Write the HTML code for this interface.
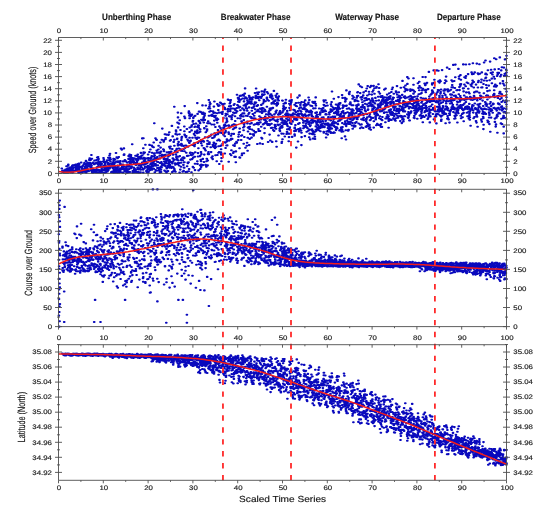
<!DOCTYPE html><html><head><meta charset="utf-8"><title>Ship phases</title><style>html,body{margin:0;padding:0;background:#fff;}body{width:550px;height:515px;overflow:hidden}svg{display:block;filter:blur(0.35px)}</style></head><body><svg width="550" height="515" viewBox="0 0 550 515"><rect width="550" height="515" fill="#fff"/><path d="M64.3 171.6h.6M71.2 168.7h.6M78.4 168.3h.6M84.0 164.1h.6M91.1 167.8h.6M97.9 163.0h.6M104.7 164.7h.6M110.4 159.2h.6M117.3 158.3h.6M126.1 170.2h.6M130.2 160.2h.6M139.1 163.7h.6M145.1 161.2h.6M151.3 156.9h.6M159.9 153.1h.6M165.4 161.1h.6M170.9 151.5h.6M178.3 141.9h.6M185.7 137.3h.6M192.3 154.8h.6M199.1 141.4h.6M205.5 132.2h.6M212.7 111.4h.6M219.9 102.6h.6M225.1 132.4h.6M232.8 129.2h.6M238.7 107.6h.6M245.7 115.8h.6M251.2 118.3h.6M259.1 116.2h.6M266.0 118.2h.6M273.3 101.4h.6M280.1 127.8h.6M285.6 99.8h.6M292.3 121.0h.6M299.8 117.5h.6M305.0 121.2h.6M312.6 131.6h.6M319.6 128.3h.6M327.2 105.5h.6M333.5 98.7h.6M339.2 118.5h.6M346.1 98.9h.6M352.9 105.2h.6M360.7 112.1h.6M366.4 88.5h.6M373.3 85.9h.6M380.2 103.1h.6M387.3 100.1h.6M393.4 97.7h.6M399.7 98.3h.6M406.8 89.5h.6M413.2 84.7h.6M421.7 90.4h.6M427.8 89.1h.6M433.9 87.8h.6M440.8 89.5h.6M447.5 89.4h.6M454.6 88.0h.6M460.7 84.1h.6M467.9 83.3h.6M473.5 82.0h.6M481.2 79.6h.6M486.5 80.8h.6M493.5 76.7h.6M500.9 74.8h.6M67.9 172.6h.6M75.6 169.7h.6M96.6 167.2h.6M101.4 172.4h.6M123.6 166.6h.6M131.5 159.4h.6M137.3 167.5h.6M142.9 168.9h.6M149.1 168.5h.6M157.0 168.0h.6M163.6 159.1h.6M169.4 166.7h.6M177.3 164.1h.6M183.3 170.8h.6M191.2 172.2h.6M197.7 153.1h.6M204.8 137.3h.6M210.4 147.3h.6M217.7 133.6h.6M223.8 127.9h.6M230.5 139.7h.6M237.4 118.2h.6M243.4 143.7h.6M249.3 128.9h.6M258.4 130.9h.6M264.7 123.1h.6M271.4 115.2h.6M278.8 113.5h.6M283.4 123.9h.6M291.3 120.7h.6M298.1 129.1h.6M305.4 125.5h.6M311.6 111.7h.6M318.8 127.5h.6M325.3 114.5h.6M330.5 120.5h.6M337.8 121.3h.6M345.2 101.1h.6M352.2 120.2h.6M357.1 119.3h.6M366.1 114.0h.6M372.1 110.4h.6M379.6 111.1h.6M385.3 105.8h.6M391.7 112.0h.6M398.0 110.3h.6M407.3 114.6h.6M412.0 107.9h.6M420.4 115.0h.6M425.8 115.4h.6M432.6 114.0h.6M438.0 114.2h.6M445.7 113.9h.6M453.1 112.1h.6M458.1 113.3h.6M466.6 112.8h.6M473.0 112.6h.6M478.7 112.7h.6M485.6 113.9h.6M492.4 112.8h.6M499.6 113.5h.6M505.9 113.1h.6M70.3 168.6h.6M77.3 169.4h.6M86.3 170.9h.6M91.9 172.6h.6M113.2 162.3h.6M118.1 170.5h.6M124.6 160.0h.6M132.0 162.4h.6M138.6 165.4h.6M145.4 158.2h.6M151.4 156.7h.6M159.7 158.4h.6M166.1 134.6h.6M172.4 136.4h.6M179.0 144.8h.6M184.2 151.3h.6M192.2 137.7h.6M198.7 111.6h.6M206.0 126.2h.6M212.9 146.4h.6M218.4 139.6h.6M224.4 124.5h.6M232.5 108.5h.6M238.8 132.3h.6M245.6 108.0h.6M251.9 99.4h.6M259.0 100.2h.6M264.2 133.1h.6M273.5 117.2h.6M279.4 130.4h.6M286.9 110.9h.6M294.4 127.6h.6M300.1 110.7h.6M305.2 115.7h.6M312.8 138.6h.6M318.4 126.2h.6M326.2 114.4h.6M333.3 116.7h.6M338.6 118.4h.6M346.8 123.7h.6M351.7 105.2h.6M359.9 93.1h.6M366.6 104.5h.6M373.3 106.3h.6M379.9 107.4h.6M386.5 116.6h.6M393.1 107.8h.6M399.1 109.9h.6M407.0 97.5h.6M415.1 106.1h.6M421.7 108.5h.6M428.0 101.3h.6M434.2 101.1h.6M440.1 100.7h.6M448.1 101.3h.6M454.1 99.9h.6M461.3 99.8h.6M467.8 98.4h.6M474.1 97.8h.6M480.8 96.0h.6M487.6 95.7h.6M493.2 94.9h.6M500.3 93.7h.6M64.1 171.2h.6M71.2 170.0h.6M79.0 171.8h.6M90.9 170.6h.6M97.8 170.3h.6M103.9 172.6h.6M111.6 165.8h.6M125.1 168.8h.6M132.8 170.9h.6M138.0 172.6h.6M145.7 166.6h.6M152.1 163.9h.6M159.4 155.6h.6M166.2 159.7h.6M174.0 168.9h.6M178.8 165.5h.6M185.9 145.8h.6M192.1 153.0h.6M199.7 156.3h.6M206.5 158.7h.6M213.1 137.8h.6M219.6 140.6h.6M227.6 109.7h.6M231.4 119.2h.6M239.7 157.8h.6M247.1 100.4h.6M253.6 124.8h.6M259.7 131.0h.6M266.4 121.7h.6M272.6 116.7h.6M280.2 127.6h.6M288.3 129.1h.6M294.4 128.4h.6M299.6 107.5h.6M306.7 127.2h.6M313.0 120.3h.6M320.7 124.8h.6M326.3 131.5h.6M333.5 132.3h.6M341.4 131.7h.6M347.8 118.5h.6M353.8 126.8h.6M359.9 128.2h.6M365.9 127.0h.6M373.4 127.6h.6M379.6 116.3h.6M388.3 116.3h.6M394.1 119.2h.6M401.5 108.4h.6M408.3 117.1h.6M415.3 114.1h.6M420.5 115.4h.6M428.1 117.1h.6M435.8 116.5h.6M440.8 116.6h.6M447.6 118.0h.6M454.9 116.5h.6M460.5 115.8h.6M469.5 117.2h.6M473.3 118.2h.6M481.1 120.1h.6M488.3 121.8h.6M494.6 121.9h.6M501.7 124.1h.6M88.9 165.2h.6M96.0 162.7h.6M103.2 166.9h.6M111.7 164.4h.6M115.4 169.8h.6M123.0 172.6h.6M130.8 168.3h.6M136.7 162.1h.6M143.6 161.1h.6M151.5 156.1h.6M156.6 152.8h.6M163.0 149.3h.6M169.4 154.6h.6M177.6 144.0h.6M183.9 157.5h.6M189.3 132.0h.6M196.9 132.0h.6M204.5 113.5h.6M211.3 157.6h.6M217.6 134.2h.6M224.5 153.5h.6M231.4 133.8h.6M236.5 142.7h.6M243.7 109.7h.6M251.3 123.1h.6M257.0 144.0h.6M263.1 95.0h.6M270.8 128.0h.6M278.2 135.5h.6M286.1 118.6h.6M289.8 122.9h.6M299.8 129.1h.6M304.1 108.2h.6M311.6 119.8h.6M318.9 108.5h.6M325.5 111.2h.6M331.9 110.9h.6M337.7 114.2h.6M345.4 113.0h.6M351.8 115.0h.6M356.8 96.1h.6M367.0 125.5h.6M372.6 117.9h.6M379.8 111.4h.6M385.2 101.4h.6M393.2 102.9h.6M399.8 106.1h.6M407.2 104.2h.6M412.2 89.9h.6M418.2 103.7h.6M425.7 103.1h.6M431.1 99.9h.6M438.2 101.2h.6M445.7 101.3h.6M452.0 98.7h.6M458.8 98.5h.6M466.0 97.3h.6M474.1 97.3h.6M480.5 98.2h.6M486.0 95.8h.6M493.9 93.7h.6M499.1 93.5h.6M506.2 91.6h.6M67.7 168.2h.6M87.4 171.0h.6M92.9 162.6h.6M99.4 163.6h.6M105.8 172.1h.6M113.8 165.5h.6M120.1 164.3h.6M127.1 172.6h.6M134.5 164.2h.6M139.6 156.8h.6M147.9 165.7h.6M153.3 147.2h.6M160.6 167.3h.6M167.4 166.0h.6M173.4 141.9h.6M180.2 130.0h.6M187.2 139.5h.6M195.1 132.2h.6M201.8 113.8h.6M209.0 136.7h.6M214.1 101.5h.6M221.0 112.6h.6M227.6 111.6h.6M235.0 109.9h.6M240.0 118.4h.6M249.1 97.0h.6M255.0 118.6h.6M261.0 104.9h.6M268.4 100.8h.6M275.9 97.1h.6M282.0 100.5h.6M289.2 117.8h.6M295.9 103.0h.6M302.9 115.2h.6M309.8 126.1h.6M315.5 126.4h.6M323.4 131.7h.6M329.1 114.4h.6M335.7 104.5h.6M342.0 123.1h.6M348.9 113.0h.6M356.7 119.2h.6M361.5 106.8h.6M370.1 116.9h.6M376.0 112.2h.6M382.8 109.4h.6M388.0 106.7h.6M395.8 104.3h.6M403.2 101.0h.6M409.3 99.3h.6M416.3 100.3h.6M421.3 93.0h.6M430.4 94.8h.6M436.1 93.6h.6M443.9 93.3h.6M449.1 90.8h.6M457.1 90.1h.6M463.3 91.4h.6M471.3 86.2h.6M475.7 84.6h.6M483.2 84.0h.6M491.6 83.2h.6M496.5 85.7h.6M503.0 83.6h.6M66.6 169.1h.6M72.3 172.6h.6M79.6 167.2h.6M87.8 170.3h.6M92.6 171.6h.6M100.1 170.9h.6M107.8 162.9h.6M113.6 163.7h.6M120.2 164.7h.6M127.0 165.9h.6M135.1 171.8h.6M141.4 158.3h.6M147.4 168.1h.6M152.7 168.6h.6M159.6 167.8h.6M168.2 167.1h.6M175.2 171.8h.6M180.9 162.7h.6M188.3 162.3h.6M194.5 156.8h.6M200.8 167.1h.6M208.1 108.5h.6M215.2 155.3h.6M220.3 128.1h.6M228.8 125.9h.6M235.4 110.5h.6M240.6 99.5h.6M247.3 116.0h.6M254.9 109.3h.6M260.9 126.7h.6M267.2 99.7h.6M275.9 141.2h.6M281.9 125.9h.6M287.9 120.0h.6M296.7 114.9h.6M301.8 114.3h.6M308.1 111.4h.6M315.4 117.7h.6M321.4 125.4h.6M328.1 123.5h.6M336.0 108.4h.6M342.2 118.3h.6M348.6 108.4h.6M356.9 118.0h.6M362.9 128.0h.6M369.7 120.2h.6M376.5 110.8h.6M382.8 98.4h.6M390.1 101.9h.6M395.9 100.9h.6M403.9 116.3h.6M408.9 108.3h.6M416.0 112.6h.6M421.1 111.5h.6M428.9 114.0h.6M437.0 113.9h.6M443.9 112.7h.6M449.3 111.1h.6M456.4 111.1h.6M463.3 112.7h.6M469.7 111.8h.6M475.9 113.1h.6M483.5 112.5h.6M489.0 113.5h.6M496.7 115.3h.6M503.5 118.1h.6M70.6 167.4h.6M76.8 164.9h.6M82.5 165.9h.6M91.1 155.0h.6M96.9 157.5h.6M103.2 158.0h.6M109.6 159.4h.6M115.7 153.0h.6M130.5 155.8h.6M137.4 154.5h.6M143.3 153.6h.6M149.3 158.2h.6M156.0 139.5h.6M163.8 156.6h.6M169.8 148.5h.6M177.8 127.4h.6M184.7 118.2h.6M192.5 121.7h.6M198.2 126.9h.6M203.5 122.5h.6M210.4 111.0h.6M215.3 115.8h.6M224.2 103.8h.6M231.0 116.7h.6M238.2 99.1h.6M244.8 88.4h.6M251.5 110.7h.6M257.7 94.2h.6M264.8 89.5h.6M271.9 96.0h.6M276.8 93.7h.6M284.5 123.7h.6M290.1 105.3h.6M299.2 95.7h.6M305.5 109.4h.6M312.3 101.9h.6M317.5 125.1h.6M325.2 100.3h.6M331.7 91.5h.6M338.5 103.5h.6M344.7 97.9h.6M352.2 95.7h.6M358.4 84.4h.6M365.8 98.0h.6M372.2 109.0h.6M378.2 84.2h.6M385.4 100.0h.6M392.4 87.6h.6M399.2 102.4h.6M405.2 85.5h.6M413.2 78.3h.6M419.0 81.7h.6M425.2 77.1h.6M433.4 70.4h.6M438.1 70.7h.6M446.8 67.6h.6M453.0 64.9h.6M458.1 68.9h.6M465.6 64.5h.6M472.6 63.3h.6M479.1 64.3h.6M485.2 60.5h.6M494.0 58.3h.6M499.5 57.4h.6M506.2 55.7h.6M63.5 172.6h.6M69.3 168.4h.6M76.4 169.5h.6M84.3 171.6h.6M98.0 164.8h.6M106.2 170.7h.6M111.0 172.2h.6M117.8 161.3h.6M123.6 148.4h.6M130.2 158.3h.6M136.4 159.7h.6M144.3 164.2h.6M150.0 168.5h.6M156.8 161.8h.6M163.6 155.3h.6M170.8 162.3h.6M176.8 139.1h.6M183.4 149.0h.6M191.3 130.4h.6M198.3 170.4h.6M205.3 150.5h.6M211.8 116.0h.6M218.0 110.1h.6M225.3 115.8h.6M230.5 100.0h.6M239.7 106.9h.6M245.7 104.8h.6M251.6 129.5h.6M257.6 105.3h.6M265.2 101.3h.6M270.9 97.6h.6M278.4 100.5h.6M285.8 115.2h.6M292.1 114.2h.6M298.7 129.9h.6M306.0 111.7h.6M311.6 130.3h.6M319.4 122.5h.6M325.3 120.9h.6M331.3 102.1h.6M339.1 104.8h.6M345.0 123.1h.6M353.8 125.3h.6M358.5 114.4h.6M367.0 117.4h.6M372.1 104.8h.6M380.3 105.4h.6M385.5 102.2h.6M391.9 115.0h.6M400.0 110.4h.6M407.0 105.9h.6M412.4 104.7h.6M420.2 108.8h.6M426.4 107.6h.6M432.9 107.7h.6M440.1 108.9h.6M446.5 106.9h.6M452.2 106.2h.6M461.1 106.5h.6M467.3 106.3h.6M473.1 105.7h.6M479.2 106.6h.6M485.8 103.3h.6M492.4 104.4h.6M501.3 102.0h.6M83.5 164.3h.6M89.7 164.3h.6M97.5 166.7h.6M102.8 161.5h.6M109.2 155.5h.6M116.4 157.3h.6M123.7 161.2h.6M130.7 161.7h.6M137.7 158.4h.6M143.5 164.7h.6M150.8 163.6h.6M157.1 157.0h.6M163.8 151.2h.6M169.1 146.9h.6M176.2 149.7h.6M184.7 148.1h.6M189.4 127.5h.6M197.1 130.3h.6M204.3 115.8h.6M210.1 103.8h.6M217.0 104.0h.6M224.7 125.9h.6M229.4 116.4h.6M238.4 134.5h.6M245.6 106.0h.6M251.4 118.0h.6M257.7 122.8h.6M264.9 116.5h.6M272.6 98.5h.6M277.4 104.3h.6M284.5 108.9h.6M291.4 100.0h.6M298.5 114.8h.6M305.3 121.1h.6M311.8 106.0h.6M318.4 130.3h.6M324.6 110.2h.6M331.4 110.2h.6M338.4 107.1h.6M345.2 99.5h.6M352.1 109.7h.6M358.1 104.2h.6M366.0 118.7h.6M371.8 106.4h.6M378.1 104.3h.6M386.3 97.6h.6M391.7 89.2h.6M399.6 96.4h.6M405.8 90.1h.6M412.0 98.3h.6M418.9 90.2h.6M425.5 92.2h.6M432.5 91.5h.6M440.4 92.1h.6M444.4 89.2h.6M452.6 87.4h.6M460.1 85.7h.6M465.4 86.2h.6M471.9 83.2h.6M480.9 82.3h.6M485.9 85.0h.6M494.4 78.7h.6M500.1 76.4h.6M506.2 75.5h.6M66.0 172.6h.6M72.1 170.7h.6M78.7 169.3h.6M86.8 170.5h.6M92.5 168.6h.6M99.3 170.9h.6M106.6 168.7h.6M113.9 171.9h.6M118.7 170.9h.6M127.9 165.2h.6M133.5 161.4h.6M140.0 168.4h.6M147.7 166.2h.6M153.5 161.2h.6M160.1 142.5h.6M168.3 134.6h.6M173.5 159.9h.6M180.9 160.1h.6M188.1 155.8h.6M193.0 117.9h.6M201.1 154.1h.6M207.9 121.3h.6M215.8 134.8h.6M220.4 132.5h.6M227.7 108.9h.6M234.8 109.7h.6M241.1 95.6h.6M247.3 102.6h.6M254.7 93.0h.6M261.2 118.0h.6M268.3 112.1h.6M275.4 126.3h.6M282.1 120.1h.6M289.2 107.9h.6M294.9 119.6h.6M300.9 111.6h.6M308.4 124.3h.6M314.8 121.1h.6M321.4 108.8h.6M328.1 119.4h.6M334.4 117.5h.6M342.6 111.4h.6M350.1 119.4h.6M354.9 125.7h.6M362.5 105.1h.6M368.5 103.3h.6M376.2 87.8h.6M382.3 104.3h.6M388.8 102.8h.6M395.7 91.2h.6M402.1 106.9h.6M408.7 106.8h.6M416.2 99.1h.6M421.7 101.6h.6M429.6 101.9h.6M435.9 102.3h.6M443.2 100.0h.6M449.7 100.6h.6M456.9 101.5h.6M461.6 99.6h.6M469.9 98.7h.6M476.1 98.2h.6M483.0 97.2h.6M490.1 96.8h.6M496.9 96.4h.6M501.6 94.2h.6M67.3 169.5h.6M75.5 168.9h.6M82.7 171.1h.6M87.0 168.7h.6M96.1 162.6h.6M101.4 163.9h.6M109.7 157.8h.6M115.1 171.2h.6M120.7 164.7h.6M128.8 169.1h.6M136.3 159.1h.6M143.1 138.2h.6M150.3 167.8h.6M156.2 157.4h.6M161.8 156.3h.6M168.5 152.7h.6M175.6 154.3h.6M181.4 144.9h.6M188.6 111.3h.6M194.2 146.3h.6M202.6 113.9h.6M209.2 111.8h.6M218.3 146.2h.6M223.2 127.6h.6M228.9 106.3h.6M236.7 94.8h.6M242.1 108.4h.6M249.0 112.7h.6M254.7 102.4h.6M264.0 92.0h.6M269.9 95.4h.6M275.4 95.6h.6M282.9 108.6h.6M290.8 116.4h.6M296.8 119.8h.6M303.6 102.3h.6M309.0 112.2h.6M315.9 116.1h.6M323.0 108.1h.6M330.8 110.8h.6M336.1 129.0h.6M342.3 108.1h.6M351.6 112.8h.6M356.4 97.7h.6M364.2 100.8h.6M370.8 85.9h.6M377.9 96.7h.6M385.1 107.5h.6M391.4 113.0h.6M397.8 104.4h.6M403.6 97.1h.6M410.1 89.4h.6M417.6 83.3h.6M425.0 85.3h.6M431.9 84.6h.6M439.2 82.6h.6M444.4 83.1h.6M451.3 80.3h.6M458.7 78.7h.6M464.2 77.2h.6M471.3 72.4h.6M477.5 73.2h.6M485.4 73.6h.6M490.8 69.7h.6M498.4 69.0h.6M503.6 67.6h.6M71.9 171.6h.6M78.4 172.5h.6M86.5 168.4h.6M93.3 163.0h.6M100.1 172.6h.6M106.2 166.4h.6M113.5 172.2h.6M119.3 169.1h.6M126.7 169.0h.6M132.6 172.2h.6M140.3 167.5h.6M147.4 171.5h.6M153.7 153.5h.6M159.2 169.2h.6M167.8 160.2h.6M173.2 159.0h.6M179.5 156.1h.6M186.9 155.9h.6M192.6 166.9h.6M200.3 111.9h.6M207.2 140.8h.6M214.0 120.6h.6M220.7 152.2h.6M226.9 121.6h.6M233.5 133.9h.6M239.9 115.7h.6M247.7 131.5h.6M253.4 135.6h.6M260.2 108.5h.6M267.2 118.4h.6M274.7 100.9h.6M279.6 124.5h.6M286.7 131.9h.6M294.5 114.3h.6M301.2 132.8h.6M308.2 102.5h.6M315.3 103.7h.6M322.1 110.3h.6M328.7 119.4h.6M334.6 122.4h.6M340.9 119.4h.6M347.6 117.8h.6M355.0 122.9h.6M361.5 109.5h.6M368.6 99.1h.6M375.1 97.9h.6M381.6 126.9h.6M389.0 93.3h.6M395.5 110.6h.6M402.1 119.2h.6M408.6 114.7h.6M414.9 108.5h.6M421.2 113.0h.6M428.8 114.3h.6M435.7 114.3h.6M442.2 112.9h.6M449.0 113.6h.6M457.4 112.3h.6M461.9 114.0h.6M469.1 115.3h.6M476.2 114.7h.6M482.1 113.6h.6M489.1 114.9h.6M497.2 116.3h.6M503.3 115.9h.6M65.0 171.8h.6M79.4 172.6h.6M93.3 169.6h.6M100.2 171.4h.6M105.9 167.0h.6M113.2 161.1h.6M118.8 172.6h.6M126.8 166.7h.6M133.4 167.6h.6M139.6 168.3h.6M145.3 163.9h.6M153.3 163.1h.6M159.4 169.9h.6M166.2 172.6h.6M174.3 170.3h.6M180.0 169.6h.6M186.0 136.0h.6M192.9 157.6h.6M198.5 132.6h.6M206.3 161.2h.6M213.8 143.3h.6M220.7 145.6h.6M226.5 141.4h.6M234.2 128.1h.6M240.1 110.3h.6M246.8 142.7h.6M253.0 107.7h.6M259.8 108.6h.6M268.2 124.4h.6M272.9 118.6h.6M281.3 133.6h.6M288.4 141.2h.6M294.2 131.1h.6M300.8 130.5h.6M307.2 128.2h.6M314.1 134.5h.6M321.3 110.3h.6M327.7 130.7h.6M334.6 117.3h.6M341.5 112.0h.6M348.0 122.0h.6M354.6 116.6h.6M361.2 124.4h.6M367.8 126.3h.6M374.2 93.8h.6M382.1 117.0h.6M388.3 127.7h.6M394.5 119.9h.6M403.1 121.4h.6M407.9 117.9h.6M414.5 113.0h.6M421.6 117.3h.6M427.7 118.8h.6M434.4 120.0h.6M441.1 119.6h.6M448.3 119.4h.6M455.0 118.5h.6M462.3 117.2h.6M469.5 119.8h.6M476.2 122.6h.6M483.3 124.8h.6M489.1 124.1h.6M495.4 126.6h.6M503.4 126.8h.6M72.6 171.5h.6M78.2 172.6h.6M85.9 172.6h.6M92.9 172.6h.6M98.5 172.4h.6M104.7 172.6h.6M111.4 171.7h.6M126.5 172.6h.6M134.9 172.2h.6M139.9 172.6h.6M145.5 158.5h.6M151.7 169.7h.6M159.9 172.0h.6M165.0 158.9h.6M172.3 166.8h.6M179.3 172.6h.6M185.4 172.1h.6M194.5 144.6h.6M200.0 169.0h.6M206.0 166.7h.6M212.4 159.1h.6M218.9 152.1h.6M225.3 148.0h.6M233.5 124.2h.6M239.4 128.6h.6M246.5 145.8h.6M253.4 134.2h.6M259.7 143.4h.6M266.9 123.9h.6M272.2 98.9h.6M280.5 126.7h.6M287.3 133.8h.6M294.3 134.4h.6M300.2 130.3h.6M306.7 121.1h.6M314.7 139.0h.6M321.7 124.0h.6M326.0 133.8h.6M333.6 125.9h.6M340.4 114.2h.6M348.0 130.1h.6M353.4 97.3h.6M361.2 112.3h.6M367.0 123.2h.6M375.6 115.9h.6M380.7 124.0h.6M387.8 117.6h.6M393.9 116.1h.6M401.5 123.1h.6M407.7 117.5h.6M413.6 117.7h.6M421.6 116.8h.6M427.4 119.0h.6M433.6 119.3h.6M440.9 120.9h.6M447.0 118.8h.6M454.1 118.7h.6M460.8 118.3h.6M468.5 118.4h.6M475.7 121.1h.6M481.5 121.7h.6M487.6 122.3h.6M495.7 124.4h.6M500.6 123.4h.6M69.7 167.6h.6M82.7 169.9h.6M89.0 162.7h.6M95.6 171.6h.6M109.4 168.4h.6M116.1 161.6h.6M121.9 166.2h.6M129.2 166.8h.6M136.3 162.9h.6M142.2 164.3h.6M149.2 144.9h.6M155.9 170.6h.6M163.4 149.7h.6M169.0 132.3h.6M176.9 138.6h.6M184.1 131.2h.6M189.8 153.0h.6M195.7 123.6h.6M203.2 141.1h.6M210.8 115.5h.6M216.4 161.2h.6M224.5 136.3h.6M230.9 155.2h.6M237.1 105.1h.6M243.3 130.2h.6M249.8 101.6h.6M256.9 123.1h.6M263.8 123.8h.6M269.9 97.1h.6M276.9 102.6h.6M283.4 103.8h.6M290.9 102.2h.6M297.6 111.1h.6M302.4 109.0h.6M310.2 105.6h.6M316.7 122.8h.6M323.9 127.2h.6M330.4 109.2h.6M337.3 113.0h.6M343.4 115.8h.6M351.3 111.8h.6M357.7 104.8h.6M363.6 120.1h.6M371.1 118.2h.6M377.2 115.1h.6M385.6 106.7h.6M391.2 119.9h.6M397.8 117.8h.6M404.7 103.1h.6M411.6 104.0h.6M418.1 109.5h.6M426.6 102.5h.6M431.9 104.5h.6M439.0 104.6h.6M445.9 103.4h.6M451.5 103.0h.6M459.7 101.1h.6M465.6 102.0h.6M472.3 100.0h.6M478.5 104.3h.6M486.3 105.0h.6M492.8 103.5h.6M498.5 103.9h.6M506.2 104.5h.6M70.0 172.0h.6M77.6 166.5h.6M84.6 168.3h.6M91.3 165.8h.6M98.3 166.4h.6M110.8 163.5h.6M117.2 169.6h.6M123.8 169.5h.6M130.7 157.1h.6M137.7 159.3h.6M144.9 163.3h.6M150.2 161.1h.6M157.5 165.2h.6M165.2 139.2h.6M170.8 167.3h.6M177.7 163.0h.6M185.6 145.6h.6M192.7 120.7h.6M197.5 142.9h.6M204.0 128.0h.6M212.5 144.7h.6M217.7 130.1h.6M225.2 142.6h.6M231.3 117.4h.6M239.2 148.2h.6M243.4 95.7h.6M250.3 103.4h.6M258.0 124.5h.6M266.6 97.5h.6M272.0 127.8h.6M277.6 103.4h.6M286.3 121.6h.6M293.2 109.8h.6M299.0 117.0h.6M305.7 123.5h.6M312.6 120.7h.6M319.8 119.7h.6M325.8 137.5h.6M333.0 121.2h.6M339.6 108.8h.6M345.9 124.6h.6M352.3 123.0h.6M360.0 124.7h.6M365.6 126.5h.6M373.1 101.0h.6M380.5 119.1h.6M386.6 118.5h.6M393.8 110.1h.6M398.5 111.6h.6M407.2 90.1h.6M413.0 105.5h.6M419.5 115.6h.6M426.0 108.9h.6M434.5 109.4h.6M440.9 110.3h.6M446.7 108.8h.6M452.6 109.0h.6M460.4 105.1h.6M466.7 107.2h.6M475.2 108.1h.6M479.8 103.7h.6M486.2 106.0h.6M494.1 107.9h.6M500.8 107.0h.6M65.3 169.6h.6M72.4 165.4h.6M78.6 163.5h.6M85.7 160.9h.6M92.4 171.7h.6M98.2 158.9h.6M103.7 167.1h.6M112.4 171.6h.6M117.9 162.2h.6M126.1 171.1h.6M132.5 171.1h.6M139.6 168.3h.6M146.6 172.4h.6M152.8 166.0h.6M159.0 152.6h.6M165.8 162.2h.6M172.0 149.0h.6M179.4 120.2h.6M184.7 118.1h.6M193.4 167.7h.6M199.6 122.4h.6M206.8 129.2h.6M213.0 115.5h.6M219.1 126.4h.6M226.3 118.3h.6M233.0 112.6h.6M239.0 101.9h.6M246.4 98.3h.6M254.7 103.1h.6M260.4 117.5h.6M267.8 142.0h.6M272.9 130.0h.6M281.6 141.7h.6M286.7 124.8h.6M294.3 117.6h.6M300.1 104.9h.6M306.8 120.3h.6M314.6 101.7h.6M321.0 118.9h.6M327.5 134.6h.6M334.0 123.5h.6M340.8 128.0h.6M347.3 112.3h.6M354.7 99.8h.6M360.9 107.1h.6M367.7 106.5h.6M373.5 121.2h.6M379.8 125.5h.6M387.4 103.3h.6M394.2 108.0h.6M401.6 109.0h.6M408.8 108.5h.6M413.8 103.1h.6M421.6 110.6h.6M426.6 111.2h.6M434.6 111.2h.6M441.2 109.9h.6M446.8 109.2h.6M453.8 107.5h.6M462.1 108.9h.6M468.5 107.1h.6M475.2 109.0h.6M481.2 109.1h.6M490.2 108.8h.6M494.7 108.6h.6M501.3 107.5h.6M73.3 165.4h.6M86.7 170.8h.6M93.9 164.2h.6M107.7 168.4h.6M114.2 165.3h.6M118.4 165.7h.6M126.7 162.5h.6M133.8 169.7h.6M140.2 158.7h.6M146.0 171.1h.6M154.8 158.4h.6M160.8 151.5h.6M167.1 163.5h.6M174.1 159.8h.6M180.9 113.3h.6M187.7 146.7h.6M194.9 115.7h.6M201.0 119.7h.6M206.8 146.5h.6M213.8 112.7h.6M221.4 130.1h.6M227.1 114.3h.6M235.6 151.4h.6M240.8 114.8h.6M249.3 97.8h.6M255.3 97.1h.6M260.9 97.9h.6M268.5 113.3h.6M275.7 112.8h.6M281.5 127.7h.6M288.0 117.4h.6M295.3 118.0h.6M303.0 120.6h.6M307.5 115.5h.6M315.5 121.6h.6M322.3 126.3h.6M328.4 126.0h.6M335.4 112.0h.6M342.3 97.9h.6M350.2 103.8h.6M355.9 113.1h.6M361.6 87.3h.6M369.9 102.6h.6M375.1 111.0h.6M383.4 100.1h.6M390.1 96.1h.6M397.0 115.8h.6M403.0 111.4h.6M410.1 101.1h.6M416.0 107.8h.6M423.2 104.2h.6M429.5 99.8h.6M438.3 101.1h.6M442.6 99.1h.6M451.0 99.6h.6M457.0 97.9h.6M463.6 99.6h.6M469.9 96.9h.6M477.1 98.3h.6M482.3 100.6h.6M489.1 97.4h.6M497.6 97.9h.6M502.9 100.5h.6M75.0 167.5h.6M82.0 169.6h.6M90.1 166.1h.6M95.9 163.3h.6M109.7 167.4h.6M116.2 171.3h.6M123.4 169.0h.6M129.0 165.7h.6M136.8 161.6h.6M144.4 152.6h.6M150.1 164.2h.6M155.6 158.6h.6M164.0 161.6h.6M170.1 152.8h.6M175.7 130.3h.6M184.1 116.6h.6M189.1 143.0h.6M198.1 148.2h.6M203.4 117.2h.6M211.4 124.5h.6M217.1 140.5h.6M222.8 104.2h.6M230.5 106.0h.6M237.7 97.9h.6M244.0 126.5h.6M251.8 107.9h.6M257.0 97.0h.6M264.1 91.1h.6M271.5 103.0h.6M277.4 119.5h.6M283.6 103.8h.6M290.4 103.9h.6M298.3 116.3h.6M304.9 100.4h.6M310.6 111.6h.6M317.3 117.2h.6M325.1 105.9h.6M330.6 104.3h.6M338.0 111.9h.6M344.4 105.8h.6M350.1 102.4h.6M358.2 105.0h.6M364.8 103.8h.6M372.2 91.7h.6M379.6 93.6h.6M385.4 102.7h.6M392.8 106.5h.6M399.5 106.5h.6M405.1 88.9h.6M411.3 99.2h.6M420.3 93.7h.6M425.8 90.1h.6M431.9 90.4h.6M438.7 90.3h.6M445.5 89.6h.6M451.9 85.0h.6M459.8 84.3h.6M466.6 82.5h.6M472.3 80.6h.6M478.3 80.9h.6M485.7 77.5h.6M492.1 74.5h.6M498.6 72.9h.6M506.2 72.5h.6M72.4 170.3h.6M80.0 171.5h.6M85.9 170.6h.6M92.8 172.6h.6M98.1 159.8h.6M105.0 172.6h.6M112.7 166.9h.6M120.0 161.0h.6M125.1 168.6h.6M132.4 172.6h.6M139.9 169.4h.6M144.7 159.5h.6M151.5 163.8h.6M159.8 171.8h.6M166.7 152.4h.6M172.7 161.5h.6M178.0 156.7h.6M186.7 171.9h.6M192.2 145.0h.6M201.0 164.5h.6M206.7 130.8h.6M213.9 124.6h.6M220.6 152.3h.6M226.9 145.5h.6M234.2 104.0h.6M240.9 140.0h.6M247.4 137.7h.6M254.6 112.8h.6M260.1 122.4h.6M267.8 124.9h.6M274.1 114.4h.6M279.8 114.3h.6M287.2 113.4h.6M293.8 119.0h.6M300.4 107.3h.6M307.8 122.3h.6M315.1 108.3h.6M320.6 124.9h.6M327.5 123.2h.6M333.8 113.1h.6M341.1 127.2h.6M348.3 129.9h.6M354.9 126.5h.6M361.5 99.6h.6M368.0 124.5h.6M374.3 113.9h.6M381.4 111.2h.6M386.9 105.4h.6M394.0 110.3h.6M402.1 117.3h.6M408.1 112.1h.6M416.2 106.2h.6M421.4 106.4h.6M428.9 109.1h.6M434.2 110.1h.6M442.1 110.7h.6M447.7 108.2h.6M455.5 108.5h.6M461.4 108.1h.6M468.8 108.6h.6M475.9 108.9h.6M483.4 109.0h.6M488.3 107.5h.6M496.8 108.2h.6M502.1 109.5h.6M68.0 164.5h.6M72.7 167.6h.6M79.1 167.1h.6M86.5 169.6h.6M94.1 164.3h.6M100.5 170.4h.6M108.0 170.3h.6M119.9 170.2h.6M127.3 164.9h.6M135.1 158.9h.6M140.8 165.6h.6M146.9 166.9h.6M153.3 160.5h.6M161.9 155.4h.6M168.1 135.0h.6M176.1 157.7h.6M180.7 150.8h.6M189.1 115.8h.6M193.7 133.9h.6M200.9 143.2h.6M207.4 123.3h.6M214.3 136.7h.6M221.2 133.0h.6M227.7 99.6h.6M235.0 110.0h.6M241.2 121.3h.6M248.5 127.0h.6M255.1 132.5h.6M261.5 91.4h.6M269.5 108.5h.6M275.7 120.9h.6M282.0 127.3h.6M288.5 133.7h.6M295.7 103.0h.6M302.4 109.0h.6M308.1 104.1h.6M316.3 123.9h.6M323.5 104.7h.6M329.9 127.0h.6M335.5 122.8h.6M341.5 116.4h.6M348.8 93.4h.6M355.6 100.8h.6M363.1 113.7h.6M368.7 91.7h.6M375.9 100.8h.6M383.5 102.4h.6M388.7 110.4h.6M397.2 104.4h.6M403.5 103.5h.6M408.8 96.8h.6M416.4 99.3h.6M422.7 98.5h.6M429.0 98.9h.6M435.1 97.6h.6M442.2 97.5h.6M450.2 94.8h.6M455.7 97.0h.6M463.9 95.5h.6M469.2 93.5h.6M476.8 91.6h.6M483.6 93.3h.6M489.3 90.5h.6M495.7 86.8h.6M504.1 85.4h.6M72.0 166.6h.6M79.4 170.7h.6M84.6 169.0h.6M92.2 171.3h.6M105.9 172.1h.6M113.6 169.8h.6M118.7 172.2h.6M127.5 172.6h.6M133.8 168.0h.6M139.6 169.2h.6M146.8 170.9h.6M153.6 165.8h.6M161.1 162.0h.6M167.1 158.5h.6M172.1 163.4h.6M180.3 149.3h.6M187.6 163.3h.6M193.8 143.4h.6M199.8 165.3h.6M207.5 160.5h.6M213.9 116.5h.6M220.6 152.8h.6M226.1 125.7h.6M233.4 151.8h.6M241.0 135.7h.6M247.1 123.4h.6M254.7 132.0h.6M261.8 111.0h.6M267.4 124.9h.6M274.5 124.7h.6M280.5 118.5h.6M287.3 126.1h.6M294.4 110.8h.6M300.0 128.3h.6M306.6 110.1h.6M315.6 129.7h.6M321.4 127.5h.6M328.9 130.0h.6M334.6 116.6h.6M341.4 138.2h.6M349.1 115.4h.6M355.0 117.1h.6M360.7 107.3h.6M369.2 124.9h.6M374.5 107.6h.6M381.9 120.2h.6M390.2 104.7h.6M395.0 113.8h.6M403.0 108.8h.6M408.6 115.5h.6M415.7 108.7h.6M422.3 108.3h.6M429.1 109.5h.6M434.6 109.7h.6M441.5 109.6h.6M449.2 110.7h.6M454.9 108.5h.6M461.9 109.3h.6M469.5 109.2h.6M475.9 109.1h.6M481.9 109.5h.6M488.7 109.7h.6M496.0 109.2h.6M502.4 109.5h.6M61.5 168.5h.6M75.4 164.5h.6M84.4 164.5h.6M90.4 164.2h.6M103.6 159.5h.6M109.7 153.8h.6M123.6 154.9h.6M129.6 163.6h.6M137.1 156.2h.6M143.4 152.3h.6M151.7 160.5h.6M157.6 159.0h.6M163.4 140.4h.6M169.7 140.7h.6M178.6 148.5h.6M184.6 135.5h.6M190.3 116.1h.6M198.2 126.8h.6M204.5 119.9h.6M210.2 135.8h.6M217.8 105.5h.6M223.8 125.2h.6M232.2 115.1h.6M238.0 97.7h.6M243.5 120.1h.6M252.5 114.0h.6M258.6 92.2h.6M264.3 128.3h.6M271.0 94.3h.6M277.3 98.1h.6M285.2 102.6h.6M291.3 114.8h.6M298.8 113.9h.6M304.1 107.5h.6M311.2 123.1h.6M319.3 114.5h.6M325.4 123.5h.6M332.9 132.9h.6M338.0 109.6h.6M346.1 90.4h.6M352.3 98.7h.6M357.5 92.0h.6M366.5 99.9h.6M372.0 98.4h.6M378.9 88.0h.6M385.3 88.6h.6M393.5 93.7h.6M398.5 92.2h.6M407.0 77.1h.6M413.2 93.8h.6M419.2 86.1h.6M426.7 82.8h.6M433.7 82.9h.6M439.6 80.4h.6M446.0 81.2h.6M453.9 81.0h.6M460.6 79.8h.6M465.7 76.0h.6M473.2 74.0h.6M479.5 73.7h.6M486.5 74.5h.6M492.4 72.3h.6M500.9 70.4h.6M66.8 169.8h.6M75.2 170.9h.6M81.7 168.8h.6M101.2 170.7h.6M107.7 164.3h.6M115.1 167.1h.6M123.1 168.0h.6M127.4 164.7h.6M135.7 164.9h.6M141.8 162.5h.6M149.0 160.6h.6M155.1 165.4h.6M161.9 154.9h.6M168.8 166.2h.6M176.2 156.4h.6M181.1 140.1h.6M189.3 137.7h.6M195.2 137.8h.6M201.2 141.1h.6M209.2 142.4h.6M214.3 133.3h.6M223.0 118.5h.6M229.9 154.0h.6M234.9 143.6h.6M243.0 127.5h.6M249.4 138.9h.6M256.1 124.0h.6M261.7 112.9h.6M269.8 119.7h.6M276.3 146.8h.6M283.1 133.7h.6M289.3 133.8h.6M297.0 117.7h.6M303.1 128.3h.6M309.9 139.4h.6M317.4 127.7h.6M323.5 132.8h.6M330.6 132.9h.6M336.4 127.4h.6M342.9 131.5h.6M349.8 118.2h.6M357.1 119.3h.6M364.1 107.1h.6M370.5 129.8h.6M377.5 114.9h.6M383.8 112.9h.6M389.5 119.9h.6M396.8 108.8h.6M404.7 111.4h.6M410.0 107.0h.6M416.0 112.2h.6M424.3 112.3h.6M429.9 112.5h.6M438.7 111.7h.6M443.4 111.8h.6M450.3 110.2h.6M457.1 110.0h.6M464.5 109.1h.6M470.3 110.1h.6M477.3 111.0h.6M484.3 112.5h.6M490.8 111.0h.6M498.4 112.8h.6M503.5 112.2h.6M67.1 172.6h.6M81.2 171.7h.6M86.5 171.6h.6M93.6 171.0h.6M101.7 170.9h.6M108.7 164.1h.6M113.0 172.6h.6M119.8 169.5h.6M127.7 171.3h.6M134.0 158.4h.6M140.3 172.2h.6M147.6 172.6h.6M153.6 156.4h.6M159.6 172.6h.6M167.7 171.1h.6M174.9 163.2h.6M181.4 145.8h.6M188.4 171.3h.6M194.7 163.7h.6M200.8 166.2h.6M207.7 154.1h.6M213.5 142.5h.6M221.1 161.2h.6M228.6 134.0h.6M235.3 156.9h.6M243.0 116.4h.6M247.7 127.6h.6M253.9 115.7h.6M262.4 144.0h.6M268.9 111.0h.6M274.4 120.2h.6M281.4 143.0h.6M288.7 137.1h.6M296.0 147.6h.6M301.1 145.1h.6M308.9 137.3h.6M314.6 136.7h.6M321.6 117.5h.6M328.1 126.0h.6M335.8 128.0h.6M342.2 127.1h.6M348.9 115.1h.6M353.9 118.5h.6M363.4 117.6h.6M368.8 128.6h.6M376.0 125.3h.6M381.5 119.8h.6M390.1 119.5h.6M395.2 120.7h.6M402.9 119.0h.6M409.1 120.4h.6M417.0 118.7h.6M422.5 122.2h.6M429.5 122.4h.6M436.1 123.4h.6M445.3 123.3h.6M449.2 122.6h.6M457.1 122.5h.6M463.4 121.3h.6M470.3 125.7h.6M477.3 126.7h.6M483.1 129.1h.6M490.0 131.7h.6M497.1 132.7h.6M503.4 133.4h.6M65.6 169.7h.6M72.5 168.7h.6M78.8 164.4h.6M87.1 162.6h.6M91.6 158.7h.6M100.3 161.9h.6M106.1 161.6h.6M113.1 165.2h.6M126.9 172.6h.6M132.3 158.1h.6M140.5 165.1h.6M145.4 163.9h.6M154.0 123.2h.6M160.3 147.6h.6M165.8 163.3h.6M174.0 106.7h.6M180.7 145.0h.6M188.5 112.7h.6M194.1 116.3h.6M202.2 120.4h.6M208.5 100.0h.6M213.3 112.9h.6M220.6 103.0h.6M228.4 100.0h.6M234.3 113.1h.6M241.5 155.3h.6M248.0 103.3h.6M254.0 104.5h.6M261.4 96.3h.6M267.7 93.4h.6M273.3 102.2h.6M281.4 118.2h.6M289.0 103.7h.6M295.7 112.3h.6M301.3 102.1h.6M308.2 130.6h.6M315.4 97.4h.6M322.4 112.0h.6M328.8 112.5h.6M335.2 108.0h.6M341.8 95.1h.6M349.0 94.3h.6M357.0 96.2h.6M361.8 97.1h.6M367.4 86.1h.6M376.2 86.8h.6M382.0 96.0h.6M389.0 98.7h.6M396.7 86.1h.6M402.2 80.9h.6M408.2 78.5h.6M414.5 91.8h.6M422.4 77.0h.6M428.6 71.9h.6M436.5 70.4h.6M441.8 70.1h.6M449.1 69.0h.6M455.1 64.6h.6M463.0 64.4h.6M469.1 64.2h.6M476.5 63.6h.6M483.8 62.5h.6M489.8 61.6h.6M495.9 59.2h.6M504.7 59.4h.6M63.6 170.7h.6M70.1 169.9h.6M76.1 168.1h.6M90.0 162.9h.6M104.0 169.9h.6M110.2 161.3h.6M117.4 165.5h.6M123.8 154.9h.6M130.2 163.7h.6M138.5 157.3h.6M143.0 172.6h.6M151.8 152.7h.6M158.1 149.5h.6M164.6 165.7h.6M170.5 166.5h.6M177.6 112.6h.6M183.3 145.9h.6M190.1 152.6h.6M197.3 113.9h.6M203.5 141.8h.6M211.5 114.8h.6M219.1 105.4h.6M222.3 111.9h.6M230.4 108.2h.6M238.5 98.1h.6M245.2 147.8h.6M251.7 103.5h.6M258.6 97.4h.6M265.4 120.9h.6M272.6 107.9h.6M279.4 128.6h.6M285.5 107.7h.6M292.5 116.8h.6M297.5 115.0h.6M305.5 116.1h.6M311.2 113.1h.6M319.8 114.8h.6M327.4 131.2h.6M332.7 107.5h.6M337.8 107.3h.6M345.8 105.9h.6M352.6 113.1h.6M359.6 109.7h.6M366.7 114.1h.6M373.0 90.2h.6M377.6 104.7h.6M387.1 99.3h.6M392.2 99.6h.6M399.4 100.3h.6M407.1 83.9h.6M412.9 97.4h.6M418.4 94.2h.6M425.7 89.9h.6M433.0 92.8h.6M440.2 93.6h.6M447.7 91.4h.6M453.3 92.2h.6M459.3 90.1h.6M468.0 88.7h.6M473.5 87.5h.6M481.1 87.5h.6M486.4 87.9h.6M493.9 86.4h.6M499.9 83.4h.6M62.3 171.9h.6M77.5 164.1h.6M84.8 169.3h.6M89.0 159.9h.6M96.8 172.5h.6M103.4 166.2h.6M109.5 163.8h.6M122.6 168.2h.6M130.0 158.0h.6M137.9 171.7h.6M144.3 161.2h.6M151.5 145.6h.6M157.9 170.5h.6M164.2 170.6h.6M171.2 167.9h.6M177.0 159.0h.6M184.0 126.5h.6M191.3 155.1h.6M197.2 163.9h.6M203.5 148.0h.6M212.2 156.4h.6M218.9 112.6h.6M224.3 142.2h.6M230.8 138.9h.6M238.4 99.5h.6M245.3 97.4h.6M250.8 103.8h.6M258.5 111.3h.6M265.2 118.7h.6M271.8 108.5h.6M280.3 113.3h.6M286.1 113.4h.6M292.7 116.1h.6M299.2 123.1h.6M307.4 121.9h.6M312.7 116.7h.6M317.7 120.0h.6M325.5 114.1h.6M332.7 123.6h.6M338.4 107.8h.6M345.9 126.1h.6M352.1 109.3h.6M359.1 111.1h.6M365.8 98.5h.6M373.0 101.5h.6M378.0 106.1h.6M386.2 104.2h.6M392.4 99.4h.6M399.1 95.9h.6M404.5 102.0h.6M413.6 100.3h.6M418.0 101.4h.6M425.2 99.6h.6M433.1 98.0h.6M439.1 95.9h.6M446.3 97.4h.6M451.5 94.6h.6M460.0 96.1h.6M466.6 97.3h.6M473.7 95.9h.6M480.0 95.6h.6M486.8 95.7h.6M494.0 95.0h.6M499.6 91.9h.6M68.4 170.3h.6M83.2 169.4h.6M89.4 158.3h.6M103.7 162.2h.6M109.4 159.1h.6M114.7 159.4h.6M122.4 172.6h.6M129.3 154.5h.6M137.8 160.0h.6M142.8 169.6h.6M148.8 166.4h.6M156.3 139.9h.6M163.3 157.7h.6M168.8 152.0h.6M176.5 148.8h.6M183.2 157.3h.6M191.3 126.7h.6M198.4 127.7h.6M202.5 158.9h.6M209.6 104.5h.6M216.1 118.9h.6M222.9 132.8h.6M229.5 103.5h.6M236.6 108.0h.6M244.2 98.6h.6M250.0 116.7h.6M255.7 102.6h.6M262.8 124.4h.6M271.3 127.9h.6M278.2 114.8h.6M283.1 110.6h.6M289.0 120.4h.6M297.5 117.4h.6M305.4 105.7h.6M311.8 129.3h.6M317.8 121.2h.6M324.3 127.0h.6M331.1 106.0h.6M337.6 124.2h.6M345.5 130.2h.6M351.3 117.6h.6M357.0 96.0h.6M364.3 108.3h.6M370.3 105.6h.6M377.5 108.1h.6M385.4 103.5h.6M390.5 109.2h.6M398.8 101.4h.6M406.2 105.2h.6M412.3 99.7h.6M417.5 103.8h.6M424.6 103.8h.6M431.5 101.3h.6M438.2 102.7h.6M443.8 100.5h.6M452.4 100.2h.6M459.4 99.3h.6M466.0 99.4h.6M471.2 97.7h.6M479.8 99.3h.6M486.5 95.4h.6M492.9 96.3h.6M498.3 96.0h.6M506.2 97.3h.6M63.4 170.5h.6M75.7 168.2h.6M89.5 166.8h.6M97.8 157.1h.6M104.9 163.4h.6M110.5 166.5h.6M123.6 161.1h.6M131.4 158.3h.6M137.8 169.2h.6M143.6 157.8h.6M150.7 160.4h.6M157.7 162.0h.6M165.2 163.1h.6M169.6 155.3h.6M177.2 122.6h.6M183.9 158.2h.6M191.4 125.4h.6M198.5 120.9h.6M203.7 162.0h.6M209.2 143.9h.6M218.2 105.9h.6M224.9 109.2h.6M230.0 111.3h.6M238.0 101.8h.6M244.5 93.6h.6M249.8 123.8h.6M258.8 120.1h.6M265.2 111.2h.6M271.4 103.7h.6M277.9 114.6h.6M284.3 120.6h.6M291.0 101.6h.6M298.9 108.6h.6M304.1 107.4h.6M312.7 122.5h.6M319.1 119.2h.6M323.9 105.5h.6M333.2 109.5h.6M339.2 130.4h.6M344.9 101.6h.6M352.0 110.2h.6M357.9 101.3h.6M366.1 119.4h.6M370.6 104.9h.6M378.5 100.4h.6M386.9 94.6h.6M393.3 102.0h.6M398.5 108.9h.6M405.4 106.7h.6M413.2 93.5h.6M419.4 106.8h.6M426.2 100.1h.6M433.5 98.7h.6M438.9 99.3h.6M446.8 98.7h.6M451.0 97.6h.6M460.6 97.7h.6M465.7 97.4h.6M473.1 98.3h.6M479.6 97.7h.6M487.1 99.5h.6M493.8 96.7h.6M499.8 99.3h.6M64.8 172.6h.6M71.5 168.3h.6M77.8 167.1h.6M84.5 171.5h.6M90.3 159.9h.6M104.4 168.5h.6M117.0 172.6h.6M125.8 161.2h.6M130.9 162.6h.6M139.3 172.6h.6M144.8 166.8h.6M152.5 166.3h.6M158.5 168.7h.6M165.4 171.4h.6M171.9 172.1h.6M179.2 163.0h.6M186.0 152.7h.6M193.0 153.6h.6M199.9 155.7h.6M205.3 164.9h.6M213.6 146.9h.6M219.0 164.0h.6M225.7 122.5h.6M233.1 145.2h.6M239.3 157.4h.6M247.3 150.8h.6M252.5 134.3h.6M259.5 111.7h.6M265.9 114.3h.6M271.2 123.7h.6M279.7 131.1h.6M285.4 124.0h.6M294.2 110.0h.6M301.0 118.2h.6M306.4 131.8h.6M312.2 134.2h.6M319.9 113.4h.6M326.6 124.6h.6M333.7 109.1h.6M339.8 118.4h.6M345.7 139.5h.6M353.3 118.9h.6M359.8 113.9h.6M367.6 110.0h.6M373.0 102.1h.6M380.5 96.9h.6M387.2 114.8h.6M393.0 113.7h.6M400.0 121.1h.6M407.0 106.1h.6M414.0 115.9h.6M420.8 118.2h.6M428.5 113.8h.6M434.6 117.1h.6M439.8 115.5h.6M447.3 116.0h.6M454.4 115.7h.6M460.4 115.8h.6M467.2 116.2h.6M474.2 117.0h.6M481.1 119.2h.6M487.3 120.5h.6M494.6 118.6h.6M501.1 118.8h.6M66.2 171.5h.6M72.0 172.1h.6M78.8 169.3h.6M84.8 172.0h.6M94.4 172.2h.6M99.4 170.4h.6M106.6 168.9h.6M113.3 168.2h.6M121.5 169.2h.6M126.2 172.2h.6M133.6 172.4h.6M139.8 165.6h.6M146.9 162.5h.6M152.1 162.8h.6M160.8 172.0h.6M166.5 168.5h.6M173.1 167.2h.6M180.7 166.7h.6M187.5 162.6h.6M194.9 152.2h.6M199.9 131.7h.6M207.5 137.5h.6M214.7 148.1h.6M220.8 149.3h.6M228.3 132.4h.6M234.2 128.0h.6M241.8 153.5h.6M247.1 121.5h.6M253.4 130.7h.6M260.8 119.4h.6M268.7 111.4h.6M274.0 103.7h.6M280.5 119.4h.6M287.9 115.3h.6M294.4 135.7h.6M300.9 113.8h.6M308.5 121.6h.6M313.2 132.5h.6M322.6 126.5h.6M328.4 131.6h.6M334.3 132.7h.6M342.6 105.3h.6M348.5 116.0h.6M356.1 108.4h.6M361.3 127.2h.6M369.6 114.0h.6M375.4 119.4h.6M380.8 127.0h.6M389.2 112.1h.6M395.1 114.1h.6M401.7 116.2h.6M408.6 112.5h.6M414.2 118.1h.6M422.6 115.9h.6M428.9 115.2h.6M435.9 114.4h.6M443.8 114.2h.6M449.3 113.4h.6M455.3 113.4h.6M462.3 113.5h.6M469.1 115.4h.6M476.8 116.8h.6M482.8 116.7h.6M488.8 117.5h.6M496.5 116.4h.6M503.0 117.4h.6M66.5 170.8h.6M74.5 165.1h.6M81.7 172.2h.6M86.6 168.8h.6M101.8 167.0h.6M108.0 164.1h.6M113.2 158.9h.6M120.7 148.6h.6M128.5 155.9h.6M135.7 159.7h.6M140.4 157.5h.6M147.8 154.5h.6M154.5 164.0h.6M161.5 139.7h.6M168.1 161.0h.6M175.3 134.1h.6M181.3 138.0h.6M189.7 114.8h.6M194.9 126.5h.6M201.7 112.7h.6M209.5 102.2h.6M214.8 116.4h.6M222.0 113.9h.6M229.4 127.6h.6M234.7 116.3h.6M242.4 98.5h.6M249.5 99.2h.6M255.8 88.5h.6M262.0 94.4h.6M268.6 124.0h.6M274.5 127.8h.6M281.8 119.7h.6M289.3 114.6h.6M296.1 117.9h.6M302.6 117.0h.6M309.0 100.1h.6M315.6 105.6h.6M322.5 126.0h.6M329.2 125.3h.6M336.8 114.8h.6M343.0 106.9h.6M349.4 104.1h.6M356.5 100.5h.6M362.9 95.4h.6M369.8 87.2h.6M374.7 103.4h.6M382.6 97.4h.6M389.2 99.0h.6M396.8 111.3h.6M403.0 102.4h.6M410.1 90.9h.6M417.2 96.2h.6M422.7 88.8h.6M431.2 93.9h.6M437.3 92.0h.6M443.4 90.8h.6M450.6 89.8h.6M456.3 90.2h.6M463.4 88.2h.6M470.4 84.8h.6M477.6 87.5h.6M483.7 80.5h.6M489.3 80.2h.6M497.4 74.4h.6M503.9 75.9h.6M75.1 165.8h.6M81.8 167.1h.6M96.2 160.0h.6M101.4 169.1h.6M108.0 157.8h.6M116.8 168.1h.6M128.3 156.1h.6M135.2 155.8h.6M141.4 155.6h.6M149.1 152.0h.6M155.8 158.6h.6M162.0 128.6h.6M169.0 164.4h.6M176.5 157.0h.6M182.5 160.3h.6M190.8 115.3h.6M197.0 103.1h.6M202.8 112.5h.6M208.7 115.8h.6M216.6 120.1h.6M223.0 106.5h.6M230.0 109.6h.6M236.9 111.3h.6M242.9 94.9h.6M249.9 133.9h.6M256.9 92.6h.6M262.7 103.5h.6M269.0 116.9h.6M277.7 98.1h.6M283.4 106.7h.6M289.3 128.6h.6M296.5 106.2h.6M303.0 122.7h.6M309.0 114.8h.6M316.7 114.9h.6M322.5 121.4h.6M330.2 111.4h.6M336.7 110.2h.6M344.3 117.7h.6M350.4 109.5h.6M356.9 109.4h.6M363.3 92.4h.6M370.2 102.4h.6M375.9 113.0h.6M384.8 108.5h.6M391.0 101.6h.6M396.9 94.6h.6M404.4 91.5h.6M410.3 95.8h.6M416.7 98.5h.6M424.4 90.2h.6M432.1 91.9h.6M437.7 90.0h.6M444.1 90.7h.6M451.4 87.2h.6M459.1 87.1h.6M464.1 84.5h.6M471.8 83.7h.6M477.9 82.3h.6M485.2 78.3h.6M491.5 78.6h.6M496.8 76.0h.6M504.5 73.7h.6M70.8 170.0h.6M76.6 170.8h.6M88.5 171.1h.6M104.4 165.7h.6M110.6 166.8h.6M122.7 164.5h.6M129.9 162.5h.6M135.4 169.4h.6M144.5 163.0h.6M151.0 166.7h.6M155.2 138.3h.6M162.3 165.5h.6M170.7 162.1h.6M176.9 134.6h.6M183.6 167.6h.6M190.2 141.3h.6M198.7 137.7h.6M204.2 114.6h.6M209.7 108.5h.6M217.7 119.3h.6M222.7 105.6h.6M230.7 135.7h.6M238.0 140.1h.6M244.0 110.4h.6M250.5 97.8h.6M257.7 109.9h.6M263.6 101.7h.6M271.4 119.6h.6M277.3 121.6h.6M285.0 114.6h.6M291.0 120.9h.6M298.8 131.4h.6M304.6 136.1h.6M311.4 115.1h.6M317.5 129.2h.6M325.4 120.5h.6M330.3 112.0h.6M340.4 129.7h.6M344.9 121.4h.6M351.9 115.1h.6M358.2 116.7h.6M364.8 110.4h.6M372.2 99.4h.6M378.4 125.0h.6M385.3 118.5h.6M391.5 113.0h.6M398.4 116.2h.6M404.7 116.2h.6M413.2 107.9h.6M417.9 110.8h.6M424.9 107.5h.6M432.7 108.5h.6M440.3 108.3h.6M444.5 109.7h.6M451.4 107.4h.6M458.9 106.6h.6M465.7 106.9h.6M471.9 106.2h.6M478.9 106.3h.6M485.3 104.3h.6M493.2 103.9h.6M499.3 104.4h.6M506.2 101.6h.6M76.8 169.9h.6M81.7 166.5h.6M89.0 160.0h.6M96.3 169.4h.6M103.3 165.7h.6M108.7 164.9h.6M115.0 162.8h.6M121.5 149.6h.6M129.6 172.0h.6M136.8 160.9h.6M141.3 167.3h.6M148.0 171.9h.6M155.4 170.1h.6M162.0 163.7h.6M169.7 161.2h.6M176.6 159.7h.6M184.1 162.3h.6M190.6 155.0h.6M196.7 133.3h.6M204.1 148.3h.6M209.1 142.7h.6M215.7 147.0h.6M223.0 134.6h.6M231.1 150.3h.6M235.6 127.4h.6M244.0 137.0h.6M250.9 117.1h.6M256.8 105.9h.6M263.5 99.9h.6M269.9 113.9h.6M277.3 124.6h.6M284.5 136.5h.6M290.4 119.4h.6M298.1 114.6h.6M304.8 114.4h.6M311.3 133.7h.6M316.1 122.7h.6M323.1 117.2h.6M331.5 128.6h.6M337.5 105.4h.6M343.5 117.3h.6M350.4 113.1h.6M357.0 111.1h.6M364.3 98.2h.6M370.3 119.8h.6M377.0 123.9h.6M384.3 97.4h.6M390.3 110.2h.6M398.6 113.3h.6M403.2 119.4h.6M413.4 106.7h.6M417.5 103.8h.6M425.1 108.2h.6M432.2 109.7h.6M438.4 107.5h.6M445.6 109.1h.6M452.0 108.9h.6M457.6 107.3h.6M465.9 107.1h.6M472.9 110.3h.6M479.0 111.4h.6M484.2 108.6h.6M491.7 110.3h.6M499.3 109.4h.6M506.0 109.0h.6M68.6 168.9h.6M77.2 168.3h.6M91.1 163.8h.6M95.7 172.4h.6M104.3 167.1h.6M110.0 166.1h.6M117.2 167.3h.6M122.5 164.5h.6M137.5 159.2h.6M143.0 148.2h.6M149.7 170.1h.6M156.4 150.6h.6M164.6 134.3h.6M170.2 146.5h.6M177.7 117.4h.6M184.0 167.8h.6M190.3 140.5h.6M197.7 156.5h.6M204.0 154.6h.6M211.2 134.6h.6M217.7 132.7h.6M224.4 107.9h.6M230.1 116.2h.6M237.7 105.6h.6M243.8 113.4h.6M251.0 101.5h.6M258.2 129.1h.6M263.9 119.8h.6M270.7 108.2h.6M278.5 96.4h.6M285.4 122.3h.6M291.1 124.0h.6M298.0 113.8h.6M304.9 103.7h.6M310.8 120.8h.6M317.1 128.1h.6M323.7 101.6h.6M332.0 123.1h.6M338.2 97.1h.6M344.5 113.6h.6M351.7 125.5h.6M358.6 108.9h.6M365.4 111.5h.6M372.1 100.6h.6M380.5 103.1h.6M385.1 122.2h.6M392.4 112.5h.6M397.8 99.7h.6M405.0 98.2h.6M411.1 98.9h.6M418.6 107.9h.6M425.4 98.5h.6M432.3 98.3h.6M439.2 97.2h.6M445.1 95.1h.6M453.7 95.8h.6M458.5 94.3h.6M466.0 92.4h.6M474.0 92.4h.6M479.1 92.8h.6M487.1 91.1h.6M493.9 90.3h.6M500.0 92.0h.6M505.2 88.7h.6M66.5 172.2h.6M93.8 170.0h.6M101.3 167.8h.6M107.7 169.8h.6M115.0 167.7h.6M120.0 163.2h.6M128.9 172.3h.6M135.4 171.5h.6M141.9 155.5h.6M148.2 160.3h.6M155.3 164.0h.6M161.3 167.5h.6M169.2 160.1h.6M175.8 131.7h.6M183.8 162.3h.6M188.9 142.8h.6M197.0 161.2h.6M201.7 145.5h.6M208.6 154.1h.6M214.9 145.4h.6M222.3 143.8h.6M228.9 116.3h.6M236.2 141.8h.6M243.7 124.4h.6M249.1 101.6h.6M256.4 111.2h.6M263.6 111.4h.6M269.3 125.1h.6M275.7 128.8h.6M283.2 106.1h.6M289.5 129.6h.6M296.6 120.0h.6M303.1 109.0h.6M309.2 129.6h.6M316.8 114.7h.6M324.0 111.4h.6M329.5 129.1h.6M337.0 128.3h.6M342.9 111.1h.6M349.8 124.0h.6M358.3 123.5h.6M363.1 107.4h.6M369.7 127.4h.6M377.2 109.6h.6M384.1 112.4h.6M391.1 92.0h.6M396.1 113.7h.6M402.9 104.7h.6M410.9 111.4h.6M415.9 101.3h.6M425.0 111.1h.6M429.1 111.0h.6M437.0 111.2h.6M442.8 107.8h.6M450.4 110.4h.6M457.7 110.5h.6M464.9 107.4h.6M471.5 107.9h.6M477.9 109.6h.6M482.7 111.5h.6M491.3 109.7h.6M496.4 110.6h.6M504.4 111.7h.6M63.8 171.5h.6M70.3 172.5h.6M76.8 168.6h.6M83.6 171.6h.6M98.4 169.8h.6M104.8 169.4h.6M112.1 166.9h.6M119.5 168.4h.6M124.4 171.1h.6M131.3 166.4h.6M138.7 157.4h.6M144.2 168.4h.6M151.2 164.7h.6M158.4 167.7h.6M164.3 164.0h.6M172.4 171.7h.6M179.2 134.2h.6M184.3 134.6h.6M190.1 159.6h.6M198.5 125.5h.6M204.6 149.3h.6M212.0 138.0h.6M218.5 105.6h.6M226.2 145.5h.6M232.9 153.0h.6M239.4 132.0h.6M245.3 104.4h.6M251.3 137.6h.6M257.5 105.0h.6M264.5 117.9h.6M271.8 127.7h.6M279.4 112.3h.6M285.4 103.2h.6M292.3 121.8h.6M298.0 123.9h.6M304.8 115.1h.6M311.6 116.3h.6M320.1 131.2h.6M324.9 124.7h.6M333.4 119.1h.6M339.1 115.2h.6M346.8 120.5h.6M352.7 117.6h.6M360.2 114.3h.6M367.3 99.3h.6M373.1 108.9h.6M379.3 106.1h.6M386.4 112.3h.6M393.1 118.2h.6M400.2 115.9h.6M407.0 114.3h.6M414.1 110.6h.6M420.3 109.2h.6M426.7 110.6h.6M434.2 109.9h.6M439.4 110.7h.6M447.5 110.3h.6M454.2 109.5h.6M460.1 107.9h.6M467.0 109.0h.6M474.5 108.3h.6M480.9 108.3h.6M486.1 109.3h.6M493.3 108.0h.6M502.1 109.2h.6M62.1 170.7h.6M76.6 167.4h.6M84.9 166.9h.6M90.7 169.0h.6M98.2 161.7h.6M104.2 161.5h.6M111.8 164.8h.6M122.1 164.8h.6M130.7 155.0h.6M136.6 163.7h.6M144.7 163.1h.6M150.9 158.1h.6M158.2 152.6h.6M165.1 154.9h.6M171.6 125.9h.6M177.7 145.5h.6M185.2 145.5h.6M191.8 159.1h.6M197.9 125.4h.6M204.1 128.5h.6M210.8 152.1h.6M218.2 152.8h.6M225.5 113.8h.6M231.9 138.9h.6M238.2 136.7h.6M244.2 123.0h.6M252.0 99.2h.6M257.8 98.3h.6M265.1 118.2h.6M271.9 141.9h.6M279.8 111.0h.6M286.3 134.0h.6M291.8 136.9h.6M298.3 102.8h.6M305.4 109.7h.6M312.7 131.1h.6M320.2 126.6h.6M325.0 123.9h.6M332.6 116.5h.6M339.5 120.6h.6M346.3 105.6h.6M352.4 128.7h.6M360.4 97.4h.6M365.5 91.0h.6M373.9 107.8h.6M379.0 118.2h.6M386.2 101.0h.6M393.7 104.4h.6M400.8 97.8h.6M406.8 103.0h.6M414.5 96.7h.6M420.6 97.8h.6M426.6 100.4h.6M433.6 100.9h.6M440.8 103.0h.6M446.4 101.0h.6M452.5 100.5h.6M459.5 101.7h.6M467.8 98.7h.6M474.3 99.3h.6M480.1 97.5h.6M487.5 95.6h.6M494.4 97.1h.6M501.3 98.0h.6M67.0 168.7h.6M79.3 166.6h.6M94.2 160.5h.6M100.2 166.4h.6M106.9 160.3h.6M114.0 162.5h.6M119.9 171.5h.6M126.6 170.0h.6M132.3 159.5h.6M140.4 157.8h.6M147.8 158.1h.6M153.4 142.5h.6M159.8 152.4h.6M168.1 156.4h.6M174.1 139.8h.6M181.0 159.3h.6M187.8 140.8h.6M194.3 127.0h.6M200.8 161.2h.6M207.1 143.9h.6M215.1 127.0h.6M220.9 154.6h.6M226.9 145.3h.6M234.5 108.9h.6M241.5 122.0h.6M246.6 108.6h.6M255.6 95.5h.6M261.2 137.8h.6M269.3 134.6h.6M275.0 100.3h.6M281.4 122.7h.6M289.2 101.0h.6M295.9 129.8h.6M301.7 118.7h.6M308.1 115.7h.6M315.0 131.6h.6M322.3 121.1h.6M327.6 118.6h.6M334.7 126.9h.6M340.8 113.7h.6M349.0 122.1h.6M354.3 113.6h.6M361.1 119.3h.6M369.2 116.0h.6M375.2 117.0h.6M381.9 100.3h.6M388.4 120.9h.6M395.2 106.7h.6M401.2 117.3h.6M409.6 103.5h.6M416.3 105.1h.6M423.1 105.1h.6M429.0 106.7h.6M436.8 106.8h.6M442.7 106.1h.6M449.8 103.5h.6M456.8 104.6h.6M462.8 104.9h.6M469.0 103.9h.6M474.5 103.5h.6M482.9 106.0h.6M489.5 103.7h.6M498.1 107.7h.6M501.6 106.4h.6M67.9 165.6h.6M75.7 169.6h.6M88.3 163.8h.6M96.0 163.5h.6M103.0 166.6h.6M107.7 167.6h.6M122.7 161.4h.6M128.8 161.7h.6M134.4 170.3h.6M142.0 138.4h.6M150.1 149.5h.6M155.2 160.4h.6M162.8 156.1h.6M169.5 164.7h.6M175.2 163.6h.6M183.1 164.9h.6M189.3 118.3h.6M197.2 137.5h.6M203.3 118.6h.6M209.1 136.3h.6M216.6 118.3h.6M223.2 128.5h.6M230.1 102.0h.6M235.8 112.8h.6M243.7 101.4h.6M250.2 102.2h.6M255.6 98.2h.6M264.2 94.3h.6M269.4 120.8h.6M276.3 110.5h.6M283.7 122.2h.6M289.7 100.6h.6M297.3 97.6h.6M303.4 105.1h.6M310.5 110.5h.6M317.6 120.2h.6M323.5 123.5h.6M331.0 124.2h.6M337.6 124.2h.6M343.7 113.4h.6M351.4 105.2h.6M357.7 95.8h.6M364.1 107.9h.6M371.5 94.6h.6M378.4 91.8h.6M384.8 102.4h.6M389.9 98.4h.6M398.1 100.7h.6M403.6 87.2h.6M411.0 96.7h.6M418.2 88.0h.6M424.3 83.6h.6M431.9 83.3h.6M438.1 81.4h.6M445.1 80.2h.6M452.2 81.5h.6M458.7 76.5h.6M465.3 78.0h.6M471.9 74.3h.6M478.1 74.3h.6M485.2 74.2h.6M490.6 72.9h.6M497.3 72.7h.6M505.9 69.5h.6M68.9 171.4h.6M79.9 166.7h.6M85.9 165.1h.6M93.8 170.5h.6M100.0 172.4h.6M114.5 166.7h.6M120.2 172.0h.6M127.2 166.7h.6M135.3 170.6h.6M140.4 169.8h.6M147.7 158.5h.6M153.5 168.7h.6M160.7 166.6h.6M167.7 155.2h.6M174.7 151.1h.6M181.6 136.9h.6M188.8 169.0h.6M194.7 170.1h.6M200.4 159.7h.6M207.3 165.4h.6M214.4 117.2h.6M221.2 158.1h.6M228.4 161.8h.6M234.3 156.9h.6M242.4 113.4h.6M248.9 145.1h.6M254.8 124.2h.6M261.8 138.6h.6M268.0 114.7h.6M274.8 126.1h.6M282.1 120.6h.6M287.4 133.3h.6M295.1 125.1h.6M301.3 137.1h.6M309.3 133.6h.6M315.8 130.9h.6M321.7 127.2h.6M329.0 124.8h.6M335.0 127.1h.6M341.8 129.6h.6M350.5 122.0h.6M356.1 122.0h.6M362.9 118.8h.6M369.1 116.3h.6M376.0 109.9h.6M382.4 99.6h.6M389.0 119.1h.6M395.9 118.2h.6M403.1 109.6h.6M409.4 120.5h.6M415.8 110.6h.6M424.0 117.0h.6M430.1 116.4h.6M435.6 115.8h.6M441.9 115.5h.6M449.5 115.0h.6M456.2 115.3h.6M463.0 113.2h.6M469.2 113.7h.6M476.4 115.9h.6M483.1 118.1h.6M490.8 117.6h.6M496.2 117.8h.6M504.4 117.7h.6M64.4 172.4h.6M72.0 165.8h.6M77.2 165.4h.6M84.2 162.9h.6M90.2 164.4h.6M104.8 164.7h.6M118.5 157.0h.6M123.9 154.4h.6M131.9 144.3h.6M138.8 158.1h.6M145.1 144.8h.6M152.1 146.6h.6M158.3 145.8h.6M165.3 138.1h.6M172.8 154.7h.6M178.1 160.5h.6M184.4 106.1h.6M191.6 114.5h.6M199.8 123.3h.6M205.5 105.5h.6M213.6 106.6h.6M216.9 113.3h.6M225.4 131.1h.6M231.8 125.4h.6M239.2 101.1h.6M246.8 104.1h.6M252.7 97.2h.6M259.0 96.8h.6M266.8 92.0h.6M273.6 90.9h.6M277.6 99.8h.6M286.8 116.0h.6M293.0 113.4h.6M299.2 95.4h.6M306.2 104.9h.6M313.2 102.9h.6M320.0 112.3h.6M326.4 102.7h.6M332.9 116.9h.6M340.0 103.0h.6M346.7 108.8h.6M353.2 110.6h.6M360.0 86.3h.6M367.0 95.5h.6M373.9 112.5h.6M380.5 96.2h.6M387.5 103.1h.6M392.8 97.6h.6M400.5 87.8h.6M407.2 89.5h.6M413.3 90.6h.6M420.7 87.8h.6M426.0 83.5h.6M434.1 79.8h.6M440.3 81.3h.6M445.8 76.6h.6M455.0 77.2h.6M460.2 75.1h.6M467.8 74.1h.6M474.4 72.4h.6M481.5 72.4h.6M487.6 70.2h.6M494.4 69.4h.6M501.6 67.2h.6M67.7 169.1h.6M80.9 162.5h.6M88.0 164.5h.6M95.9 170.8h.6M101.8 169.3h.6M109.3 167.4h.6M114.6 172.6h.6M121.6 167.8h.6M128.2 158.9h.6M135.2 163.1h.6M141.4 163.9h.6M148.3 171.9h.6M154.4 155.3h.6M161.8 164.6h.6M169.2 167.6h.6M174.1 145.8h.6M181.9 151.0h.6M189.3 113.0h.6M196.5 138.9h.6M202.2 105.4h.6M209.5 123.2h.6M217.1 155.0h.6M223.6 133.8h.6M228.4 125.2h.6M235.3 124.9h.6M243.6 153.3h.6M249.4 126.8h.6M255.7 132.0h.6M263.0 108.4h.6M270.1 110.0h.6M276.2 103.9h.6M282.7 116.2h.6M289.8 110.2h.6M295.4 131.0h.6M304.4 127.1h.6M310.8 120.6h.6M317.4 116.8h.6M323.4 100.2h.6M330.6 117.2h.6M337.4 123.9h.6M344.1 124.2h.6M348.9 93.0h.6M357.1 92.5h.6M363.2 114.9h.6M370.4 100.5h.6M377.1 108.2h.6M385.1 106.7h.6M390.6 114.8h.6M397.3 97.2h.6M405.0 105.1h.6M410.5 112.8h.6M416.9 108.7h.6M424.2 107.8h.6M430.7 110.0h.6M437.9 109.5h.6M444.8 109.3h.6M451.0 109.2h.6M458.0 109.1h.6M465.3 108.6h.6M471.4 108.7h.6M478.3 107.4h.6M484.8 109.0h.6M490.3 109.8h.6M497.9 108.1h.6M503.6 108.3h.6M76.3 170.7h.6M81.9 172.6h.6M87.9 170.0h.6M95.0 170.1h.6M102.2 169.5h.6M109.1 160.3h.6M114.7 170.2h.6M123.1 161.4h.6M128.6 165.3h.6M136.0 172.5h.6M142.5 158.7h.6M148.5 166.5h.6M155.8 165.8h.6M162.5 164.1h.6M169.0 162.2h.6M177.1 152.2h.6M182.4 171.8h.6M191.2 115.8h.6M197.1 127.0h.6M202.6 165.1h.6M208.2 152.0h.6M217.0 122.8h.6M223.1 117.9h.6M229.7 127.1h.6M235.5 162.3h.6M241.7 135.3h.6M248.8 107.4h.6M258.4 124.3h.6M264.6 109.9h.6M270.0 140.5h.6M278.0 125.1h.6M282.2 139.3h.6M290.8 123.8h.6M297.7 141.5h.6M303.1 125.8h.6M310.2 125.3h.6M316.4 112.4h.6M323.2 118.7h.6M331.4 125.3h.6M338.1 114.3h.6M344.7 136.4h.6M351.3 114.8h.6M356.1 105.4h.6M365.9 121.4h.6M371.1 104.3h.6M376.8 113.8h.6M383.8 109.5h.6M390.7 103.2h.6M398.2 116.6h.6M404.7 107.3h.6M409.2 113.8h.6M418.7 105.5h.6M425.6 105.7h.6M430.4 106.2h.6M439.2 106.4h.6M445.6 106.4h.6M452.5 104.9h.6M459.3 105.7h.6M464.1 103.6h.6M472.2 105.1h.6M477.3 104.6h.6M486.7 104.4h.6M490.8 106.1h.6M497.9 103.3h.6M506.0 100.3h.6M68.4 170.0h.6M74.1 170.8h.6M80.7 170.8h.6M86.6 168.6h.6M100.7 164.8h.6M107.2 171.5h.6M115.3 172.4h.6M126.1 167.1h.6M134.0 163.5h.6M140.6 152.9h.6M147.0 163.1h.6M154.5 172.2h.6M163.4 141.7h.6M170.4 140.1h.6M175.0 164.7h.6M182.3 157.8h.6M188.8 113.5h.6M194.6 135.5h.6M200.9 140.0h.6M209.1 106.6h.6M215.6 143.8h.6M222.1 104.3h.6M228.8 140.6h.6M234.9 121.0h.6M243.5 105.5h.6M248.8 95.7h.6M256.4 106.0h.6M262.0 108.0h.6M269.3 110.2h.6M276.4 105.6h.6M282.1 112.4h.6M289.5 127.2h.6M295.7 105.9h.6M301.7 115.0h.6M309.2 122.7h.6M316.3 117.7h.6M323.7 127.0h.6M330.2 131.9h.6M335.5 113.0h.6M342.8 116.6h.6M349.4 91.8h.6M356.6 106.8h.6M362.8 114.6h.6M368.9 94.3h.6M375.4 118.1h.6M384.0 89.6h.6M390.2 113.9h.6M396.6 101.0h.6M404.6 96.4h.6M409.6 99.3h.6M417.4 99.8h.6M424.1 98.8h.6M429.8 99.7h.6M436.5 101.0h.6M442.4 102.2h.6M450.8 101.1h.6M457.4 102.3h.6M464.1 99.9h.6M470.6 99.7h.6M477.0 100.4h.6M484.9 102.1h.6M490.3 102.0h.6M497.9 103.8h.6M504.7 102.3h.6M66.1 172.5h.6M72.6 172.1h.6M78.6 172.5h.6M87.4 166.5h.6M98.4 172.3h.6M106.0 169.7h.6M112.5 168.1h.6M127.5 172.6h.6M139.3 172.6h.6M147.2 169.7h.6M153.4 159.4h.6M160.7 169.8h.6M165.2 166.1h.6M173.0 171.3h.6M181.1 143.9h.6M186.8 166.2h.6M194.9 131.5h.6M200.7 152.1h.6M208.0 153.3h.6M214.3 135.7h.6M220.2 146.0h.6M226.6 120.0h.6M234.3 145.9h.6M241.3 116.2h.6M247.0 110.8h.6M253.7 118.4h.6M263.4 118.0h.6M266.6 106.8h.6M273.8 130.9h.6M281.8 119.4h.6M287.0 129.2h.6M294.3 104.8h.6M300.9 107.5h.6M307.0 119.3h.6M315.2 112.9h.6M320.5 121.9h.6M327.6 128.1h.6M335.7 130.1h.6M341.3 131.3h.6M348.6 123.9h.6M356.0 108.7h.6M362.2 119.7h.6M368.9 105.8h.6M375.4 116.0h.6M381.2 101.6h.6M388.7 119.7h.6M395.7 113.8h.6M401.7 110.0h.6M407.9 103.3h.6M416.3 112.4h.6M421.9 109.8h.6M429.2 112.3h.6M435.2 111.4h.6M441.4 111.2h.6M449.9 111.4h.6M456.4 111.7h.6M462.9 110.2h.6M468.4 111.6h.6M476.5 112.8h.6M483.4 114.0h.6M488.8 112.2h.6M497.1 114.6h.6M501.7 110.5h.6M66.2 166.3h.6M80.2 167.1h.6M85.9 164.0h.6M94.2 171.7h.6M105.6 167.3h.6M112.2 163.1h.6M119.6 161.5h.6M126.2 166.9h.6M132.7 160.3h.6M140.0 169.6h.6M147.0 167.8h.6M154.2 153.3h.6M159.7 162.9h.6M166.4 168.0h.6M172.5 158.4h.6M178.7 123.6h.6M186.6 129.0h.6M193.3 124.0h.6M199.9 129.4h.6M207.1 123.1h.6M214.8 112.8h.6M219.2 132.4h.6M226.6 139.4h.6M233.5 105.0h.6M239.6 95.9h.6M248.2 114.0h.6M253.6 106.5h.6M261.3 109.6h.6M266.6 98.6h.6M275.5 111.6h.6M282.3 100.8h.6M286.7 123.7h.6M294.0 131.0h.6M300.7 102.7h.6M308.3 97.5h.6M313.1 108.4h.6M321.6 109.8h.6M328.1 117.1h.6M334.1 113.3h.6M339.6 115.9h.6M347.9 130.8h.6M354.4 101.1h.6M362.1 102.2h.6M367.8 109.4h.6M374.1 88.3h.6M382.1 110.4h.6M388.6 97.0h.6M395.9 92.4h.6M401.9 94.9h.6M409.2 102.1h.6M415.8 102.6h.6M421.1 102.7h.6M429.0 96.5h.6M435.9 94.8h.6M442.2 95.7h.6M450.1 94.4h.6M455.3 95.6h.6M462.8 88.4h.6M468.5 92.2h.6M475.6 91.5h.6M481.9 87.4h.6M488.5 85.6h.6M495.0 84.5h.6M502.6 81.1h.6" stroke="#0909bd" stroke-width="2.1" stroke-linecap="round" fill="none"/><path d="M64.3 262.3h.6M70.2 269.7h.6M77.0 264.4h.6M83.8 269.5h.6M91.1 257.2h.6M97.3 265.9h.6M104.1 275.3h.6M110.9 274.6h.6M118.4 251.6h.6M125.0 261.2h.6M132.2 248.3h.6M138.6 253.1h.6M144.0 256.1h.6M152.5 278.6h.6M157.7 264.5h.6M166.2 282.2h.6M172.1 282.9h.6M178.2 225.1h.6M183.4 249.2h.6M191.8 235.7h.6M198.1 220.5h.6M205.9 228.1h.6M211.4 236.1h.6M219.0 261.1h.6M226.2 247.8h.6M232.3 246.0h.6M239.6 249.5h.6M245.7 243.6h.6M253.2 256.2h.6M258.3 254.2h.6M266.1 243.6h.6M271.6 254.3h.6M279.9 266.3h.6M284.7 263.0h.6M292.2 262.7h.6M300.1 265.0h.6M307.1 262.3h.6M311.0 264.6h.6M319.0 266.1h.6M325.6 263.5h.6M334.2 263.9h.6M338.8 264.6h.6M346.8 265.2h.6M353.2 264.4h.6M359.2 265.7h.6M366.5 266.1h.6M372.6 266.4h.6M380.2 266.8h.6M387.7 266.3h.6M394.3 265.9h.6M399.9 265.2h.6M408.2 265.6h.6M414.1 266.2h.6M419.2 266.3h.6M428.8 267.3h.6M435.1 270.9h.6M440.3 268.5h.6M447.8 267.1h.6M453.2 269.0h.6M460.8 270.7h.6M467.4 269.0h.6M474.5 271.5h.6M480.5 272.5h.6M487.7 271.3h.6M493.5 272.4h.6M501.3 271.2h.6M68.9 250.7h.6M74.3 252.6h.6M80.8 235.6h.6M88.7 254.5h.6M94.8 264.4h.6M102.0 251.5h.6M108.0 260.2h.6M115.3 232.9h.6M121.8 260.4h.6M128.1 236.8h.6M135.2 232.5h.6M141.7 268.2h.6M149.3 237.6h.6M157.3 247.0h.6M162.1 237.8h.6M169.9 245.9h.6M175.5 233.6h.6M181.8 216.5h.6M189.2 234.7h.6M196.5 238.9h.6M203.3 238.0h.6M209.1 228.8h.6M217.7 255.1h.6M222.5 225.3h.6M229.0 239.1h.6M236.1 242.4h.6M244.2 230.8h.6M250.1 230.4h.6M256.6 253.4h.6M261.2 255.1h.6M269.5 252.3h.6M276.6 239.7h.6M283.4 252.5h.6M289.4 257.8h.6M297.5 261.3h.6M302.8 263.3h.6M309.0 262.1h.6M316.0 263.5h.6M324.5 265.2h.6M331.0 259.7h.6M336.8 264.6h.6M344.8 263.7h.6M350.4 263.9h.6M357.1 263.7h.6M362.6 263.3h.6M370.2 263.3h.6M377.3 265.0h.6M384.5 264.4h.6M390.6 265.2h.6M398.5 264.2h.6M405.4 265.7h.6M410.7 264.6h.6M418.1 265.9h.6M423.4 264.5h.6M431.3 265.6h.6M437.2 266.9h.6M444.2 264.6h.6M451.5 265.9h.6M457.8 267.8h.6M464.9 268.7h.6M470.3 269.8h.6M477.7 268.5h.6M485.0 270.4h.6M491.5 266.1h.6M498.8 268.3h.6M504.8 273.7h.6M68.0 270.4h.6M74.8 256.9h.6M79.7 261.1h.6M87.0 258.3h.6M93.4 266.6h.6M101.5 268.9h.6M108.0 266.7h.6M114.5 259.5h.6M121.5 260.8h.6M127.6 232.4h.6M133.9 271.0h.6M140.2 238.3h.6M147.7 232.1h.6M154.3 240.5h.6M161.3 231.4h.6M168.4 251.1h.6M175.3 255.5h.6M181.6 259.7h.6M187.8 235.9h.6M193.7 229.6h.6M200.7 234.6h.6M207.4 223.4h.6M215.0 229.2h.6M220.7 260.2h.6M228.2 233.4h.6M234.9 240.2h.6M241.8 252.5h.6M248.5 252.0h.6M255.4 258.2h.6M261.2 245.5h.6M268.2 246.0h.6M275.3 263.0h.6M282.2 253.5h.6M287.9 259.0h.6M294.0 262.2h.6M301.3 256.4h.6M309.1 263.1h.6M314.6 263.0h.6M323.1 264.7h.6M328.4 264.0h.6M335.7 261.8h.6M341.9 265.5h.6M349.2 262.1h.6M355.9 264.4h.6M362.9 264.4h.6M368.1 264.6h.6M376.7 265.6h.6M382.0 265.9h.6M389.6 264.9h.6M396.7 265.1h.6M403.0 266.2h.6M409.9 266.7h.6M416.3 266.0h.6M423.4 266.3h.6M429.5 266.4h.6M437.8 267.1h.6M444.0 267.8h.6M449.5 269.0h.6M456.3 270.4h.6M463.5 271.0h.6M469.5 266.6h.6M477.3 267.8h.6M484.6 268.4h.6M490.9 269.1h.6M497.9 267.9h.6M504.2 275.3h.6M64.9 259.3h.6M71.6 265.0h.6M78.9 256.5h.6M84.0 269.9h.6M91.3 257.7h.6M97.5 259.4h.6M104.0 250.1h.6M112.9 247.8h.6M117.1 238.2h.6M124.0 245.1h.6M131.3 227.8h.6M137.7 250.7h.6M145.1 282.9h.6M151.8 221.8h.6M158.4 282.1h.6M165.1 246.8h.6M171.7 268.6h.6M179.0 227.2h.6M185.2 279.7h.6M192.2 224.8h.6M198.9 239.9h.6M205.6 263.8h.6M212.2 224.8h.6M218.8 217.7h.6M226.0 243.8h.6M231.3 237.7h.6M238.7 237.8h.6M244.9 240.0h.6M253.8 235.8h.6M258.3 262.4h.6M267.1 262.7h.6M273.0 246.7h.6M279.9 257.9h.6M286.0 257.3h.6M293.2 264.2h.6M299.6 260.4h.6M306.6 266.0h.6M313.9 264.1h.6M320.7 263.2h.6M325.8 264.2h.6M333.1 263.4h.6M340.8 266.1h.6M347.8 264.6h.6M352.8 265.3h.6M360.3 264.6h.6M366.9 266.3h.6M373.7 264.2h.6M378.9 264.2h.6M387.4 265.9h.6M392.0 265.2h.6M402.3 264.9h.6M407.8 265.6h.6M413.7 266.7h.6M421.3 264.3h.6M427.0 268.4h.6M434.0 266.8h.6M440.7 268.6h.6M447.9 267.7h.6M453.5 271.8h.6M461.4 266.9h.6M468.5 269.9h.6M475.3 264.9h.6M481.9 268.7h.6M488.7 270.8h.6M494.8 267.0h.6M502.5 266.8h.6M65.9 254.5h.6M71.9 258.2h.6M79.9 272.7h.6M85.5 270.7h.6M93.2 254.0h.6M100.1 263.7h.6M107.2 262.7h.6M112.2 262.9h.6M119.8 242.0h.6M126.6 280.5h.6M134.1 245.3h.6M139.5 268.5h.6M145.8 225.2h.6M154.5 259.7h.6M160.7 253.0h.6M166.3 278.8h.6M174.9 214.8h.6M181.5 253.0h.6M188.1 257.7h.6M192.2 237.1h.6M201.5 263.4h.6M206.9 276.9h.6M214.0 254.3h.6M220.0 254.4h.6M229.0 258.9h.6M234.1 253.2h.6M241.2 259.8h.6M248.0 257.8h.6M255.0 247.0h.6M261.4 246.3h.6M267.6 263.3h.6M274.9 261.4h.6M281.4 255.2h.6M287.0 261.2h.6M295.6 265.4h.6M300.8 258.1h.6M308.2 262.4h.6M315.0 265.6h.6M320.5 265.6h.6M327.9 263.9h.6M334.1 264.4h.6M342.1 265.5h.6M349.5 267.1h.6M355.5 265.4h.6M361.5 263.5h.6M370.0 265.6h.6M375.3 266.1h.6M381.2 265.6h.6M388.3 265.1h.6M395.6 266.1h.6M403.3 266.7h.6M408.8 267.0h.6M415.6 266.1h.6M422.7 266.2h.6M428.4 268.7h.6M436.0 269.8h.6M442.6 266.9h.6M449.6 269.1h.6M456.7 268.5h.6M462.5 272.2h.6M470.0 269.6h.6M476.8 267.9h.6M482.6 270.7h.6M489.6 269.8h.6M496.3 270.5h.6M504.4 271.7h.6M68.1 257.3h.6M73.9 259.8h.6M81.5 265.8h.6M88.4 259.2h.6M95.8 266.9h.6M102.4 270.8h.6M107.8 266.1h.6M116.0 266.7h.6M122.8 272.9h.6M128.4 278.8h.6M134.6 251.0h.6M144.0 251.7h.6M149.4 285.5h.6M156.4 257.0h.6M163.7 245.1h.6M168.4 270.4h.6M176.3 250.1h.6M181.7 257.2h.6M189.3 251.9h.6M196.1 264.8h.6M201.7 269.5h.6M208.6 240.7h.6M215.7 235.7h.6M222.6 263.3h.6M230.3 247.9h.6M236.3 238.7h.6M242.8 237.1h.6M249.5 258.5h.6M255.5 253.9h.6M262.7 245.6h.6M268.6 256.0h.6M276.6 257.0h.6M282.3 264.8h.6M289.2 265.2h.6M297.0 265.1h.6M301.9 263.5h.6M309.0 265.6h.6M317.6 266.2h.6M322.0 266.7h.6M330.0 266.3h.6M337.1 266.5h.6M342.9 266.8h.6M349.7 266.6h.6M358.8 267.3h.6M363.7 266.6h.6M371.1 266.7h.6M377.0 266.4h.6M384.7 266.4h.6M389.6 265.5h.6M396.4 266.3h.6M403.5 266.1h.6M410.6 267.2h.6M416.8 266.7h.6M424.3 271.2h.6M431.0 269.8h.6M437.6 269.2h.6M445.4 271.2h.6M450.2 270.2h.6M458.5 271.1h.6M465.6 272.4h.6M472.4 273.1h.6M477.0 274.0h.6M486.5 279.3h.6M490.5 277.0h.6M499.0 279.5h.6M504.6 278.2h.6M68.0 267.6h.6M73.9 266.3h.6M80.6 259.9h.6M87.5 253.7h.6M93.6 249.4h.6M100.3 256.5h.6M106.9 254.7h.6M113.3 266.8h.6M120.3 241.0h.6M126.4 249.0h.6M135.6 270.9h.6M140.9 246.1h.6M147.3 249.2h.6M155.0 270.1h.6M160.3 239.5h.6M168.4 241.9h.6M174.2 246.2h.6M182.8 228.5h.6M187.5 217.0h.6M194.6 214.8h.6M200.4 228.3h.6M207.3 248.1h.6M214.6 246.4h.6M220.5 255.4h.6M228.5 248.9h.6M234.8 231.8h.6M242.7 225.8h.6M247.0 236.9h.6M255.3 244.0h.6M262.0 241.8h.6M268.4 257.5h.6M274.7 244.4h.6M283.2 256.7h.6M288.4 259.0h.6M295.9 248.5h.6M301.5 256.9h.6M308.9 263.3h.6M315.5 261.7h.6M323.1 261.3h.6M328.5 259.1h.6M335.1 260.5h.6M341.5 261.7h.6M349.6 263.9h.6M355.1 263.6h.6M361.9 262.5h.6M369.7 263.4h.6M376.2 263.4h.6M383.3 261.7h.6M389.3 262.8h.6M396.7 263.6h.6M403.3 264.4h.6M409.1 264.2h.6M416.3 263.1h.6M422.6 263.9h.6M429.7 263.0h.6M436.9 263.6h.6M443.0 264.7h.6M449.2 264.6h.6M457.2 264.6h.6M465.0 263.6h.6M469.9 263.3h.6M478.1 265.3h.6M483.5 265.8h.6M489.8 266.3h.6M496.3 264.6h.6M504.0 264.9h.6M62.2 246.6h.6M70.2 249.8h.6M76.7 226.4h.6M83.2 252.3h.6M89.3 252.3h.6M96.8 234.9h.6M103.4 251.1h.6M110.2 224.2h.6M117.9 227.0h.6M123.2 226.7h.6M130.1 227.6h.6M137.4 238.6h.6M143.4 222.1h.6M149.5 218.1h.6M157.6 224.1h.6M162.8 223.0h.6M171.4 224.4h.6M177.8 216.4h.6M183.8 218.9h.6M190.9 213.9h.6M198.0 224.2h.6M205.0 214.5h.6M210.0 215.4h.6M217.2 235.6h.6M224.6 218.4h.6M232.3 227.0h.6M238.2 235.8h.6M244.6 227.4h.6M251.9 243.6h.6M257.9 226.4h.6M264.8 249.0h.6M271.6 220.0h.6M276.9 224.7h.6M285.6 246.5h.6M292.2 255.4h.6M298.5 257.8h.6M304.6 252.3h.6M310.9 254.5h.6M318.6 254.5h.6M325.5 252.8h.6M332.0 257.4h.6M340.1 256.2h.6M344.0 260.7h.6M351.9 259.7h.6M358.2 258.4h.6M366.0 258.8h.6M371.9 261.4h.6M378.5 262.1h.6M385.7 261.3h.6M392.9 263.0h.6M399.7 261.8h.6M405.9 262.2h.6M412.3 261.9h.6M418.5 263.0h.6M425.3 262.3h.6M432.7 262.1h.6M440.0 262.5h.6M446.0 263.1h.6M453.0 263.3h.6M460.3 262.7h.6M466.0 262.5h.6M473.3 263.6h.6M479.1 264.0h.6M486.1 263.7h.6M491.9 262.5h.6M499.3 263.3h.6M62.6 259.4h.6M69.7 270.2h.6M77.4 260.6h.6M83.1 271.2h.6M88.3 258.4h.6M97.4 259.5h.6M102.4 261.1h.6M109.8 246.0h.6M118.0 243.5h.6M123.4 254.5h.6M130.8 224.6h.6M137.4 287.2h.6M144.4 266.8h.6M150.0 265.9h.6M157.2 239.9h.6M163.6 259.1h.6M169.0 254.7h.6M176.7 253.1h.6M184.2 224.4h.6M190.9 245.4h.6M197.6 220.2h.6M205.3 245.7h.6M211.2 235.5h.6M218.3 241.4h.6M224.7 245.9h.6M231.9 258.3h.6M237.6 260.7h.6M245.4 254.9h.6M252.1 245.6h.6M258.1 264.2h.6M265.7 247.9h.6M270.6 256.4h.6M278.9 260.0h.6M285.1 259.4h.6M290.8 265.5h.6M297.0 264.9h.6M304.9 266.2h.6M312.0 264.4h.6M318.6 266.2h.6M325.4 265.4h.6M332.5 265.8h.6M340.0 266.0h.6M345.7 266.3h.6M351.0 266.8h.6M359.3 266.4h.6M366.1 265.4h.6M372.3 266.5h.6M380.3 264.1h.6M385.9 266.5h.6M392.1 266.4h.6M399.5 266.3h.6M405.3 264.9h.6M413.1 266.7h.6M419.6 266.5h.6M427.2 266.5h.6M433.2 269.7h.6M439.7 270.1h.6M446.5 270.1h.6M452.2 272.7h.6M459.6 270.2h.6M466.7 271.9h.6M473.5 272.4h.6M479.9 270.5h.6M486.7 273.6h.6M493.6 278.4h.6M499.5 274.4h.6M64.5 266.3h.6M71.5 256.6h.6M78.8 267.9h.6M85.9 262.0h.6M92.5 265.4h.6M99.1 267.1h.6M106.2 254.8h.6M111.7 272.8h.6M119.0 267.7h.6M124.8 245.0h.6M131.5 280.8h.6M139.1 279.6h.6M144.5 225.1h.6M152.3 218.8h.6M159.1 236.2h.6M165.9 255.1h.6M172.7 264.5h.6M178.6 254.1h.6M185.0 239.2h.6M192.9 255.5h.6M198.7 251.9h.6M206.3 234.6h.6M212.4 243.8h.6M219.0 255.2h.6M225.3 236.3h.6M232.3 238.5h.6M239.4 238.2h.6M246.4 260.7h.6M253.0 257.6h.6M262.4 260.2h.6M266.1 252.1h.6M272.4 254.7h.6M280.4 262.5h.6M286.0 256.1h.6M293.3 264.3h.6M299.8 261.8h.6M307.2 263.1h.6M313.6 263.9h.6M320.5 264.5h.6M326.8 265.3h.6M334.6 263.5h.6M340.6 266.1h.6M346.8 263.4h.6M354.1 263.7h.6M360.0 262.4h.6M367.4 265.3h.6M373.7 266.1h.6M382.0 264.2h.6M387.6 264.3h.6M395.2 264.5h.6M400.4 264.3h.6M406.6 264.6h.6M414.0 265.4h.6M421.2 264.6h.6M428.6 265.1h.6M434.1 267.0h.6M442.2 266.9h.6M447.5 265.2h.6M454.6 266.2h.6M461.8 267.7h.6M469.5 263.9h.6M475.2 267.3h.6M481.2 269.8h.6M487.7 265.3h.6M495.7 270.2h.6M502.3 267.3h.6M68.6 266.8h.6M72.7 257.1h.6M80.1 271.3h.6M87.4 271.1h.6M93.8 269.0h.6M98.8 270.9h.6M107.3 251.2h.6M113.9 277.2h.6M120.1 249.8h.6M127.3 230.1h.6M134.7 261.8h.6M139.7 267.4h.6M147.6 245.6h.6M155.3 227.4h.6M162.0 233.6h.6M166.7 252.4h.6M173.2 216.4h.6M181.4 269.8h.6M188.2 266.0h.6M193.3 243.5h.6M200.8 264.6h.6M208.8 245.4h.6M215.0 231.4h.6M221.9 256.0h.6M228.6 257.0h.6M235.5 242.3h.6M241.6 237.5h.6M247.8 245.5h.6M254.6 263.2h.6M260.4 255.9h.6M268.5 265.6h.6M274.1 257.1h.6M281.2 264.5h.6M288.4 264.4h.6M295.2 263.9h.6M302.4 266.3h.6M308.5 264.4h.6M315.4 266.3h.6M323.2 264.6h.6M329.2 264.3h.6M335.3 266.1h.6M340.9 266.1h.6M348.9 265.1h.6M356.3 266.5h.6M361.7 266.4h.6M368.6 266.2h.6M376.6 266.7h.6M381.7 266.3h.6M390.0 267.1h.6M396.4 265.7h.6M402.6 267.2h.6M407.9 266.7h.6M416.7 265.8h.6M421.4 269.0h.6M428.9 269.4h.6M436.7 269.3h.6M442.1 270.4h.6M450.3 273.2h.6M456.4 270.6h.6M463.0 270.9h.6M469.3 272.0h.6M476.6 272.0h.6M483.7 270.5h.6M489.6 275.1h.6M497.3 277.7h.6M504.1 279.4h.6M63.4 254.8h.6M72.0 249.1h.6M78.3 258.5h.6M82.8 257.6h.6M90.0 256.8h.6M97.7 259.7h.6M104.2 265.6h.6M111.8 259.7h.6M117.3 230.8h.6M123.0 261.5h.6M131.2 230.3h.6M138.3 249.9h.6M143.0 245.0h.6M149.5 277.1h.6M157.3 241.0h.6M163.2 238.4h.6M171.3 233.3h.6M177.1 252.6h.6M185.1 238.0h.6M191.1 229.5h.6M198.1 247.7h.6M205.3 268.1h.6M211.4 257.5h.6M216.9 256.2h.6M225.6 232.3h.6M230.7 239.9h.6M239.2 245.8h.6M244.7 226.2h.6M251.3 261.3h.6M258.9 232.2h.6M265.3 255.7h.6M272.5 243.1h.6M277.8 255.5h.6M284.5 261.7h.6M292.2 261.6h.6M299.3 257.7h.6M305.6 260.6h.6M313.2 263.8h.6M318.6 262.9h.6M326.2 262.8h.6M333.2 265.3h.6M339.5 259.7h.6M345.8 264.4h.6M352.9 265.3h.6M359.6 265.5h.6M366.4 265.5h.6M371.9 264.0h.6M379.6 265.0h.6M387.1 265.1h.6M392.4 264.0h.6M399.9 264.6h.6M406.4 265.0h.6M413.9 263.8h.6M418.3 263.6h.6M427.4 263.6h.6M433.7 264.8h.6M439.7 266.1h.6M446.8 266.6h.6M454.1 265.8h.6M460.0 267.5h.6M467.6 268.4h.6M474.1 271.2h.6M480.0 267.7h.6M487.7 265.9h.6M494.5 270.2h.6M501.1 268.8h.6M65.3 253.5h.6M71.7 258.0h.6M78.8 253.9h.6M85.9 253.8h.6M92.5 252.2h.6M98.8 257.5h.6M104.9 231.1h.6M112.0 232.6h.6M119.2 241.7h.6M126.0 235.3h.6M132.8 224.6h.6M139.3 230.4h.6M147.5 223.4h.6M153.7 232.1h.6M161.0 216.5h.6M165.3 215.1h.6M173.6 215.1h.6M181.0 223.4h.6M185.3 266.8h.6M193.7 239.4h.6M200.4 245.0h.6M207.4 227.8h.6M213.8 250.5h.6M221.0 235.4h.6M227.0 234.1h.6M233.5 249.5h.6M240.9 226.6h.6M247.5 219.2h.6M253.1 228.6h.6M261.2 258.4h.6M268.3 256.4h.6M275.0 251.1h.6M280.5 249.3h.6M288.0 252.6h.6M294.6 257.5h.6M301.6 253.9h.6M307.8 262.0h.6M313.7 258.0h.6M320.4 263.4h.6M327.4 260.6h.6M335.4 259.2h.6M340.6 261.7h.6M347.8 261.6h.6M354.9 262.8h.6M361.7 261.6h.6M366.8 263.2h.6M374.0 263.7h.6M381.2 263.8h.6M389.4 262.9h.6M395.7 264.3h.6M401.2 262.9h.6M407.6 263.9h.6M414.5 263.9h.6M422.0 264.1h.6M428.0 263.7h.6M435.9 266.1h.6M441.3 264.2h.6M448.6 264.1h.6M455.7 267.3h.6M460.3 264.9h.6M468.9 264.7h.6M475.5 265.6h.6M482.5 264.2h.6M489.4 264.7h.6M495.9 265.9h.6M502.3 263.8h.6M63.6 251.4h.6M70.8 259.0h.6M77.6 263.3h.6M85.4 257.6h.6M91.0 256.4h.6M97.3 241.2h.6M103.5 241.4h.6M111.5 248.4h.6M119.0 246.8h.6M124.9 235.5h.6M131.6 244.2h.6M138.1 232.3h.6M144.1 222.4h.6M151.5 239.6h.6M157.2 226.5h.6M165.3 215.8h.6M171.8 244.9h.6M178.2 234.2h.6M184.2 238.2h.6M191.5 222.4h.6M198.1 250.9h.6M204.7 236.5h.6M211.2 244.2h.6M218.3 224.7h.6M225.6 230.3h.6M232.5 252.6h.6M238.0 239.2h.6M245.0 242.1h.6M251.6 258.1h.6M259.4 257.2h.6M264.7 250.6h.6M272.9 262.9h.6M278.5 241.1h.6M286.3 252.5h.6M291.9 252.7h.6M298.7 263.1h.6M305.5 263.3h.6M312.6 259.4h.6M319.0 260.5h.6M326.2 262.6h.6M333.4 262.0h.6M340.0 262.3h.6M346.3 262.7h.6M352.0 264.5h.6M359.4 262.6h.6M364.3 262.4h.6M373.0 263.1h.6M379.6 262.8h.6M385.2 262.7h.6M393.7 263.6h.6M399.4 264.1h.6M407.1 263.5h.6M412.6 264.5h.6M419.4 263.9h.6M426.2 263.3h.6M434.0 264.1h.6M439.0 263.7h.6M448.3 264.8h.6M453.4 265.0h.6M461.6 264.3h.6M466.4 265.5h.6M473.6 264.9h.6M479.7 266.6h.6M486.6 265.6h.6M493.9 264.1h.6M501.6 266.5h.6M63.0 263.0h.6M69.4 266.8h.6M77.7 259.4h.6M84.8 271.5h.6M89.8 256.1h.6M97.3 256.2h.6M102.6 258.8h.6M109.1 258.2h.6M117.0 274.4h.6M122.9 285.5h.6M131.5 243.1h.6M138.4 244.8h.6M144.2 260.3h.6M151.4 245.7h.6M158.4 261.4h.6M164.9 226.7h.6M171.9 261.7h.6M178.4 215.0h.6M183.7 246.2h.6M192.5 248.7h.6M198.8 280.9h.6M205.1 227.6h.6M211.8 250.2h.6M218.2 249.8h.6M225.4 231.4h.6M231.7 248.1h.6M238.4 237.7h.6M244.8 234.5h.6M252.3 231.8h.6M258.9 250.7h.6M265.5 246.0h.6M271.6 236.3h.6M279.7 258.9h.6M284.3 246.9h.6M291.2 262.9h.6M299.1 262.7h.6M305.1 261.7h.6M312.3 260.8h.6M320.1 262.7h.6M325.8 262.6h.6M331.6 264.1h.6M339.0 263.5h.6M345.2 266.1h.6M352.4 263.3h.6M359.9 264.1h.6M365.8 265.9h.6M373.2 266.0h.6M379.3 266.5h.6M387.2 264.7h.6M393.2 265.8h.6M400.0 263.3h.6M406.9 264.6h.6M413.5 266.1h.6M420.3 266.3h.6M426.2 265.3h.6M433.1 266.1h.6M440.4 264.6h.6M446.6 266.6h.6M453.7 266.1h.6M459.9 268.3h.6M466.4 267.2h.6M473.6 269.0h.6M479.9 268.2h.6M486.2 267.5h.6M493.1 273.0h.6M500.0 272.6h.6M67.9 246.1h.6M73.0 259.9h.6M80.0 248.6h.6M87.8 254.9h.6M93.7 264.1h.6M100.3 265.0h.6M106.8 268.7h.6M115.1 258.5h.6M120.3 248.8h.6M127.8 245.7h.6M134.2 240.6h.6M141.8 234.4h.6M147.9 279.0h.6M153.8 232.2h.6M160.0 262.4h.6M167.3 228.7h.6M174.0 248.1h.6M182.0 209.3h.6M187.6 227.5h.6M193.3 217.7h.6M201.7 250.4h.6M208.4 248.5h.6M213.6 221.4h.6M221.8 229.0h.6M227.2 244.7h.6M235.2 239.9h.6M241.5 238.6h.6M249.2 250.6h.6M255.2 224.9h.6M261.4 259.9h.6M268.7 250.5h.6M274.6 217.6h.6M281.9 243.7h.6M289.6 252.4h.6M294.9 264.4h.6M301.3 256.8h.6M310.1 254.2h.6M316.7 262.5h.6M322.1 260.7h.6M328.7 260.5h.6M335.9 261.6h.6M342.0 260.2h.6M349.4 261.7h.6M354.6 263.1h.6M363.1 263.1h.6M368.3 263.5h.6M376.0 262.4h.6M383.6 263.5h.6M388.8 262.2h.6M394.8 262.4h.6M402.0 262.6h.6M408.1 262.6h.6M417.8 263.1h.6M421.3 263.1h.6M428.5 263.6h.6M436.7 262.8h.6M443.4 264.3h.6M450.2 265.2h.6M457.8 264.3h.6M463.1 265.9h.6M470.2 266.6h.6M476.1 263.2h.6M483.2 265.5h.6M491.3 263.7h.6M497.3 264.3h.6M503.9 263.6h.6M63.9 263.6h.6M70.1 265.4h.6M77.0 261.3h.6M82.9 268.5h.6M90.2 259.9h.6M96.6 266.5h.6M104.3 275.2h.6M110.3 275.5h.6M117.7 234.2h.6M125.1 281.1h.6M132.0 247.5h.6M136.3 261.9h.6M143.7 259.9h.6M150.4 263.3h.6M158.4 244.5h.6M164.7 266.4h.6M171.2 276.2h.6M177.6 237.4h.6M184.2 245.4h.6M190.0 260.8h.6M198.7 264.3h.6M204.4 251.9h.6M211.4 249.7h.6M218.2 253.1h.6M225.2 245.2h.6M232.4 254.0h.6M238.2 248.9h.6M245.7 250.3h.6M249.9 227.2h.6M258.5 237.5h.6M264.7 260.1h.6M271.3 263.4h.6M279.5 262.6h.6M285.4 262.5h.6M292.1 262.0h.6M299.2 265.6h.6M305.4 264.4h.6M312.2 265.3h.6M318.5 266.3h.6M325.3 263.3h.6M331.9 265.3h.6M339.0 266.0h.6M344.4 264.0h.6M352.9 265.2h.6M359.2 266.7h.6M366.5 266.1h.6M372.3 266.1h.6M379.1 267.1h.6M386.5 265.4h.6M392.8 267.5h.6M399.5 266.7h.6M406.2 265.7h.6M411.6 266.4h.6M418.6 267.1h.6M426.1 268.8h.6M432.7 268.7h.6M438.6 267.8h.6M447.2 267.7h.6M453.4 270.6h.6M459.1 271.1h.6M468.0 269.8h.6M474.4 272.2h.6M480.1 268.5h.6M486.3 269.8h.6M493.6 273.5h.6M500.8 277.0h.6M70.3 262.8h.6M76.8 266.9h.6M83.8 264.8h.6M88.3 261.0h.6M96.9 271.9h.6M102.5 281.9h.6M108.8 270.0h.6M117.6 263.8h.6M122.7 252.5h.6M130.3 238.3h.6M136.3 275.0h.6M143.0 277.1h.6M151.3 251.1h.6M157.2 264.8h.6M164.0 244.9h.6M169.3 287.6h.6M177.0 260.1h.6M183.3 261.9h.6M190.4 283.6h.6M196.1 219.1h.6M204.7 257.9h.6M210.9 255.4h.6M216.3 247.7h.6M224.2 252.8h.6M230.0 261.6h.6M238.7 249.8h.6M244.0 251.0h.6M251.1 264.3h.6M259.5 263.4h.6M265.2 262.7h.6M271.1 264.3h.6M278.4 263.6h.6M284.4 263.2h.6M292.4 264.9h.6M297.6 265.6h.6M306.2 265.4h.6M311.0 264.1h.6M318.0 266.3h.6M324.2 266.0h.6M331.4 266.3h.6M339.7 266.8h.6M345.1 266.6h.6M350.8 266.7h.6M358.3 266.1h.6M365.1 266.6h.6M372.2 266.8h.6M378.7 266.9h.6M385.4 266.3h.6M393.9 266.2h.6M398.6 266.6h.6M405.7 266.0h.6M411.4 266.8h.6M419.4 266.8h.6M425.4 269.4h.6M433.6 270.8h.6M439.7 272.1h.6M446.1 268.8h.6M452.5 269.7h.6M459.0 266.9h.6M466.0 272.8h.6M472.9 274.5h.6M479.2 273.2h.6M485.7 273.8h.6M493.3 278.1h.6M499.4 275.4h.6M506.0 279.0h.6M67.7 270.4h.6M75.0 270.1h.6M80.9 261.0h.6M88.6 260.3h.6M95.5 271.4h.6M102.0 275.7h.6M108.3 254.5h.6M116.0 275.8h.6M122.9 267.3h.6M128.4 260.5h.6M134.8 234.8h.6M142.6 230.1h.6M148.6 264.2h.6M156.0 217.2h.6M162.3 239.7h.6M167.6 258.9h.6M176.1 220.6h.6M181.5 275.9h.6M188.3 275.2h.6M195.7 225.8h.6M204.2 241.7h.6M208.5 241.4h.6M216.0 235.4h.6M222.1 238.3h.6M229.5 252.5h.6M236.2 260.3h.6M243.9 251.1h.6M249.7 253.5h.6M256.3 255.4h.6M262.0 249.1h.6M269.5 260.8h.6M277.0 254.9h.6M283.3 253.3h.6M290.1 263.9h.6M296.7 253.8h.6M303.8 262.0h.6M309.4 263.4h.6M316.9 264.6h.6M323.6 262.5h.6M330.5 263.8h.6M335.8 263.9h.6M342.4 265.7h.6M350.8 264.9h.6M357.3 264.5h.6M364.8 264.6h.6M370.8 265.1h.6M376.7 263.0h.6M384.6 265.5h.6M390.7 266.0h.6M396.9 265.8h.6M403.1 264.2h.6M409.7 265.6h.6M417.3 264.5h.6M424.1 266.3h.6M430.9 265.2h.6M437.7 265.2h.6M444.4 266.1h.6M452.2 265.1h.6M457.7 266.7h.6M465.4 267.5h.6M471.0 267.5h.6M477.3 266.4h.6M484.4 268.0h.6M490.0 268.8h.6M499.5 269.1h.6M505.2 270.7h.6M67.7 265.3h.6M74.8 251.7h.6M81.4 262.0h.6M88.2 268.2h.6M94.2 263.7h.6M101.7 246.6h.6M108.7 241.3h.6M115.3 233.3h.6M123.8 235.8h.6M129.0 224.9h.6M135.8 220.6h.6M142.0 232.8h.6M148.7 228.1h.6M155.7 252.9h.6M162.4 257.6h.6M168.9 216.6h.6M176.9 215.4h.6M182.3 231.9h.6M188.6 238.3h.6M195.8 223.9h.6M202.9 224.3h.6M209.7 212.7h.6M216.0 254.5h.6M222.8 220.9h.6M230.1 237.6h.6M236.4 237.7h.6M242.8 225.9h.6M250.4 246.7h.6M257.1 255.3h.6M262.6 242.6h.6M270.4 245.7h.6M276.0 250.7h.6M285.9 254.3h.6M290.5 255.1h.6M296.4 248.6h.6M303.4 252.5h.6M309.3 255.0h.6M316.4 250.7h.6M325.3 254.8h.6M330.5 257.3h.6M336.6 256.6h.6M344.1 258.5h.6M350.6 261.8h.6M356.7 261.9h.6M363.7 262.4h.6M370.7 262.4h.6M376.3 261.9h.6M384.0 262.0h.6M389.1 262.7h.6M396.9 262.1h.6M405.3 262.8h.6M411.9 262.4h.6M419.0 263.1h.6M424.1 263.4h.6M431.2 262.8h.6M438.0 263.3h.6M445.2 263.7h.6M451.6 264.1h.6M458.1 263.5h.6M465.1 265.3h.6M471.3 265.0h.6M478.7 263.2h.6M484.7 263.5h.6M492.5 264.1h.6M499.1 264.1h.6M504.8 265.8h.6M66.6 258.6h.6M74.0 259.1h.6M80.6 270.2h.6M87.3 252.3h.6M93.2 254.8h.6M100.3 240.7h.6M107.1 260.6h.6M113.5 252.9h.6M120.6 270.5h.6M126.4 282.5h.6M133.0 257.8h.6M139.6 234.6h.6M148.0 253.5h.6M153.7 252.7h.6M159.9 244.0h.6M167.9 225.2h.6M173.9 245.9h.6M181.0 221.2h.6M187.4 235.2h.6M194.7 233.6h.6M201.0 213.0h.6M206.5 247.9h.6M215.2 261.7h.6M221.9 236.3h.6M226.7 235.3h.6M235.5 255.1h.6M241.4 233.4h.6M248.5 250.2h.6M255.4 254.9h.6M261.9 249.2h.6M268.6 255.8h.6M276.2 251.2h.6M282.7 255.6h.6M288.2 262.1h.6M294.5 257.9h.6M302.1 261.7h.6M307.7 261.8h.6M315.3 263.9h.6M321.7 263.8h.6M327.7 262.7h.6M336.1 264.6h.6M342.4 262.7h.6M349.1 262.6h.6M356.2 265.2h.6M362.1 266.0h.6M370.2 264.6h.6M377.5 265.7h.6M382.5 263.8h.6M389.3 265.6h.6M397.0 264.9h.6M401.2 265.8h.6M408.7 264.5h.6M415.3 266.5h.6M421.6 264.7h.6M429.7 268.2h.6M436.7 266.0h.6M443.4 268.4h.6M449.9 269.3h.6M457.3 271.5h.6M463.8 267.9h.6M470.3 265.7h.6M476.3 270.5h.6M483.4 268.2h.6M490.8 267.3h.6M497.5 269.6h.6M504.6 268.7h.6M69.1 260.8h.6M76.9 266.7h.6M82.5 253.7h.6M89.5 269.3h.6M95.6 254.1h.6M102.2 267.4h.6M109.7 243.3h.6M117.0 252.1h.6M122.6 241.7h.6M129.8 276.4h.6M135.3 229.9h.6M142.7 234.7h.6M149.7 274.4h.6M155.4 258.2h.6M163.0 240.0h.6M168.4 235.7h.6M176.7 219.8h.6M183.4 230.6h.6M190.0 241.3h.6M196.1 255.3h.6M202.4 250.5h.6M208.5 256.7h.6M215.9 242.8h.6M224.8 231.3h.6M230.1 238.2h.6M236.6 258.5h.6M242.7 247.4h.6M249.6 259.5h.6M258.0 231.4h.6M264.2 248.0h.6M269.0 247.1h.6M276.1 256.8h.6M284.7 251.9h.6M289.9 251.7h.6M297.5 260.2h.6M303.0 253.5h.6M310.7 260.9h.6M316.2 262.6h.6M324.0 261.8h.6M330.3 262.6h.6M338.6 263.0h.6M345.5 263.1h.6M351.3 264.0h.6M357.8 264.2h.6M364.5 264.1h.6M370.7 264.4h.6M377.4 265.1h.6M384.1 264.8h.6M391.5 264.1h.6M397.5 265.8h.6M404.4 265.0h.6M411.9 265.6h.6M417.1 265.5h.6M425.9 265.3h.6M431.1 265.8h.6M438.5 265.7h.6M445.7 265.8h.6M451.6 267.4h.6M458.7 269.4h.6M464.6 267.8h.6M471.9 267.5h.6M479.3 268.4h.6M484.4 267.9h.6M492.2 266.5h.6M499.1 266.4h.6M505.6 273.0h.6M65.8 262.6h.6M74.0 260.9h.6M80.7 256.2h.6M87.0 251.6h.6M93.1 259.5h.6M100.2 274.3h.6M106.0 243.8h.6M112.5 228.1h.6M120.8 235.4h.6M127.6 234.2h.6M133.6 248.2h.6M140.3 221.4h.6M147.8 223.8h.6M154.2 225.6h.6M160.8 244.1h.6M166.9 245.0h.6M172.4 228.3h.6M180.8 240.2h.6M187.9 225.7h.6M193.6 226.3h.6M200.8 209.8h.6M207.7 216.8h.6M212.3 217.7h.6M222.3 237.0h.6M228.6 233.4h.6M233.8 224.1h.6M240.4 238.8h.6M246.7 237.7h.6M256.7 247.9h.6M260.7 237.7h.6M268.3 238.0h.6M274.1 256.4h.6M281.0 246.9h.6M288.5 256.9h.6M294.2 249.8h.6M301.4 254.9h.6M308.2 256.3h.6M315.5 255.7h.6M322.1 260.8h.6M328.5 256.9h.6M336.1 260.2h.6M341.4 255.6h.6M348.4 261.5h.6M355.6 262.2h.6M361.7 263.0h.6M368.8 263.6h.6M373.7 262.2h.6M381.2 262.5h.6M387.1 262.6h.6M396.5 262.9h.6M403.0 262.5h.6M408.0 263.0h.6M416.2 263.8h.6M421.4 263.3h.6M429.2 264.2h.6M437.3 263.1h.6M442.8 264.3h.6M451.1 262.8h.6M456.3 263.8h.6M463.0 262.8h.6M469.5 264.0h.6M476.6 264.5h.6M483.0 264.0h.6M489.7 264.4h.6M497.4 263.7h.6M503.2 264.6h.6M68.9 265.0h.6M75.6 269.2h.6M81.9 252.4h.6M87.6 260.7h.6M95.3 257.3h.6M100.2 249.3h.6M107.8 241.4h.6M115.2 255.6h.6M122.8 229.9h.6M128.9 230.0h.6M135.6 249.6h.6M140.8 251.8h.6M147.5 266.0h.6M154.9 224.8h.6M161.4 218.1h.6M168.4 251.9h.6M177.4 214.2h.6M182.9 221.7h.6M188.3 224.4h.6M194.9 255.8h.6M202.4 228.5h.6M209.0 217.0h.6M215.5 229.0h.6M221.4 249.1h.6M229.8 217.4h.6M236.4 224.8h.6M243.4 252.0h.6M249.9 245.1h.6M256.6 231.1h.6M262.5 244.7h.6M268.3 250.1h.6M276.8 242.6h.6M283.1 248.2h.6M289.1 262.0h.6M295.2 258.7h.6M304.0 262.8h.6M309.4 260.8h.6M316.2 260.0h.6M322.9 261.5h.6M331.4 260.2h.6M336.1 262.5h.6M344.7 262.7h.6M348.6 262.4h.6M357.9 262.2h.6M363.5 262.5h.6M368.8 263.9h.6M377.1 262.6h.6M383.9 263.8h.6M389.6 262.6h.6M397.5 264.1h.6M404.8 263.3h.6M411.2 264.0h.6M416.8 264.3h.6M423.7 264.2h.6M431.1 264.1h.6M437.3 264.2h.6M444.0 264.0h.6M450.6 264.0h.6M459.1 264.7h.6M464.3 264.0h.6M471.8 264.3h.6M479.0 264.7h.6M484.5 267.4h.6M490.2 264.3h.6M498.3 269.1h.6M505.3 265.7h.6M66.9 257.4h.6M73.0 256.8h.6M80.8 223.8h.6M87.1 258.0h.6M92.7 240.4h.6M101.3 250.1h.6M108.1 253.3h.6M113.0 242.6h.6M120.2 250.8h.6M126.8 265.9h.6M133.7 220.5h.6M141.7 221.3h.6M147.4 268.6h.6M153.8 242.8h.6M161.0 222.8h.6M167.5 227.3h.6M174.1 229.8h.6M181.7 244.5h.6M187.7 223.2h.6M195.1 227.4h.6M202.1 214.8h.6M207.8 251.1h.6M215.2 238.1h.6M222.5 228.1h.6M228.4 220.8h.6M235.4 239.3h.6M241.1 250.8h.6M248.1 261.7h.6M255.4 260.3h.6M262.4 244.3h.6M267.5 245.3h.6M274.0 242.8h.6M281.7 255.6h.6M288.8 250.7h.6M293.8 259.7h.6M302.2 261.0h.6M308.5 262.1h.6M314.3 259.0h.6M322.0 262.6h.6M329.4 261.2h.6M334.6 260.3h.6M342.5 261.7h.6M348.9 262.4h.6M356.2 262.7h.6M362.6 264.0h.6M368.5 263.8h.6M376.0 265.6h.6M383.0 263.5h.6M389.0 264.9h.6M394.8 262.1h.6M402.2 265.2h.6M409.8 263.2h.6M416.7 264.3h.6M422.2 263.8h.6M429.3 264.7h.6M435.4 265.2h.6M442.9 264.2h.6M450.1 264.1h.6M456.0 262.2h.6M463.3 266.0h.6M469.7 264.6h.6M476.0 265.1h.6M483.5 266.5h.6M489.4 265.9h.6M496.9 266.0h.6M504.1 263.5h.6M67.1 253.5h.6M75.0 234.3h.6M80.9 251.3h.6M87.6 266.0h.6M94.4 267.8h.6M100.1 244.6h.6M108.1 251.8h.6M114.1 257.0h.6M121.3 263.8h.6M127.8 238.9h.6M134.3 249.6h.6M140.5 236.2h.6M147.5 220.3h.6M155.2 260.6h.6M161.5 240.8h.6M167.7 246.6h.6M175.0 233.5h.6M181.1 222.9h.6M188.3 228.1h.6M196.2 240.9h.6M201.5 219.8h.6M209.3 257.8h.6M214.6 262.0h.6M222.1 217.4h.6M228.6 252.8h.6M235.2 239.0h.6M242.1 253.5h.6M249.0 250.1h.6M255.1 248.2h.6M261.2 259.8h.6M269.4 255.5h.6M275.3 263.0h.6M282.2 259.1h.6M288.9 251.1h.6M295.2 259.6h.6M301.1 262.1h.6M309.2 261.4h.6M315.3 260.7h.6M321.3 266.4h.6M328.2 263.7h.6M336.1 264.0h.6M343.6 263.1h.6M349.0 264.4h.6M356.7 265.1h.6M362.4 265.7h.6M369.7 266.0h.6M376.3 264.0h.6M383.2 264.5h.6M389.5 265.6h.6M396.2 265.4h.6M402.3 264.6h.6M410.3 265.9h.6M415.7 264.4h.6M422.9 265.4h.6M431.3 266.5h.6M436.4 264.8h.6M443.5 268.5h.6M450.2 267.9h.6M457.1 265.6h.6M463.2 266.4h.6M470.5 267.3h.6M476.4 268.2h.6M483.5 267.1h.6M491.1 267.2h.6M497.7 269.2h.6M504.2 269.0h.6M65.5 254.4h.6M72.0 251.9h.6M79.0 261.8h.6M85.6 248.2h.6M92.7 260.0h.6M100.4 237.4h.6M105.7 242.4h.6M112.6 247.8h.6M120.8 231.8h.6M127.5 257.2h.6M132.5 237.3h.6M140.9 241.2h.6M146.9 218.1h.6M153.0 248.8h.6M160.0 239.0h.6M166.7 215.9h.6M172.6 238.4h.6M179.6 237.8h.6M186.9 222.4h.6M194.2 218.4h.6M201.5 216.2h.6M208.2 234.2h.6M213.5 235.0h.6M220.7 233.6h.6M226.4 259.7h.6M233.8 239.7h.6M241.2 244.0h.6M247.7 226.7h.6M255.4 251.4h.6M261.0 258.2h.6M267.7 243.9h.6M274.1 264.5h.6M279.9 250.2h.6M288.7 257.9h.6M295.3 257.7h.6M303.6 260.7h.6M309.8 253.3h.6M315.3 264.1h.6M320.8 257.8h.6M327.0 265.3h.6M334.8 261.2h.6M341.9 263.3h.6M347.5 265.8h.6M355.5 263.4h.6M362.4 263.8h.6M368.0 263.7h.6M375.1 264.4h.6M380.9 264.4h.6M389.7 265.8h.6M394.9 262.7h.6M401.6 264.0h.6M407.3 265.3h.6M415.1 265.1h.6M421.2 264.1h.6M429.7 265.7h.6M436.0 267.3h.6M441.5 266.5h.6M448.5 269.1h.6M455.9 264.1h.6M462.7 266.0h.6M469.1 266.8h.6M477.1 265.0h.6M483.3 268.4h.6M490.8 265.5h.6M494.2 267.9h.6M501.7 265.1h.6M67.5 262.8h.6M74.2 233.5h.6M78.5 257.3h.6M87.4 268.6h.6M93.7 224.7h.6M100.7 271.9h.6M107.1 226.3h.6M114.5 224.1h.6M119.7 222.9h.6M126.4 224.0h.6M134.0 226.2h.6M140.5 218.0h.6M146.4 227.7h.6M154.4 244.2h.6M161.3 219.8h.6M167.2 230.0h.6M174.6 235.1h.6M181.8 253.8h.6M185.7 223.4h.6M193.8 235.0h.6M200.2 232.5h.6M207.8 226.4h.6M212.7 222.7h.6M219.9 233.3h.6M227.3 242.2h.6M235.9 221.3h.6M240.3 233.0h.6M249.1 243.9h.6M255.3 246.4h.6M262.0 248.4h.6M269.0 260.0h.6M274.3 255.9h.6M281.6 242.5h.6M287.2 260.5h.6M294.3 250.7h.6M301.6 252.5h.6M308.7 261.5h.6M314.4 258.1h.6M320.3 254.8h.6M328.5 260.0h.6M335.5 260.7h.6M342.7 261.3h.6M348.2 259.7h.6M354.2 262.6h.6M362.5 262.7h.6M369.4 263.5h.6M375.7 262.2h.6M384.0 263.1h.6M389.1 261.4h.6M396.6 263.3h.6M402.1 264.5h.6M407.4 263.5h.6M414.9 262.5h.6M420.5 264.1h.6M429.0 263.9h.6M436.8 264.2h.6M441.6 264.6h.6M449.7 264.4h.6M456.4 264.1h.6M463.9 264.5h.6M469.5 266.5h.6M475.6 265.4h.6M483.1 265.8h.6M489.6 263.9h.6M496.7 262.8h.6M504.4 265.8h.6M66.0 252.5h.6M71.5 251.9h.6M78.8 249.8h.6M87.5 249.7h.6M93.5 232.2h.6M99.8 259.3h.6M107.5 239.0h.6M113.3 265.5h.6M120.8 272.6h.6M126.8 240.0h.6M133.8 258.9h.6M139.4 260.6h.6M146.8 243.2h.6M153.5 235.3h.6M160.6 261.8h.6M166.2 248.9h.6M173.6 231.7h.6M181.2 223.9h.6M187.2 232.2h.6M194.9 247.0h.6M201.6 243.6h.6M208.0 225.1h.6M214.3 231.9h.6M220.8 238.4h.6M227.3 233.1h.6M235.1 239.9h.6M241.5 230.4h.6M248.5 234.4h.6M255.5 249.7h.6M262.0 251.9h.6M268.3 247.5h.6M275.1 264.1h.6M281.7 251.6h.6M289.3 259.0h.6M294.7 258.6h.6M300.5 256.8h.6M307.3 262.2h.6M315.8 262.5h.6M322.4 261.6h.6M329.1 262.3h.6M334.4 265.0h.6M341.8 261.6h.6M347.5 262.8h.6M354.5 263.3h.6M361.8 262.9h.6M368.3 263.1h.6M376.3 263.6h.6M380.9 263.7h.6M388.8 263.6h.6M395.3 264.5h.6M403.0 265.2h.6M409.6 264.0h.6M415.6 263.4h.6M421.5 265.2h.6M429.2 265.3h.6M436.4 264.3h.6M442.3 264.9h.6M450.3 264.0h.6M455.4 265.8h.6M462.5 266.8h.6M469.3 265.3h.6M477.7 267.4h.6M483.7 264.8h.6M490.0 265.3h.6M495.7 265.8h.6M502.5 266.8h.6M64.7 256.2h.6M69.3 253.3h.6M77.3 258.0h.6M84.6 264.3h.6M89.8 248.1h.6M97.8 269.1h.6M105.0 267.6h.6M111.4 261.4h.6M118.5 254.3h.6M124.6 284.3h.6M131.8 227.9h.6M138.5 231.9h.6M145.1 282.1h.6M151.6 222.9h.6M156.7 245.2h.6M164.1 233.9h.6M172.4 221.5h.6M179.1 219.8h.6M185.2 228.5h.6M191.1 236.4h.6M197.8 240.2h.6M206.0 243.4h.6M212.5 236.1h.6M220.2 236.5h.6M226.4 246.3h.6M233.4 232.9h.6M239.6 228.6h.6M244.8 253.9h.6M252.4 222.0h.6M260.6 255.0h.6M265.3 260.7h.6M272.4 241.8h.6M279.1 236.4h.6M286.7 250.3h.6M292.2 258.8h.6M298.9 255.1h.6M307.1 263.2h.6M310.9 263.0h.6M320.1 260.7h.6M326.7 263.7h.6M332.7 260.2h.6M340.7 262.6h.6M345.8 263.5h.6M353.6 264.9h.6M359.8 264.9h.6M367.2 266.0h.6M372.2 263.4h.6M379.4 266.9h.6M388.0 263.5h.6M393.6 265.2h.6M399.9 266.2h.6M406.3 264.6h.6M413.2 265.4h.6M420.3 263.2h.6M426.2 264.2h.6M433.8 265.4h.6M440.5 266.3h.6M445.5 266.2h.6M453.9 266.0h.6M461.8 265.3h.6M466.8 267.8h.6M474.1 265.2h.6M480.9 266.3h.6M487.5 267.8h.6M493.5 267.0h.6M501.1 268.7h.6M69.3 264.7h.6M75.5 252.0h.6M82.9 261.9h.6M90.9 259.0h.6M97.9 261.7h.6M103.2 252.7h.6M110.3 266.1h.6M116.5 258.5h.6M123.9 274.2h.6M129.6 265.4h.6M137.9 225.7h.6M143.1 233.7h.6M150.3 251.8h.6M156.4 260.8h.6M164.4 228.5h.6M171.8 237.3h.6M177.4 239.2h.6M184.1 232.0h.6M190.5 250.3h.6M197.4 221.1h.6M204.0 243.2h.6M211.7 225.2h.6M218.5 242.4h.6M225.0 227.6h.6M231.2 237.7h.6M237.1 253.8h.6M245.5 233.5h.6M250.1 248.0h.6M257.5 255.2h.6M265.8 251.0h.6M270.7 251.2h.6M277.0 254.8h.6M283.4 249.9h.6M291.9 262.3h.6M299.1 262.9h.6M304.5 265.4h.6M310.0 263.1h.6M317.7 264.9h.6M324.4 261.8h.6M332.4 263.7h.6M339.8 262.5h.6M345.0 263.7h.6M352.1 264.3h.6M359.4 264.8h.6M366.8 262.6h.6M371.3 264.4h.6M379.4 264.6h.6M384.6 264.6h.6M391.9 263.4h.6M399.7 264.3h.6M404.7 265.8h.6M412.4 263.7h.6M419.8 264.4h.6M425.5 265.9h.6M431.4 263.3h.6M438.8 266.3h.6M445.9 265.9h.6M452.4 266.4h.6M460.8 264.6h.6M466.3 264.6h.6M472.5 265.5h.6M480.0 265.6h.6M486.2 267.4h.6M492.6 266.1h.6M499.6 270.1h.6M506.2 267.6h.6M63.2 271.9h.6M69.4 258.6h.6M76.5 238.1h.6M83.5 262.6h.6M90.5 251.8h.6M95.9 258.8h.6M102.9 259.8h.6M110.6 267.2h.6M117.5 226.1h.6M123.4 253.4h.6M131.2 267.0h.6M136.2 227.1h.6M143.9 259.2h.6M151.1 260.4h.6M156.1 233.3h.6M164.1 217.4h.6M170.5 240.9h.6M176.6 227.5h.6M184.9 262.2h.6M190.2 230.9h.6M197.1 245.7h.6M203.6 240.8h.6M211.3 238.7h.6M218.4 222.1h.6M225.6 229.5h.6M230.8 242.3h.6M237.8 242.2h.6M246.0 243.7h.6M251.0 255.5h.6M258.4 250.7h.6M266.0 257.1h.6M272.0 253.1h.6M277.3 255.7h.6M284.4 251.3h.6M291.6 249.9h.6M298.7 261.9h.6M304.6 264.0h.6M312.5 263.1h.6M318.7 260.2h.6M325.4 264.0h.6M331.8 262.5h.6M338.8 263.2h.6M346.4 262.2h.6M352.5 263.1h.6M359.8 262.4h.6M365.0 264.6h.6M371.3 263.4h.6M380.5 264.1h.6M385.4 263.8h.6M393.2 263.0h.6M399.4 264.2h.6M406.3 264.0h.6M412.5 264.3h.6M418.6 262.7h.6M425.7 266.0h.6M432.9 265.0h.6M439.3 264.5h.6M447.3 268.6h.6M452.9 265.5h.6M460.7 267.9h.6M466.0 266.6h.6M473.7 264.1h.6M479.8 269.1h.6M486.0 266.2h.6M493.5 269.4h.6M499.8 266.9h.6M67.9 260.4h.6M72.3 262.3h.6M80.7 255.1h.6M87.7 250.6h.6M92.0 256.1h.6M99.5 264.1h.6M106.5 259.4h.6M113.9 241.2h.6M120.3 279.0h.6M127.5 259.2h.6M134.8 262.8h.6M142.7 278.3h.6M147.0 232.8h.6M154.5 267.3h.6M161.5 251.5h.6M168.9 251.1h.6M173.4 220.7h.6M180.1 227.7h.6M187.3 240.4h.6M193.8 239.2h.6M201.3 265.5h.6M207.9 236.7h.6M213.6 245.6h.6M221.2 240.9h.6M227.3 230.5h.6M235.0 245.0h.6M241.4 251.6h.6M248.3 262.4h.6M255.9 261.7h.6M263.6 251.9h.6M268.7 250.6h.6M274.9 259.2h.6M283.4 258.0h.6M289.8 266.2h.6M295.7 265.1h.6M302.5 264.2h.6M309.9 264.0h.6M315.8 263.0h.6M323.2 265.0h.6M329.2 262.8h.6M335.3 265.1h.6M342.2 265.7h.6M348.7 266.0h.6M355.3 264.9h.6M363.6 265.8h.6M369.8 265.7h.6M375.9 265.6h.6M383.8 265.8h.6M389.5 266.5h.6M397.2 266.5h.6M404.4 266.6h.6M409.7 266.1h.6M416.4 266.0h.6M422.4 266.3h.6M430.9 267.5h.6M437.3 268.7h.6M443.4 269.3h.6M449.9 269.0h.6M456.3 267.0h.6M464.6 270.3h.6M470.4 267.5h.6M477.3 270.3h.6M482.7 271.9h.6M491.6 268.7h.6M497.2 271.9h.6M502.4 273.3h.6M62.3 270.6h.6M70.2 268.4h.6M76.1 271.2h.6M84.3 256.3h.6M90.2 269.4h.6M96.4 264.8h.6M103.6 258.5h.6M109.9 238.4h.6M116.6 257.7h.6M125.0 237.7h.6M130.9 271.7h.6M137.1 263.5h.6M145.0 266.6h.6M150.3 292.4h.6M157.0 278.7h.6M165.3 221.0h.6M171.3 267.5h.6M178.9 250.1h.6M185.3 248.4h.6M191.3 237.8h.6M197.8 261.1h.6M204.9 213.3h.6M212.5 227.2h.6M217.0 253.3h.6M222.6 250.7h.6M231.1 257.9h.6M236.9 246.7h.6M244.8 246.9h.6M250.3 260.6h.6M258.2 256.9h.6M265.3 242.3h.6M271.1 263.4h.6M277.7 252.7h.6M285.4 264.7h.6M291.1 263.5h.6M298.3 265.4h.6M305.0 266.0h.6M310.9 263.5h.6M319.1 265.9h.6M324.6 265.7h.6M333.1 264.8h.6M339.3 265.2h.6M344.7 265.7h.6M351.7 266.3h.6M359.8 266.1h.6M365.5 265.3h.6M373.9 266.3h.6M378.8 266.5h.6M386.1 265.9h.6M391.3 266.0h.6M399.2 267.1h.6M407.0 265.1h.6M411.5 266.3h.6M419.6 265.9h.6M425.4 269.0h.6M432.0 269.6h.6M439.2 269.9h.6M445.8 269.9h.6M452.5 267.0h.6M459.3 270.6h.6M466.1 272.1h.6M471.8 272.8h.6M480.8 273.7h.6M487.9 273.8h.6M494.0 276.3h.6M500.0 276.7h.6M66.5 269.3h.6M74.2 257.9h.6M80.2 270.4h.6M88.2 253.7h.6M93.6 265.0h.6M100.9 255.0h.6M107.5 268.9h.6M113.6 233.3h.6M120.9 233.2h.6M127.0 245.6h.6M134.6 226.7h.6M140.8 264.1h.6M149.5 231.5h.6M153.8 244.8h.6M161.7 252.1h.6M167.8 240.4h.6M175.1 220.1h.6M181.2 214.6h.6M188.1 213.6h.6M195.4 216.8h.6M202.5 218.8h.6M207.2 219.2h.6M214.7 236.2h.6M221.2 219.8h.6M227.5 218.8h.6M235.6 240.0h.6M242.4 258.3h.6M248.7 230.7h.6M255.6 243.9h.6M263.2 246.4h.6M268.4 257.5h.6M276.5 256.5h.6M284.0 248.5h.6M287.2 257.6h.6M295.4 255.6h.6M303.5 261.9h.6M309.6 264.2h.6M315.0 253.5h.6M323.6 256.9h.6M329.8 258.5h.6M335.0 258.9h.6M343.0 261.6h.6M349.1 262.7h.6M356.3 264.1h.6M362.0 264.1h.6M369.9 263.1h.6M376.3 263.4h.6M382.6 264.0h.6M389.8 264.1h.6M397.2 263.3h.6M404.3 264.0h.6M408.9 262.9h.6M417.1 263.3h.6M423.5 264.2h.6M429.9 263.7h.6M437.0 264.3h.6M444.3 264.5h.6M450.9 264.9h.6M456.8 263.9h.6M463.3 267.2h.6M470.9 267.4h.6M477.9 267.4h.6M483.5 266.6h.6M491.1 266.3h.6M497.6 264.8h.6M505.0 265.3h.6M62.2 247.7h.6M70.5 255.5h.6M75.4 260.7h.6M83.4 242.1h.6M90.6 256.3h.6M96.7 258.5h.6M104.1 242.7h.6M110.5 252.3h.6M117.2 252.3h.6M123.7 248.5h.6M129.6 230.1h.6M137.3 252.0h.6M143.7 233.0h.6M150.0 241.4h.6M156.3 238.4h.6M164.7 234.9h.6M169.6 215.0h.6M176.6 247.8h.6M183.6 235.7h.6M191.3 229.9h.6M197.5 237.9h.6M203.3 223.7h.6M211.4 228.5h.6M217.7 238.9h.6M223.3 215.4h.6M231.7 227.4h.6M237.7 232.3h.6M243.4 236.7h.6M249.1 235.6h.6M258.2 235.6h.6M264.5 250.0h.6M271.7 254.8h.6M277.8 254.0h.6M284.5 258.7h.6M291.8 258.3h.6M298.8 263.0h.6M304.2 264.2h.6M312.2 259.6h.6M318.8 259.0h.6M324.5 259.6h.6M332.0 260.2h.6M338.0 263.4h.6M344.2 263.2h.6M351.7 262.4h.6M358.2 263.0h.6M366.5 262.5h.6M372.8 263.4h.6M379.6 264.1h.6M386.5 262.6h.6M393.5 264.3h.6M400.5 264.1h.6M405.3 263.2h.6M413.3 264.7h.6M419.4 264.0h.6M426.3 264.4h.6M432.9 262.9h.6M439.3 265.9h.6M445.8 265.0h.6M452.8 264.9h.6M460.8 263.9h.6M464.5 262.9h.6M472.3 265.1h.6M478.8 264.0h.6M486.7 267.3h.6M493.4 263.5h.6M500.7 267.4h.6M63.5 270.4h.6M70.4 271.5h.6M76.9 262.0h.6M83.1 268.7h.6M89.5 249.0h.6M97.3 248.3h.6M102.9 267.5h.6M111.1 232.6h.6M116.6 286.2h.6M123.1 271.7h.6M131.0 282.0h.6M137.9 249.1h.6M144.5 228.6h.6M149.7 234.6h.6M156.9 232.7h.6M164.7 266.0h.6M173.1 228.1h.6M177.9 229.8h.6M185.2 270.7h.6M191.2 222.3h.6M196.9 231.5h.6M205.3 262.0h.6M210.8 279.1h.6M218.3 221.7h.6M224.3 219.0h.6M230.8 238.3h.6M237.4 250.5h.6M244.2 250.1h.6M251.5 246.1h.6M259.1 241.8h.6M265.2 261.8h.6M271.6 253.2h.6M278.7 255.1h.6M284.8 260.9h.6M292.9 265.9h.6M299.2 263.9h.6M304.7 267.4h.6M312.0 264.4h.6M318.8 265.7h.6M324.9 262.4h.6M332.0 264.6h.6M339.1 265.5h.6M345.1 264.0h.6M352.2 264.4h.6M359.8 265.7h.6M365.7 264.6h.6M373.2 264.9h.6M380.5 265.6h.6M385.9 265.9h.6M393.4 265.2h.6M398.8 265.8h.6M405.4 264.8h.6M412.7 266.8h.6M419.6 267.8h.6M425.2 267.6h.6M433.8 269.1h.6M440.1 268.7h.6M445.8 269.5h.6M452.6 268.7h.6M460.0 267.4h.6M465.9 271.1h.6M473.7 273.2h.6M479.5 271.4h.6M485.7 270.9h.6M494.4 273.1h.6M500.1 277.2h.6M62.4 268.1h.6M70.1 268.2h.6M77.6 271.3h.6M83.9 270.7h.6M90.6 269.1h.6M97.6 252.0h.6M103.3 276.7h.6M110.4 259.1h.6M117.5 287.7h.6M123.4 256.2h.6M130.8 272.7h.6M137.5 266.2h.6M142.7 273.4h.6M149.7 292.8h.6M157.5 259.6h.6M163.8 284.5h.6M171.3 266.7h.6M177.4 253.1h.6M183.9 273.5h.6M191.7 262.7h.6M197.6 252.0h.6M205.4 240.5h.6M210.6 258.5h.6M217.7 269.2h.6M224.6 253.9h.6M231.0 259.8h.6M237.9 252.3h.6M244.1 265.9h.6M252.1 247.3h.6M258.5 257.4h.6M265.4 249.0h.6M270.6 264.5h.6M278.9 264.2h.6M284.1 265.6h.6M292.0 265.7h.6M299.3 267.1h.6M305.5 266.0h.6M311.7 266.4h.6M318.5 263.7h.6M326.4 266.1h.6M332.9 266.4h.6M337.9 266.8h.6M345.7 266.0h.6M352.1 267.4h.6M357.5 266.7h.6M366.7 266.9h.6M372.5 267.1h.6M379.6 266.2h.6M386.4 266.9h.6M391.8 267.0h.6M400.4 267.1h.6M405.5 266.7h.6M412.1 267.3h.6M419.6 271.2h.6M426.4 270.2h.6M432.9 269.5h.6M439.7 271.3h.6M447.9 270.5h.6M453.6 271.9h.6M460.4 271.2h.6M466.4 273.2h.6M475.3 274.6h.6M480.0 275.4h.6M485.5 275.5h.6M494.1 276.1h.6M499.9 280.9h.6M64.1 264.2h.6M72.4 260.6h.6M79.6 268.0h.6M85.3 254.5h.6M91.3 264.9h.6M98.4 252.4h.6M105.9 264.8h.6M113.4 268.5h.6M120.1 269.5h.6M125.7 239.5h.6M132.1 270.3h.6M138.4 223.8h.6M145.0 248.0h.6M152.6 222.2h.6M158.1 243.8h.6M166.6 222.3h.6M172.9 238.1h.6M179.0 225.7h.6M187.5 258.4h.6M192.2 275.7h.6M200.6 249.6h.6M206.8 253.0h.6M213.4 243.7h.6M220.1 237.4h.6M225.8 237.4h.6M233.2 229.5h.6M240.8 236.4h.6M245.9 254.7h.6M253.9 245.1h.6M260.0 255.0h.6M266.8 244.6h.6M273.8 264.8h.6M280.0 263.0h.6M286.8 258.5h.6M294.9 265.7h.6M300.0 263.8h.6M307.0 264.9h.6M313.2 263.1h.6M320.8 262.4h.6M326.8 264.7h.6M335.2 264.2h.6M340.6 264.8h.6M349.4 265.3h.6M353.5 264.7h.6M358.9 264.5h.6M367.1 265.1h.6M373.5 263.4h.6M381.7 265.2h.6M387.9 265.4h.6M394.2 265.1h.6M400.9 266.4h.6M408.2 264.9h.6M416.8 264.5h.6M421.6 265.2h.6M428.1 265.0h.6M435.2 266.3h.6M441.7 266.3h.6M448.3 267.1h.6M454.4 267.0h.6M462.0 268.1h.6M468.7 268.3h.6M474.4 266.2h.6M482.1 267.9h.6M488.2 271.1h.6M494.8 272.6h.6M502.2 271.5h.6M69.7 271.7h.6M76.3 260.4h.6M82.4 254.3h.6M89.0 261.2h.6M96.3 246.7h.6M102.8 252.0h.6M109.2 275.8h.6M116.7 251.4h.6M121.7 241.0h.6M129.0 240.7h.6M136.4 258.0h.6M141.9 259.2h.6M149.1 235.6h.6M156.8 262.3h.6M161.5 238.0h.6M169.9 234.5h.6M177.7 245.3h.6M183.3 221.6h.6M191.0 215.0h.6M197.8 230.0h.6M202.8 246.4h.6M210.2 229.7h.6M217.1 248.2h.6M224.6 253.5h.6M230.8 236.4h.6M237.5 243.3h.6M244.1 243.8h.6M250.1 252.9h.6M257.3 254.6h.6M263.4 253.8h.6M270.7 262.2h.6M278.3 257.2h.6M282.9 256.7h.6M292.1 254.9h.6M297.6 260.5h.6M305.1 264.6h.6M311.5 263.2h.6M319.0 262.4h.6M325.9 262.3h.6M332.0 261.6h.6M338.5 261.8h.6M343.8 264.6h.6M351.3 263.5h.6M358.2 264.1h.6M365.4 264.3h.6M371.1 263.5h.6M377.7 263.4h.6M384.6 265.2h.6M391.3 264.5h.6M400.1 262.7h.6M405.1 263.9h.6M411.1 262.7h.6M418.2 264.0h.6M425.2 264.1h.6M432.0 263.2h.6M437.5 264.0h.6M444.9 267.0h.6M451.6 264.9h.6M459.4 264.5h.6M465.0 266.4h.6M472.3 263.4h.6M478.5 265.3h.6M485.2 267.8h.6M494.1 265.8h.6M499.8 266.5h.6M506.0 265.8h.6M65.3 256.5h.6M72.0 259.4h.6M80.1 248.2h.6M87.6 251.9h.6M93.2 264.6h.6M100.8 257.6h.6M105.7 258.0h.6M112.6 264.8h.6M120.0 255.3h.6M126.4 267.0h.6M134.0 245.7h.6M139.8 231.3h.6M147.1 279.2h.6M154.1 220.5h.6M160.7 222.4h.6M167.9 223.2h.6M174.4 286.6h.6M181.5 237.6h.6M187.2 255.0h.6M193.7 216.4h.6M199.4 220.8h.6M206.5 243.3h.6M214.3 231.7h.6M221.0 241.0h.6M227.5 249.3h.6M233.7 245.5h.6M240.3 247.5h.6M246.1 250.3h.6M253.8 248.8h.6M260.7 255.7h.6M265.9 261.0h.6M275.6 248.4h.6M280.6 259.4h.6M288.6 262.4h.6M295.8 259.9h.6M302.6 262.1h.6M307.6 265.7h.6M315.4 265.1h.6M322.5 266.0h.6M328.3 266.3h.6M335.1 263.5h.6M341.0 263.6h.6M348.8 264.0h.6M354.3 265.2h.6M362.1 261.3h.6M368.8 265.0h.6M375.8 265.7h.6M382.1 265.1h.6M388.0 265.2h.6M395.0 264.6h.6M404.2 263.7h.6M409.1 265.4h.6M415.7 265.2h.6M421.1 266.4h.6M429.2 266.4h.6M435.1 269.1h.6M442.0 268.6h.6M449.6 268.0h.6M457.6 267.8h.6M462.6 266.6h.6M469.5 268.8h.6M476.2 270.0h.6M482.9 268.6h.6M489.9 265.6h.6M497.0 268.3h.6M502.9 275.3h.6M66.0 255.2h.6M72.3 269.8h.6M78.1 259.8h.6M85.5 243.4h.6M92.1 253.2h.6M100.2 269.1h.6M105.8 257.9h.6M112.7 253.7h.6M119.0 264.7h.6M123.9 238.4h.6M133.4 228.8h.6M138.1 251.4h.6M145.6 239.8h.6M151.5 251.3h.6M158.8 235.5h.6M165.9 234.1h.6M172.4 223.2h.6M180.5 247.2h.6M185.3 279.6h.6M192.5 223.1h.6M200.1 261.9h.6M206.2 254.6h.6M213.5 234.9h.6M221.3 231.3h.6M227.5 254.1h.6M233.0 244.8h.6M240.4 248.0h.6M246.2 248.3h.6M254.1 263.8h.6M259.5 238.6h.6M267.2 260.4h.6M274.2 264.7h.6M280.6 261.2h.6M286.8 265.9h.6M293.9 263.2h.6M300.2 264.4h.6M307.6 265.9h.6M314.4 262.9h.6M321.4 264.7h.6M327.1 266.4h.6M334.2 264.8h.6M339.9 265.4h.6M347.3 265.9h.6M353.6 265.0h.6M360.5 265.6h.6M367.8 265.9h.6M374.9 265.0h.6M381.8 266.2h.6M387.9 267.0h.6M394.7 264.9h.6M401.6 266.0h.6M408.7 264.7h.6M414.6 266.2h.6M420.7 266.5h.6M427.9 266.9h.6M436.0 267.4h.6M441.8 267.0h.6M448.5 269.7h.6M455.2 269.3h.6M460.7 267.3h.6M468.0 269.2h.6M475.7 272.8h.6M482.5 267.9h.6M488.8 271.6h.6M494.6 276.3h.6M500.7 269.6h.6M69.2 258.4h.6M76.0 249.3h.6M81.7 267.4h.6M90.1 267.3h.6M95.8 235.2h.6M104.5 262.4h.6M110.1 263.9h.6M114.6 273.0h.6M123.2 249.7h.6M129.2 254.7h.6M136.7 240.9h.6M142.9 253.1h.6M150.5 273.9h.6M155.7 250.6h.6M162.8 226.0h.6M170.2 233.9h.6M177.0 273.6h.6M182.6 215.1h.6M190.6 221.2h.6M197.6 221.9h.6M203.5 252.3h.6M209.9 220.2h.6M216.7 226.7h.6M224.0 234.6h.6M230.5 244.9h.6M237.5 246.9h.6M244.4 228.5h.6M249.9 229.6h.6M257.4 226.7h.6M264.1 258.2h.6M271.8 248.6h.6M277.7 253.6h.6M284.3 253.9h.6M290.7 248.4h.6M298.2 251.2h.6M305.0 258.2h.6M310.8 265.6h.6M318.4 261.1h.6M324.7 262.5h.6M332.4 260.7h.6M338.6 265.7h.6M344.8 262.7h.6M350.4 261.0h.6M358.9 262.5h.6M365.8 264.0h.6M370.9 264.5h.6M378.4 263.4h.6M385.3 263.9h.6M391.8 263.2h.6M398.7 264.1h.6M404.9 262.8h.6M411.9 264.6h.6M419.4 265.4h.6M424.3 264.6h.6M432.7 264.3h.6M438.0 268.6h.6M445.5 266.0h.6M451.5 266.2h.6M459.0 264.2h.6M464.9 267.6h.6M472.8 265.2h.6M478.1 268.0h.6M484.8 267.3h.6M492.6 265.6h.6M499.4 265.9h.6M505.0 268.1h.6M62.8 255.5h.6M70.2 257.7h.6M76.9 261.5h.6M83.2 262.8h.6M90.9 229.3h.6M96.6 247.3h.6M104.3 256.4h.6M110.2 253.6h.6M117.2 240.9h.6M121.6 227.8h.6M129.6 242.9h.6M138.2 232.5h.6M143.1 233.5h.6M150.4 256.5h.6M157.0 230.9h.6M162.3 238.1h.6M171.1 259.5h.6M178.3 243.6h.6M185.0 214.4h.6M190.6 215.2h.6M197.2 211.7h.6M203.9 243.4h.6M211.4 225.3h.6M217.2 223.2h.6M224.8 230.9h.6M231.4 221.3h.6M237.0 242.8h.6M243.8 228.3h.6M251.9 251.1h.6M258.9 247.6h.6M265.0 245.1h.6M272.7 251.4h.6M278.2 246.2h.6M284.4 250.4h.6M291.2 259.5h.6M298.7 262.4h.6M303.2 260.7h.6M311.3 262.6h.6M318.4 255.3h.6M325.1 260.3h.6M331.3 260.3h.6M339.4 260.9h.6M345.0 262.5h.6M351.9 263.7h.6M359.0 263.0h.6M364.7 264.4h.6M374.0 264.5h.6M378.5 264.4h.6M385.3 263.7h.6M391.4 262.3h.6M398.8 264.0h.6M404.9 263.8h.6M411.7 263.1h.6M418.3 264.9h.6M424.3 263.0h.6M433.6 262.8h.6M439.7 264.1h.6M446.6 263.2h.6M453.2 265.0h.6M460.1 264.6h.6M465.7 264.3h.6M475.1 265.0h.6M479.5 263.6h.6M485.5 263.4h.6M494.5 266.1h.6M499.5 266.3h.6M69.1 262.2h.6M76.8 252.7h.6M82.8 249.3h.6M89.0 265.4h.6M96.9 250.9h.6M103.1 259.5h.6M110.8 237.3h.6M117.2 229.5h.6M123.0 228.7h.6M130.3 233.3h.6M135.6 269.0h.6M142.6 232.8h.6M149.5 250.3h.6M156.9 235.5h.6M163.4 243.4h.6M170.0 221.8h.6M176.4 259.8h.6M182.7 238.0h.6M189.6 228.5h.6M197.0 247.0h.6M204.3 216.5h.6M210.6 225.9h.6M218.1 242.4h.6M224.9 256.8h.6M231.6 236.3h.6M236.3 260.2h.6M243.5 257.6h.6M251.8 237.8h.6M257.7 255.2h.6M264.8 261.2h.6M271.5 245.9h.6M276.4 263.4h.6M284.6 246.8h.6M291.4 264.7h.6M297.4 263.9h.6M305.0 264.6h.6M312.6 264.7h.6M318.1 263.4h.6M324.3 260.5h.6M331.3 265.3h.6M337.1 264.3h.6M343.5 265.2h.6M351.2 264.2h.6M358.2 262.4h.6M364.5 264.9h.6M371.6 264.7h.6M378.4 264.7h.6M384.5 265.8h.6M391.8 264.1h.6M398.5 265.3h.6M405.3 264.9h.6M411.9 265.0h.6M419.0 265.2h.6M425.5 264.9h.6M431.9 265.7h.6M439.3 266.7h.6M445.0 267.7h.6M454.0 267.9h.6M458.9 268.7h.6M467.4 266.1h.6M472.6 266.2h.6M479.6 268.1h.6M486.7 271.3h.6M492.9 269.8h.6M499.5 268.6h.6M505.7 268.8h.6M65.3 242.2h.6M72.4 252.3h.6M79.1 234.6h.6M85.4 251.8h.6M93.2 248.2h.6M98.5 245.4h.6M105.8 262.7h.6M112.9 246.9h.6M119.7 230.7h.6M125.6 243.8h.6M133.6 235.0h.6M141.0 225.8h.6M146.5 218.6h.6M153.6 220.0h.6M159.1 259.8h.6M166.2 225.7h.6M172.6 231.5h.6M179.9 249.7h.6M185.6 216.3h.6M193.0 237.6h.6M200.2 209.9h.6M208.2 216.3h.6M212.8 212.2h.6M220.6 227.3h.6M227.3 230.0h.6M232.3 223.6h.6M239.3 227.5h.6M247.5 262.2h.6M253.5 243.7h.6M259.8 247.8h.6M265.7 229.4h.6M273.2 235.9h.6M281.0 247.9h.6M288.0 248.4h.6M295.7 251.9h.6M300.9 253.2h.6M308.7 252.2h.6M314.2 259.2h.6M320.9 258.6h.6M327.7 259.8h.6M334.7 260.2h.6M340.3 263.4h.6M348.1 260.4h.6M353.7 261.5h.6M361.7 263.3h.6M370.2 262.6h.6M373.9 264.1h.6M382.5 262.8h.6M387.5 262.1h.6M395.1 262.5h.6M402.5 263.1h.6M408.9 264.2h.6M415.8 263.4h.6M422.3 262.6h.6M428.7 264.5h.6M434.9 264.6h.6M442.7 263.0h.6M449.2 263.3h.6M456.5 263.3h.6M460.5 262.9h.6M469.8 263.4h.6M475.5 263.4h.6M481.6 264.5h.6M489.0 264.7h.6M495.1 262.9h.6M502.1 264.2h.6M64.6 267.1h.6M71.6 269.0h.6M79.3 259.0h.6M85.2 265.6h.6M91.3 263.2h.6M99.0 267.1h.6M104.7 265.8h.6M112.9 281.5h.6M119.0 274.4h.6M126.1 286.7h.6M132.1 275.1h.6M139.0 264.8h.6M146.0 272.8h.6M153.0 280.8h.6M160.3 240.7h.6M166.1 226.7h.6M172.1 226.8h.6M179.4 263.7h.6M186.2 239.7h.6M192.9 240.4h.6M200.2 248.5h.6M205.5 257.9h.6M214.3 240.6h.6M219.4 237.7h.6M225.6 242.1h.6M232.8 257.7h.6M238.9 250.3h.6M248.3 258.7h.6M254.3 262.1h.6M260.9 255.3h.6M268.2 252.6h.6M274.5 250.9h.6M279.4 256.7h.6M287.2 256.0h.6M293.0 263.3h.6M301.2 260.4h.6M306.9 264.8h.6M313.5 263.9h.6M319.7 265.5h.6M327.5 264.5h.6M334.5 265.7h.6M339.8 266.1h.6M347.5 264.6h.6M354.4 266.2h.6M360.7 265.6h.6M367.7 265.5h.6M375.5 264.4h.6M381.8 266.0h.6M388.6 265.6h.6M395.1 266.1h.6M401.2 266.4h.6M407.6 263.5h.6M414.2 267.0h.6M421.7 269.5h.6M427.3 267.5h.6M435.7 268.2h.6M443.1 269.1h.6M449.5 270.8h.6M454.6 272.2h.6M461.6 268.5h.6M467.7 266.0h.6M475.6 270.7h.6M482.0 271.7h.6M489.3 272.1h.6M494.7 272.6h.6M502.6 268.9h.6M65.9 245.4h.6M71.9 247.3h.6M80.2 251.3h.6M86.6 250.0h.6M93.7 255.5h.6M100.0 264.8h.6M106.6 228.9h.6M113.4 233.7h.6M120.1 234.6h.6M126.1 227.2h.6M133.2 236.3h.6M140.8 217.4h.6M146.9 235.0h.6M154.6 222.6h.6M160.6 214.0h.6M167.4 221.3h.6M173.7 254.0h.6M180.5 219.4h.6M187.4 250.9h.6M195.6 253.3h.6M200.6 225.5h.6M208.5 219.5h.6M213.9 232.1h.6M220.4 244.5h.6M227.3 250.6h.6M234.1 236.3h.6M241.0 225.3h.6M248.1 251.9h.6M254.9 219.2h.6M261.7 238.5h.6M268.1 243.8h.6M275.5 248.4h.6M281.8 243.7h.6M289.1 249.9h.6M295.5 255.3h.6M302.3 254.2h.6M308.6 253.2h.6M314.0 258.1h.6M321.4 256.5h.6M328.7 255.6h.6M334.6 255.4h.6M341.8 261.7h.6M348.9 258.8h.6M355.7 261.3h.6M362.4 260.2h.6M369.2 261.6h.6M376.8 261.6h.6M382.0 261.7h.6M389.0 262.5h.6M394.6 263.7h.6M403.4 263.6h.6M409.7 262.0h.6M415.1 262.5h.6M423.1 261.7h.6M429.0 263.6h.6M436.6 263.7h.6M442.8 263.4h.6M449.6 263.2h.6M455.3 263.4h.6M463.3 263.1h.6M470.6 263.8h.6M477.2 264.6h.6M483.2 264.5h.6M490.2 264.5h.6M496.2 262.9h.6M503.8 265.3h.6M69.3 255.5h.6M74.8 273.8h.6M83.0 269.7h.6M88.4 271.1h.6M95.4 272.3h.6M103.3 244.8h.6M108.4 278.3h.6M115.4 235.9h.6M123.3 234.3h.6M129.0 257.4h.6M135.7 242.4h.6M142.9 281.8h.6M148.6 243.5h.6M155.9 260.3h.6M162.1 246.2h.6M169.0 231.5h.6M176.7 237.0h.6M183.6 231.9h.6M189.8 242.7h.6M195.3 237.3h.6M202.9 253.3h.6M210.0 236.8h.6M216.2 245.0h.6M223.8 259.6h.6M229.4 250.3h.6M237.1 262.9h.6M243.3 249.0h.6M250.0 252.2h.6M256.9 256.6h.6M263.9 261.4h.6M269.9 260.1h.6M276.9 255.7h.6M283.9 255.6h.6M290.7 257.2h.6M298.2 260.5h.6M304.2 256.9h.6M311.7 259.5h.6M318.0 260.4h.6M323.7 264.2h.6M332.4 263.1h.6M338.5 264.7h.6M343.4 263.0h.6M351.0 263.6h.6M357.0 262.6h.6M364.6 262.2h.6M371.5 263.7h.6M377.5 264.4h.6M384.3 264.4h.6M391.5 264.0h.6M398.9 264.8h.6M405.0 264.9h.6M411.5 264.8h.6M418.1 265.1h.6M424.1 264.6h.6M432.6 266.2h.6M438.4 266.7h.6M444.6 265.9h.6M452.4 267.1h.6M460.1 265.2h.6M464.4 267.0h.6M472.9 267.4h.6M477.9 265.2h.6M485.7 270.5h.6M492.1 270.1h.6M498.8 270.6h.6M505.0 273.3h.6M66.7 251.5h.6M75.1 269.9h.6M81.0 253.2h.6M88.6 250.2h.6M94.7 246.4h.6M102.6 238.7h.6M108.5 250.2h.6M115.2 236.9h.6M122.3 250.4h.6M128.6 235.4h.6M135.7 250.5h.6M142.2 246.6h.6M149.7 264.5h.6M154.5 254.6h.6M162.4 229.6h.6M169.2 265.7h.6M177.1 227.0h.6M182.5 221.1h.6M190.3 247.6h.6M195.9 218.3h.6M204.6 225.2h.6M209.3 218.2h.6M215.1 219.9h.6M221.4 242.5h.6M228.7 228.1h.6M236.3 258.7h.6M241.8 258.3h.6M248.7 250.7h.6M256.9 241.7h.6M262.6 250.3h.6M270.3 249.6h.6M277.5 260.5h.6M283.8 243.3h.6M290.4 255.3h.6M296.2 259.3h.6M302.6 262.0h.6M311.6 263.2h.6M317.9 261.4h.6M323.5 263.8h.6M331.2 260.8h.6M337.7 264.5h.6M343.7 264.7h.6M351.5 263.8h.6M357.1 264.8h.6M364.9 262.7h.6M371.6 262.0h.6M377.5 264.4h.6M383.4 264.5h.6M391.8 263.8h.6M397.1 263.8h.6M404.0 264.9h.6M410.5 265.4h.6M417.7 264.3h.6M424.3 264.1h.6M430.8 266.1h.6M438.9 264.8h.6M445.0 267.4h.6M452.1 269.1h.6M457.3 266.1h.6M464.1 270.5h.6M472.6 266.3h.6M478.4 267.0h.6M485.4 267.4h.6M493.3 269.1h.6M499.4 270.2h.6M505.6 270.1h.6M64.3 206.9h.6M63.9 322.0h.6M93.9 322.0h.6M100.2 322.0h.6M94.8 299.9h.6M63.9 291.5h.6M124.8 299.9h.6M157.1 301.4h.6M178.1 299.9h.6M182.6 299.9h.6M186.6 314.8h.6M186.6 322.8h.6M195.6 287.7h.6M200.1 290.0h.6M204.1 290.4h.6M208.6 306.0h.6M166.0 322.8h.6M200.1 267.9h.6M192.9 190.2h.6M152.6 189.4h.6M157.1 189.4h.6M58.9 326.6h.6M59.3 321.2h.6M58.6 315.6h.6M59.0 312.0h.6M59.1 306.5h.6M59.6 304.1h.6M58.7 299.1h.6M58.9 293.7h.6M58.8 289.5h.6M59.5 287.2h.6M59.2 283.5h.6M59.1 278.9h.6M59.4 272.8h.6M58.8 268.7h.6M58.8 266.2h.6M58.8 259.7h.6M59.6 255.4h.6M59.4 253.6h.6M59.0 248.9h.6M58.7 242.8h.6M58.9 241.1h.6M58.5 234.3h.6M58.8 231.3h.6M59.6 226.9h.6M59.5 221.2h.6M58.9 217.2h.6M58.6 215.1h.6M59.0 208.9h.6M59.2 205.2h.6M59.4 200.6h.6" stroke="#0909bd" stroke-width="2.1" stroke-linecap="round" fill="none"/><path d="M64.7 355.4h.6M71.8 355.6h.6M78.0 355.7h.6M85.2 355.9h.6M92.3 356.0h.6M98.1 356.0h.6M104.7 356.5h.6M112.4 358.0h.6M118.7 357.8h.6M126.6 358.2h.6M132.1 357.7h.6M137.5 357.7h.6M144.7 358.0h.6M152.4 361.3h.6M157.9 360.6h.6M164.6 361.6h.6M172.9 364.7h.6M178.1 366.9h.6M184.8 366.6h.6M192.1 365.5h.6M199.8 373.1h.6M206.9 373.0h.6M212.1 372.6h.6M219.7 382.5h.6M224.5 383.2h.6M233.1 383.5h.6M237.4 383.3h.6M245.2 384.5h.6M253.3 384.0h.6M259.5 384.4h.6M266.7 389.5h.6M270.3 392.1h.6M280.6 392.5h.6M287.1 398.8h.6M294.5 398.8h.6M299.2 399.6h.6M306.9 401.1h.6M313.8 405.2h.6M319.7 405.6h.6M326.9 407.3h.6M333.4 412.6h.6M340.8 408.4h.6M346.3 413.1h.6M353.1 422.2h.6M359.9 423.4h.6M366.7 423.3h.6M374.3 426.1h.6M380.6 432.7h.6M387.1 431.5h.6M394.6 432.6h.6M400.2 440.0h.6M407.0 440.7h.6M413.1 441.2h.6M422.2 443.5h.6M428.8 446.7h.6M434.6 447.4h.6M441.4 452.3h.6M446.8 454.3h.6M454.2 454.0h.6M461.9 454.2h.6M468.0 457.6h.6M473.3 457.5h.6M481.9 457.6h.6M488.0 464.7h.6M495.1 465.5h.6M502.4 465.0h.6M67.2 353.8h.6M73.8 353.7h.6M81.4 353.9h.6M88.8 354.0h.6M92.6 354.0h.6M100.5 354.1h.6M107.6 354.4h.6M114.1 354.7h.6M122.6 354.2h.6M128.1 354.4h.6M133.3 354.9h.6M141.4 354.6h.6M147.0 354.7h.6M155.5 355.2h.6M161.4 354.9h.6M169.1 354.9h.6M174.5 355.4h.6M181.9 357.0h.6M189.6 356.5h.6M195.6 356.1h.6M201.3 356.0h.6M208.8 355.7h.6M215.9 356.7h.6M222.0 358.2h.6M229.2 356.9h.6M235.9 358.0h.6M241.8 359.9h.6M247.6 357.7h.6M254.7 357.4h.6M261.3 359.7h.6M268.8 360.2h.6M275.8 369.0h.6M281.5 361.0h.6M289.5 362.0h.6M296.1 367.8h.6M301.3 364.5h.6M308.8 368.2h.6M315.0 369.7h.6M323.5 372.7h.6M329.3 376.5h.6M336.4 377.3h.6M343.7 373.5h.6M350.0 386.8h.6M356.2 384.1h.6M363.0 390.9h.6M369.9 394.0h.6M376.6 397.2h.6M384.0 402.1h.6M389.6 400.3h.6M396.7 404.4h.6M403.8 408.1h.6M410.1 408.3h.6M416.9 418.6h.6M423.4 414.4h.6M429.6 415.3h.6M436.6 429.0h.6M444.0 426.1h.6M451.1 429.4h.6M457.7 428.8h.6M463.7 438.4h.6M470.0 439.8h.6M476.4 440.8h.6M483.2 442.1h.6M491.1 449.0h.6M499.1 450.4h.6M503.9 449.8h.6M68.6 353.9h.6M74.6 354.2h.6M81.7 353.6h.6M87.7 354.4h.6M95.3 354.2h.6M102.9 354.6h.6M108.2 354.8h.6M114.8 354.5h.6M121.5 354.5h.6M128.3 355.3h.6M134.1 355.0h.6M141.1 355.4h.6M148.2 355.5h.6M155.7 356.4h.6M162.5 356.6h.6M168.9 356.2h.6M176.4 358.0h.6M182.7 358.4h.6M188.7 359.8h.6M195.9 357.1h.6M203.1 362.1h.6M209.2 361.0h.6M215.4 359.8h.6M222.5 362.8h.6M230.1 361.6h.6M236.1 358.3h.6M242.2 361.6h.6M249.3 366.4h.6M255.8 367.3h.6M260.9 368.4h.6M268.7 365.2h.6M278.4 365.2h.6M282.3 368.0h.6M289.7 373.5h.6M297.3 374.9h.6M303.5 379.9h.6M310.1 377.8h.6M316.0 379.5h.6M323.6 382.5h.6M330.1 386.1h.6M336.3 388.1h.6M343.5 392.8h.6M350.5 394.2h.6M357.6 403.9h.6M365.0 398.8h.6M370.7 400.9h.6M379.8 407.8h.6M383.8 414.3h.6M390.4 409.8h.6M396.4 408.7h.6M404.2 418.4h.6M411.4 415.1h.6M418.4 420.7h.6M424.6 422.9h.6M431.7 422.7h.6M438.0 434.2h.6M444.1 434.6h.6M450.8 435.8h.6M457.7 441.0h.6M465.4 440.0h.6M470.2 442.1h.6M477.2 448.1h.6M485.6 451.8h.6M491.7 449.5h.6M498.5 456.3h.6M505.5 458.1h.6M67.7 354.3h.6M74.1 354.7h.6M81.7 354.1h.6M87.3 354.3h.6M94.4 354.7h.6M101.7 354.9h.6M108.7 354.9h.6M114.0 354.9h.6M121.4 355.8h.6M128.0 355.3h.6M134.9 355.1h.6M142.4 356.4h.6M148.0 355.7h.6M154.2 355.8h.6M161.4 356.5h.6M167.2 358.2h.6M176.5 357.2h.6M182.3 358.0h.6M187.5 359.1h.6M195.0 358.0h.6M201.2 359.4h.6M208.9 361.4h.6M216.0 361.7h.6M223.5 360.7h.6M229.2 361.3h.6M235.8 367.3h.6M242.9 364.3h.6M249.1 367.4h.6M256.1 369.2h.6M261.9 367.5h.6M268.9 374.5h.6M277.2 371.6h.6M280.9 366.0h.6M290.1 383.9h.6M295.9 377.7h.6M303.6 383.2h.6M308.9 385.6h.6M316.5 385.3h.6M321.9 383.6h.6M330.2 387.5h.6M335.6 391.2h.6M342.5 398.3h.6M347.4 396.2h.6M355.7 403.0h.6M363.9 395.7h.6M369.1 403.7h.6M375.9 410.3h.6M384.0 408.4h.6M389.8 418.3h.6M397.2 417.8h.6M403.4 420.0h.6M411.4 420.1h.6M415.8 425.8h.6M423.1 424.2h.6M430.2 435.7h.6M437.7 437.5h.6M445.3 438.7h.6M450.9 438.0h.6M458.0 445.8h.6M464.9 444.9h.6M472.8 451.5h.6M477.2 451.8h.6M485.2 451.9h.6M491.2 453.6h.6M498.1 460.9h.6M505.0 461.7h.6M65.4 354.0h.6M72.8 354.3h.6M78.9 354.1h.6M85.7 353.9h.6M93.1 353.8h.6M99.2 354.0h.6M106.1 354.3h.6M114.8 354.4h.6M119.9 354.2h.6M125.7 354.5h.6M132.1 354.4h.6M140.2 354.8h.6M146.5 354.8h.6M152.2 355.1h.6M160.5 355.3h.6M165.4 355.0h.6M174.9 355.8h.6M181.0 357.2h.6M187.6 357.7h.6M192.5 357.2h.6M200.7 357.1h.6M208.5 358.1h.6M214.2 358.8h.6M220.1 356.9h.6M228.2 357.7h.6M232.8 362.4h.6M240.6 358.1h.6M247.4 366.7h.6M253.6 364.8h.6M260.7 364.4h.6M267.8 364.3h.6M274.6 366.9h.6M280.8 371.3h.6M286.2 370.4h.6M293.1 376.3h.6M300.2 374.7h.6M307.6 373.9h.6M313.9 381.2h.6M323.0 385.3h.6M327.5 383.4h.6M334.6 382.6h.6M341.6 385.4h.6M347.3 392.3h.6M354.2 389.9h.6M361.8 404.4h.6M367.8 402.8h.6M375.7 397.9h.6M380.8 401.3h.6M388.5 408.5h.6M396.0 407.2h.6M402.0 412.1h.6M408.2 418.3h.6M415.5 420.7h.6M422.5 417.3h.6M428.2 425.9h.6M434.8 430.5h.6M442.3 429.3h.6M449.9 435.1h.6M455.6 434.8h.6M462.4 438.3h.6M468.1 443.6h.6M475.1 446.4h.6M482.2 446.3h.6M489.2 448.7h.6M496.7 453.6h.6M502.8 454.2h.6M65.4 353.6h.6M72.5 353.8h.6M78.5 354.2h.6M85.7 354.4h.6M91.7 354.3h.6M97.8 354.2h.6M103.7 354.4h.6M111.7 354.4h.6M118.6 354.6h.6M125.6 354.8h.6M132.3 355.5h.6M138.9 355.0h.6M146.7 356.1h.6M152.5 355.7h.6M158.1 355.1h.6M166.1 357.1h.6M171.1 356.5h.6M178.7 357.0h.6M184.6 356.9h.6M192.9 357.5h.6M199.9 361.9h.6M204.6 360.9h.6M212.3 358.8h.6M218.3 358.3h.6M224.9 359.1h.6M232.5 359.3h.6M239.1 363.3h.6M244.9 366.9h.6M251.1 359.7h.6M258.5 367.5h.6M266.0 367.2h.6M272.2 367.9h.6M279.8 374.1h.6M286.6 369.4h.6M293.6 371.3h.6M300.1 376.3h.6M306.8 377.2h.6M314.5 380.3h.6M319.5 387.6h.6M327.2 380.8h.6M334.2 393.0h.6M339.2 395.4h.6M347.2 391.6h.6M352.1 397.6h.6M359.7 393.9h.6M366.1 401.0h.6M374.2 403.4h.6M380.3 404.6h.6M385.5 414.0h.6M395.1 416.1h.6M402.5 420.1h.6M408.0 413.8h.6M414.0 421.2h.6M420.9 423.2h.6M427.2 421.5h.6M433.7 434.2h.6M441.3 434.3h.6M448.2 438.2h.6M454.0 443.2h.6M461.1 441.2h.6M469.1 448.7h.6M474.3 441.0h.6M481.9 452.7h.6M488.0 453.2h.6M494.9 451.3h.6M501.6 454.2h.6M66.4 354.4h.6M74.5 354.3h.6M81.1 354.5h.6M87.7 354.3h.6M93.7 354.9h.6M100.7 354.6h.6M107.7 355.3h.6M114.1 355.5h.6M120.8 355.7h.6M127.8 356.0h.6M134.2 356.7h.6M139.5 355.4h.6M147.6 355.6h.6M155.8 356.2h.6M162.2 357.5h.6M167.6 357.7h.6M174.8 358.7h.6M182.7 361.5h.6M187.5 359.9h.6M195.2 359.4h.6M200.7 364.0h.6M209.0 359.4h.6M214.8 362.4h.6M221.9 365.8h.6M228.6 368.4h.6M236.9 363.1h.6M240.5 363.2h.6M247.5 364.9h.6M255.7 368.0h.6M262.3 377.1h.6M268.6 374.1h.6M276.1 377.4h.6M282.4 374.7h.6M289.3 379.8h.6M297.2 387.8h.6M302.5 387.9h.6M309.7 388.2h.6M316.7 395.5h.6M322.9 390.9h.6M330.2 393.9h.6M335.2 395.9h.6M341.7 398.0h.6M348.7 405.3h.6M355.8 400.1h.6M363.5 411.0h.6M369.4 405.3h.6M376.4 408.9h.6M383.3 417.2h.6M390.5 420.8h.6M396.2 421.4h.6M403.0 417.9h.6M409.7 431.9h.6M417.6 434.2h.6M424.1 431.3h.6M428.7 439.7h.6M437.3 438.1h.6M443.7 441.6h.6M450.9 441.3h.6M456.8 442.9h.6M463.7 444.8h.6M469.3 449.2h.6M477.7 453.3h.6M485.5 453.9h.6M490.9 456.7h.6M498.4 461.7h.6M505.0 463.8h.6M64.4 353.8h.6M70.3 354.1h.6M77.1 355.3h.6M83.7 354.8h.6M91.3 355.0h.6M97.5 354.9h.6M103.1 355.1h.6M112.2 355.5h.6M118.4 355.9h.6M125.2 355.7h.6M131.2 355.9h.6M137.8 356.3h.6M145.2 355.4h.6M151.8 356.2h.6M157.8 357.1h.6M164.6 356.6h.6M172.1 357.6h.6M178.3 360.3h.6M186.6 360.4h.6M191.1 360.1h.6M198.3 360.0h.6M205.5 362.5h.6M210.7 370.2h.6M217.7 364.0h.6M223.9 361.6h.6M231.7 361.4h.6M238.7 371.5h.6M245.6 371.9h.6M253.1 368.2h.6M259.0 377.7h.6M266.0 379.5h.6M272.8 372.7h.6M278.0 374.2h.6M285.9 381.0h.6M291.6 381.0h.6M299.9 386.0h.6M306.9 390.6h.6M313.3 385.8h.6M319.8 391.2h.6M326.3 385.6h.6M331.8 396.2h.6M340.2 401.1h.6M346.3 387.8h.6M352.6 397.2h.6M358.7 406.3h.6M365.8 401.3h.6M373.1 411.2h.6M380.5 415.0h.6M387.0 416.1h.6M392.6 420.1h.6M400.8 419.8h.6M407.4 427.0h.6M413.2 424.8h.6M420.3 426.2h.6M427.2 427.6h.6M433.2 428.6h.6M440.7 436.4h.6M446.5 439.3h.6M454.6 442.0h.6M460.8 442.5h.6M468.5 445.7h.6M473.1 450.4h.6M480.1 451.0h.6M486.2 454.4h.6M494.1 455.8h.6M501.0 458.1h.6M69.0 354.6h.6M76.7 354.7h.6M82.5 354.7h.6M89.4 355.0h.6M95.9 355.3h.6M104.2 355.3h.6M109.4 355.4h.6M116.3 355.6h.6M123.7 355.9h.6M130.0 355.1h.6M136.7 356.2h.6M142.7 355.4h.6M151.2 357.0h.6M157.9 357.3h.6M163.9 358.0h.6M169.7 358.7h.6M177.1 358.3h.6M183.9 360.8h.6M190.3 363.8h.6M195.5 365.3h.6M204.0 369.3h.6M209.2 369.3h.6M216.4 368.2h.6M224.0 375.1h.6M228.3 370.7h.6M238.3 375.7h.6M243.3 376.7h.6M250.7 377.2h.6M257.3 375.3h.6M264.1 380.5h.6M270.4 387.4h.6M276.9 384.6h.6M283.5 384.2h.6M290.6 388.3h.6M297.9 388.6h.6M304.1 391.4h.6M310.8 389.7h.6M318.7 397.7h.6M324.2 395.2h.6M331.3 398.6h.6M339.9 402.4h.6M345.8 398.8h.6M352.0 410.9h.6M358.0 414.6h.6M365.6 411.4h.6M371.5 422.1h.6M378.1 419.0h.6M385.0 419.7h.6M392.7 423.7h.6M398.6 427.1h.6M405.0 425.9h.6M411.0 431.8h.6M419.7 429.7h.6M425.7 438.4h.6M432.9 437.2h.6M438.4 437.4h.6M446.1 443.6h.6M452.7 442.9h.6M459.0 450.1h.6M465.8 452.8h.6M471.4 449.0h.6M478.3 453.1h.6M487.0 454.1h.6M491.9 455.5h.6M498.6 460.0h.6M506.2 463.3h.6M65.5 354.3h.6M71.7 354.0h.6M78.4 355.0h.6M84.5 354.9h.6M91.6 354.5h.6M97.3 355.0h.6M106.2 354.9h.6M112.5 354.8h.6M118.3 355.6h.6M125.2 354.9h.6M132.5 355.5h.6M139.3 355.8h.6M145.6 355.4h.6M152.3 355.0h.6M159.8 356.6h.6M166.0 356.0h.6M174.1 356.3h.6M178.8 357.9h.6M184.4 358.2h.6M192.4 359.3h.6M200.4 358.7h.6M206.6 360.8h.6M213.4 365.3h.6M220.4 361.9h.6M228.3 360.2h.6M233.3 360.5h.6M241.2 362.5h.6M246.6 371.1h.6M253.9 368.6h.6M261.4 374.3h.6M268.0 371.8h.6M272.6 378.7h.6M281.2 366.2h.6M287.2 368.8h.6M293.2 378.3h.6M299.7 382.6h.6M307.5 377.3h.6M313.9 382.2h.6M321.2 383.6h.6M328.0 391.5h.6M333.2 386.8h.6M339.4 388.1h.6M347.0 393.0h.6M354.6 395.1h.6M361.1 402.5h.6M369.1 405.0h.6M375.3 411.8h.6M381.8 408.7h.6M387.3 411.2h.6M395.4 412.8h.6M400.7 424.8h.6M408.8 417.7h.6M415.1 425.9h.6M422.1 427.6h.6M428.6 425.6h.6M435.5 435.1h.6M441.7 436.2h.6M447.7 434.5h.6M455.9 436.6h.6M462.5 442.1h.6M468.9 443.0h.6M475.0 443.4h.6M482.9 450.0h.6M488.0 452.4h.6M494.3 451.1h.6M502.6 455.9h.6M65.1 354.8h.6M70.8 354.1h.6M76.8 355.0h.6M83.8 354.6h.6M91.0 355.0h.6M98.8 355.3h.6M104.5 355.3h.6M111.9 355.3h.6M118.7 356.5h.6M123.6 357.3h.6M132.1 356.6h.6M138.9 357.7h.6M145.3 356.9h.6M151.2 358.3h.6M159.4 359.5h.6M165.3 360.1h.6M172.2 360.4h.6M179.1 363.6h.6M185.8 364.7h.6M191.3 363.9h.6M198.6 367.8h.6M205.0 364.7h.6M212.3 370.5h.6M218.6 367.4h.6M225.5 364.5h.6M232.4 369.9h.6M238.8 379.2h.6M245.9 378.2h.6M253.3 380.5h.6M258.7 378.6h.6M266.2 381.2h.6M272.6 382.3h.6M278.3 386.8h.6M285.9 389.4h.6M293.4 392.9h.6M298.4 395.2h.6M305.5 396.8h.6M313.6 400.5h.6M320.5 404.1h.6M326.1 401.6h.6M332.4 406.3h.6M338.4 411.8h.6M347.5 407.3h.6M353.5 411.5h.6M359.8 415.0h.6M366.0 416.9h.6M374.2 421.0h.6M379.9 422.7h.6M387.6 431.0h.6M393.6 429.2h.6M400.6 436.0h.6M407.2 432.7h.6M413.3 435.6h.6M420.0 437.2h.6M428.9 439.9h.6M434.2 447.1h.6M439.5 446.0h.6M448.6 447.7h.6M452.9 443.4h.6M461.3 450.3h.6M468.3 454.2h.6M474.0 455.0h.6M480.0 455.3h.6M487.2 460.2h.6M495.0 463.5h.6M500.9 463.1h.6M66.3 354.3h.6M72.6 354.1h.6M79.2 354.1h.6M86.2 354.2h.6M94.4 354.4h.6M101.0 354.5h.6M107.1 354.8h.6M113.4 354.7h.6M120.4 354.9h.6M127.7 355.7h.6M133.9 354.8h.6M139.0 355.6h.6M147.1 355.5h.6M153.0 355.4h.6M160.1 357.4h.6M166.3 355.9h.6M172.6 357.4h.6M179.7 358.4h.6M187.4 357.6h.6M194.1 357.5h.6M201.1 361.2h.6M206.9 362.6h.6M213.2 359.9h.6M221.0 365.3h.6M228.4 363.8h.6M235.0 360.6h.6M241.1 367.3h.6M247.6 365.0h.6M254.8 366.5h.6M261.5 370.5h.6M268.0 371.9h.6M274.1 367.9h.6M280.8 369.8h.6M289.1 378.4h.6M295.2 381.7h.6M301.3 388.0h.6M308.7 382.0h.6M315.9 385.6h.6M321.1 383.2h.6M328.3 397.5h.6M335.1 392.9h.6M342.9 396.2h.6M347.8 401.6h.6M355.8 401.9h.6M360.7 397.6h.6M369.1 404.0h.6M375.5 412.2h.6M382.0 411.0h.6M389.8 410.9h.6M395.6 414.9h.6M401.7 421.9h.6M410.0 416.4h.6M415.4 421.7h.6M422.8 428.2h.6M430.5 432.1h.6M435.0 428.2h.6M443.3 434.5h.6M450.2 438.5h.6M457.9 441.4h.6M461.8 442.5h.6M470.2 443.5h.6M477.8 447.4h.6M483.3 451.0h.6M490.0 452.0h.6M496.1 457.3h.6M502.5 458.0h.6M66.3 354.0h.6M71.4 354.3h.6M78.9 354.7h.6M85.9 354.2h.6M93.4 355.0h.6M99.2 355.1h.6M106.4 354.7h.6M111.6 355.0h.6M118.7 354.8h.6M125.2 354.9h.6M132.5 355.6h.6M138.2 356.7h.6M145.7 356.1h.6M151.7 356.1h.6M160.1 358.0h.6M166.2 357.4h.6M173.4 358.4h.6M178.8 357.7h.6M186.2 358.1h.6M194.3 358.2h.6M199.8 362.7h.6M206.3 359.4h.6M213.4 366.5h.6M220.5 360.5h.6M227.2 364.6h.6M232.2 366.2h.6M239.5 362.2h.6M247.2 360.8h.6M254.1 367.7h.6M260.2 376.2h.6M266.6 377.5h.6M273.4 367.8h.6M280.4 375.1h.6M286.5 375.7h.6M292.9 384.2h.6M298.7 383.6h.6M305.9 380.3h.6M312.6 395.1h.6M321.5 393.8h.6M327.2 389.8h.6M334.1 399.4h.6M340.8 400.8h.6M346.7 403.5h.6M355.0 398.5h.6M360.3 406.8h.6M367.6 406.6h.6M374.1 411.1h.6M380.4 412.5h.6M387.3 417.5h.6M394.8 415.3h.6M400.4 424.9h.6M408.5 422.1h.6M413.5 427.8h.6M421.7 428.5h.6M427.8 432.9h.6M434.4 437.3h.6M441.5 436.2h.6M447.3 442.4h.6M454.3 441.4h.6M461.0 446.4h.6M468.2 447.1h.6M475.2 448.2h.6M482.3 449.0h.6M488.4 452.1h.6M495.8 455.0h.6M502.3 459.1h.6M67.5 354.1h.6M74.4 354.2h.6M80.7 354.1h.6M88.7 353.8h.6M93.9 354.2h.6M101.1 354.6h.6M108.5 354.7h.6M115.3 355.6h.6M121.5 355.0h.6M127.8 355.1h.6M135.7 355.2h.6M142.9 355.7h.6M148.7 355.4h.6M154.9 356.2h.6M162.5 357.6h.6M167.9 357.2h.6M176.1 359.6h.6M182.6 358.8h.6M188.4 361.0h.6M197.1 360.2h.6M201.6 361.6h.6M209.6 366.8h.6M215.3 361.2h.6M222.2 366.3h.6M228.0 360.9h.6M234.4 365.2h.6M242.5 370.9h.6M248.6 377.0h.6M256.7 373.8h.6M262.8 372.1h.6M269.9 371.4h.6M277.8 373.2h.6M281.9 376.5h.6M289.8 379.3h.6M296.2 386.7h.6M303.6 381.2h.6M309.8 383.0h.6M316.0 393.2h.6M322.7 394.1h.6M329.5 391.0h.6M336.0 394.0h.6M343.9 399.8h.6M348.4 398.0h.6M356.8 400.3h.6M363.7 405.9h.6M370.2 411.1h.6M376.3 407.8h.6M384.6 412.2h.6M391.1 417.7h.6M397.7 412.2h.6M403.9 419.2h.6M410.4 426.9h.6M417.0 423.3h.6M424.0 431.8h.6M431.7 440.1h.6M436.5 437.5h.6M444.1 434.9h.6M450.1 446.0h.6M456.3 444.3h.6M465.0 447.6h.6M471.3 447.7h.6M478.0 448.7h.6M483.7 451.8h.6M491.4 453.1h.6M498.0 460.7h.6M503.3 460.9h.6M67.7 353.9h.6M75.8 354.1h.6M82.5 354.6h.6M86.4 354.4h.6M95.0 354.4h.6M100.2 354.8h.6M107.1 354.3h.6M114.5 354.2h.6M120.4 354.5h.6M128.9 354.7h.6M136.2 355.3h.6M140.9 355.0h.6M148.5 354.8h.6M155.4 355.5h.6M161.8 355.2h.6M167.9 356.4h.6M175.4 356.7h.6M181.3 355.4h.6M188.1 358.3h.6M195.1 355.9h.6M202.2 357.7h.6M209.1 357.2h.6M215.3 358.8h.6M222.6 360.1h.6M228.6 359.3h.6M235.8 360.4h.6M241.4 358.0h.6M248.0 358.4h.6M256.2 363.2h.6M262.5 366.1h.6M270.4 365.1h.6M275.8 370.7h.6M283.3 374.6h.6M289.2 365.0h.6M295.7 376.3h.6M303.4 386.4h.6M309.4 379.6h.6M315.6 381.3h.6M323.8 384.7h.6M330.7 389.2h.6M337.4 379.8h.6M343.9 393.2h.6M351.9 392.7h.6M357.1 399.4h.6M363.0 397.5h.6M370.4 402.9h.6M376.1 407.7h.6M383.1 412.9h.6M391.9 412.0h.6M398.0 416.3h.6M403.2 413.8h.6M410.1 420.1h.6M416.2 424.4h.6M425.2 434.2h.6M430.5 426.6h.6M436.6 434.1h.6M445.3 434.3h.6M451.2 439.9h.6M457.4 438.9h.6M463.7 445.6h.6M470.3 442.2h.6M477.5 451.4h.6M484.4 451.3h.6M491.2 452.5h.6M497.7 455.0h.6M504.4 459.5h.6M65.6 354.6h.6M71.9 354.5h.6M77.8 355.5h.6M85.3 354.6h.6M91.9 355.1h.6M97.7 355.3h.6M105.0 355.1h.6M111.1 355.9h.6M118.3 355.6h.6M124.5 355.7h.6M132.6 356.5h.6M139.0 356.1h.6M144.7 357.0h.6M152.0 357.0h.6M160.2 357.1h.6M164.6 359.0h.6M171.9 357.5h.6M179.5 360.7h.6M186.2 362.7h.6M191.9 363.9h.6M197.9 360.1h.6M205.4 363.3h.6M213.2 367.9h.6M218.9 365.6h.6M226.4 369.5h.6M232.7 364.6h.6M239.6 371.4h.6M245.5 375.1h.6M253.4 372.4h.6M260.3 377.5h.6M265.3 377.4h.6M273.5 378.1h.6M280.0 376.6h.6M287.0 382.6h.6M292.6 386.5h.6M299.7 387.1h.6M305.9 391.6h.6M312.4 393.5h.6M318.4 388.1h.6M326.7 395.3h.6M333.0 400.9h.6M339.4 401.1h.6M348.3 400.0h.6M353.7 397.6h.6M360.8 406.7h.6M366.3 410.1h.6M373.4 415.7h.6M380.2 413.8h.6M387.4 416.8h.6M393.1 420.9h.6M399.9 427.0h.6M406.5 428.1h.6M414.4 434.1h.6M420.0 428.3h.6M427.2 436.1h.6M434.4 436.7h.6M441.0 442.2h.6M448.9 439.6h.6M454.7 445.4h.6M461.2 447.5h.6M468.2 445.5h.6M474.8 449.9h.6M481.5 452.4h.6M488.0 453.7h.6M494.9 455.1h.6M501.3 458.1h.6M67.1 354.2h.6M76.2 353.7h.6M82.5 354.1h.6M87.3 353.6h.6M95.6 354.2h.6M102.3 354.2h.6M109.5 354.2h.6M115.3 354.2h.6M121.8 354.3h.6M128.2 354.4h.6M136.1 354.7h.6M141.8 354.5h.6M149.1 354.5h.6M154.3 355.1h.6M162.4 355.4h.6M168.4 355.6h.6M176.3 356.8h.6M183.7 356.8h.6M189.8 356.5h.6M196.1 356.2h.6M203.7 356.1h.6M208.1 356.5h.6M216.0 357.2h.6M223.7 356.3h.6M229.4 358.3h.6M235.3 356.2h.6M242.6 359.8h.6M250.0 358.4h.6M257.0 358.5h.6M263.8 361.1h.6M270.9 361.7h.6M276.5 362.3h.6M283.6 360.5h.6M291.1 358.7h.6M295.5 369.4h.6M305.6 370.8h.6M311.1 374.5h.6M318.8 367.4h.6M323.8 375.2h.6M331.6 376.3h.6M337.3 381.0h.6M344.3 386.6h.6M350.4 383.5h.6M357.3 389.1h.6M364.8 394.3h.6M371.4 392.1h.6M378.7 398.3h.6M383.7 399.5h.6M390.0 401.8h.6M398.6 407.2h.6M406.0 413.1h.6M410.5 413.1h.6M417.5 418.5h.6M423.9 419.4h.6M431.4 419.7h.6M438.7 427.1h.6M444.6 426.5h.6M452.0 426.6h.6M457.1 431.8h.6M463.9 439.2h.6M471.9 439.3h.6M478.9 441.3h.6M484.8 449.9h.6M491.7 450.4h.6M498.8 450.4h.6M506.2 457.3h.6M65.6 355.5h.6M72.8 355.3h.6M78.8 355.2h.6M84.9 355.8h.6M91.6 355.7h.6M98.0 355.6h.6M105.2 356.1h.6M112.9 356.9h.6M118.7 357.2h.6M125.3 357.3h.6M133.2 358.0h.6M139.4 358.0h.6M145.6 358.0h.6M151.4 361.5h.6M159.1 361.8h.6M165.7 362.6h.6M173.1 363.1h.6M179.8 366.6h.6M185.5 364.2h.6M192.7 365.9h.6M198.7 371.8h.6M205.5 372.1h.6M213.7 373.8h.6M219.2 379.9h.6M225.9 375.6h.6M233.6 378.9h.6M240.2 382.1h.6M246.4 382.5h.6M252.8 382.9h.6M259.0 383.8h.6M267.0 384.7h.6M273.5 387.8h.6M280.5 391.6h.6M287.7 392.5h.6M292.9 398.5h.6M299.1 391.8h.6M307.4 397.0h.6M314.3 398.4h.6M320.7 403.8h.6M327.6 406.3h.6M333.1 403.2h.6M340.6 409.7h.6M347.4 413.2h.6M353.6 410.9h.6M361.2 422.9h.6M365.5 416.0h.6M374.2 420.3h.6M381.7 420.6h.6M387.3 429.9h.6M393.5 425.3h.6M401.2 432.9h.6M406.9 436.1h.6M415.1 436.7h.6M421.2 439.2h.6M428.9 442.4h.6M435.0 445.4h.6M440.2 445.0h.6M448.0 447.5h.6M455.3 449.8h.6M462.5 453.6h.6M466.9 455.8h.6M476.1 456.2h.6M481.1 454.8h.6M487.0 459.8h.6M495.3 464.2h.6M501.7 464.4h.6M67.3 354.1h.6M72.5 354.1h.6M79.8 354.1h.6M87.2 354.4h.6M92.9 354.6h.6M99.0 354.6h.6M107.3 354.4h.6M113.4 355.1h.6M119.0 354.5h.6M127.7 354.7h.6M134.1 355.0h.6M139.4 355.6h.6M146.6 355.4h.6M152.4 356.6h.6M159.9 355.4h.6M165.5 355.5h.6M172.3 357.0h.6M181.1 356.7h.6M186.8 355.8h.6M192.5 357.9h.6M199.9 361.7h.6M207.0 358.9h.6M213.2 356.9h.6M220.2 358.1h.6M227.1 358.1h.6M233.1 357.3h.6M241.0 358.7h.6M246.2 359.1h.6M254.1 361.6h.6M259.8 362.9h.6M267.4 366.0h.6M275.1 368.3h.6M280.7 368.3h.6M287.6 369.0h.6M294.9 368.3h.6M299.7 374.6h.6M307.5 378.6h.6M315.2 393.9h.6M322.0 380.9h.6M328.9 385.8h.6M333.4 388.6h.6M341.3 391.0h.6M348.5 385.0h.6M355.2 393.7h.6M361.1 391.5h.6M368.4 404.0h.6M375.5 399.8h.6M382.8 400.3h.6M388.3 406.6h.6M394.5 418.9h.6M400.5 418.3h.6M408.3 421.4h.6M414.2 418.5h.6M421.3 423.9h.6M429.4 422.1h.6M435.9 429.6h.6M441.9 435.8h.6M449.8 438.7h.6M455.2 438.4h.6M462.8 440.5h.6M468.8 442.3h.6M476.2 441.8h.6M483.4 449.2h.6M488.4 451.2h.6M496.2 454.4h.6M502.4 459.4h.6M67.7 354.8h.6M75.0 354.2h.6M81.2 354.7h.6M88.1 355.0h.6M95.4 355.4h.6M102.0 355.2h.6M109.3 355.8h.6M114.4 356.8h.6M122.4 356.0h.6M129.0 355.6h.6M136.5 356.0h.6M142.7 355.8h.6M150.0 357.2h.6M155.0 358.0h.6M162.0 358.5h.6M168.6 360.8h.6M177.3 359.6h.6M181.6 361.6h.6M188.9 363.3h.6M196.9 364.9h.6M201.9 365.9h.6M208.1 368.4h.6M217.0 369.1h.6M223.1 373.8h.6M229.1 375.5h.6M235.8 370.4h.6M243.3 377.1h.6M249.7 377.3h.6M256.3 377.2h.6M263.7 383.2h.6M269.3 381.6h.6M277.0 383.8h.6M283.1 387.6h.6M290.5 383.5h.6M296.6 387.7h.6M305.0 391.8h.6M309.7 390.3h.6M316.7 397.2h.6M323.7 394.9h.6M330.5 400.8h.6M337.2 402.3h.6M345.5 405.1h.6M350.7 408.6h.6M356.7 409.6h.6M363.4 415.6h.6M370.6 415.2h.6M379.3 419.9h.6M384.6 421.8h.6M389.9 427.1h.6M398.4 427.9h.6M404.6 426.9h.6M411.7 437.4h.6M416.9 437.2h.6M423.8 437.2h.6M432.6 442.3h.6M438.1 440.3h.6M445.1 447.1h.6M451.6 446.3h.6M459.1 451.0h.6M464.5 451.3h.6M470.9 450.3h.6M478.0 454.7h.6M485.8 455.3h.6M491.7 457.3h.6M499.0 461.7h.6M504.0 463.6h.6M64.0 355.2h.6M70.4 355.8h.6M77.1 355.5h.6M82.7 355.8h.6M90.1 355.6h.6M98.2 355.8h.6M104.0 356.2h.6M109.9 356.8h.6M117.6 356.9h.6M124.5 357.6h.6M132.3 357.6h.6M138.7 357.5h.6M144.5 357.4h.6M151.0 357.7h.6M156.4 361.7h.6M162.9 360.8h.6M170.9 362.2h.6M177.5 363.5h.6M184.1 364.9h.6M190.9 365.1h.6M197.6 363.9h.6M205.6 365.4h.6M211.9 369.6h.6M218.6 367.5h.6M225.7 376.9h.6M231.2 376.7h.6M238.8 381.1h.6M244.6 381.3h.6M251.4 382.0h.6M258.6 380.1h.6M265.3 383.9h.6M271.6 388.9h.6M278.9 390.3h.6M285.6 390.7h.6M291.6 392.3h.6M297.9 392.5h.6M306.7 396.4h.6M311.4 397.3h.6M318.6 403.1h.6M324.9 404.7h.6M331.5 403.9h.6M339.6 405.7h.6M346.1 411.4h.6M352.4 413.9h.6M360.5 419.4h.6M366.0 414.5h.6M373.2 415.4h.6M379.7 429.0h.6M387.2 429.3h.6M392.9 428.1h.6M400.3 431.2h.6M406.7 434.2h.6M411.3 435.8h.6M421.2 436.8h.6M426.9 444.0h.6M433.1 441.9h.6M439.9 443.1h.6M446.2 450.2h.6M453.4 450.7h.6M460.2 453.7h.6M467.3 453.7h.6M473.8 456.1h.6M480.5 457.0h.6M487.0 459.4h.6M493.0 463.7h.6M500.8 463.3h.6M66.6 353.9h.6M72.9 354.3h.6M81.0 354.7h.6M87.2 354.5h.6M94.1 354.0h.6M101.4 354.2h.6M108.3 354.9h.6M114.3 355.0h.6M120.6 354.2h.6M126.5 354.3h.6M134.3 355.1h.6M141.4 355.7h.6M149.8 355.3h.6M155.0 354.9h.6M161.3 356.5h.6M168.0 357.4h.6M175.0 355.8h.6M180.4 356.8h.6M188.8 357.9h.6M195.7 358.0h.6M201.6 360.6h.6M208.2 359.3h.6M215.1 360.3h.6M221.2 360.0h.6M228.4 357.9h.6M234.3 367.6h.6M242.5 360.3h.6M248.8 363.1h.6M254.1 368.8h.6M261.8 367.8h.6M269.0 365.7h.6M277.7 361.0h.6M281.9 368.6h.6M290.3 376.3h.6M295.5 371.1h.6M303.4 370.3h.6M309.4 382.4h.6M315.9 389.0h.6M321.8 385.5h.6M328.8 387.4h.6M336.6 379.8h.6M344.1 386.4h.6M349.5 384.7h.6M356.1 398.1h.6M362.3 399.4h.6M370.3 393.5h.6M376.5 406.1h.6M384.1 410.1h.6M390.4 406.4h.6M396.8 409.8h.6M403.2 418.1h.6M409.1 410.6h.6M416.7 420.6h.6M425.0 425.8h.6M430.4 426.4h.6M436.6 428.4h.6M444.5 432.3h.6M450.5 436.0h.6M456.5 439.4h.6M464.8 444.2h.6M471.6 438.9h.6M476.2 443.7h.6M483.9 449.6h.6M491.5 453.3h.6M498.4 450.9h.6M504.9 460.6h.6M63.1 354.8h.6M69.6 355.4h.6M78.9 355.5h.6M84.3 355.6h.6M90.4 355.7h.6M97.5 355.8h.6M104.3 355.8h.6M111.8 356.2h.6M118.8 357.6h.6M126.0 357.3h.6M131.0 357.6h.6M138.0 357.8h.6M144.5 357.8h.6M152.3 360.6h.6M159.2 362.2h.6M163.3 360.8h.6M171.6 361.9h.6M178.2 365.5h.6M185.8 366.0h.6M192.4 366.0h.6M198.0 372.5h.6M204.7 370.8h.6M211.8 370.8h.6M218.3 374.7h.6M225.2 380.8h.6M231.6 382.2h.6M238.7 380.4h.6M245.7 381.7h.6M252.4 384.0h.6M259.3 383.9h.6M265.7 385.8h.6M271.8 387.5h.6M279.0 389.8h.6M283.8 391.5h.6M292.5 397.1h.6M299.5 398.5h.6M306.5 400.1h.6M312.4 403.4h.6M319.2 404.2h.6M326.5 405.3h.6M332.8 410.9h.6M338.6 412.8h.6M346.7 413.2h.6M352.2 415.8h.6M359.1 419.4h.6M368.1 423.9h.6M373.6 421.9h.6M380.4 423.5h.6M386.5 432.1h.6M393.9 432.4h.6M400.3 433.8h.6M407.7 438.2h.6M413.1 440.0h.6M419.8 444.2h.6M427.2 445.1h.6M433.9 446.3h.6M441.3 450.6h.6M448.0 454.1h.6M455.0 454.6h.6M460.1 454.0h.6M467.2 456.4h.6M475.3 456.2h.6M480.3 457.1h.6M487.1 457.3h.6M493.4 462.9h.6M500.7 465.1h.6M65.1 354.0h.6M73.0 354.4h.6M79.2 354.1h.6M86.2 354.9h.6M92.4 354.8h.6M99.1 354.8h.6M105.8 354.6h.6M113.2 354.7h.6M119.0 355.3h.6M125.9 355.3h.6M133.1 356.0h.6M140.4 356.0h.6M146.7 356.0h.6M153.3 356.0h.6M159.0 357.2h.6M165.5 358.3h.6M173.4 357.4h.6M180.8 357.8h.6M185.4 359.8h.6M193.4 361.4h.6M200.2 360.1h.6M206.9 363.3h.6M212.9 368.4h.6M219.6 359.7h.6M227.0 366.7h.6M233.8 368.0h.6M240.7 369.5h.6M246.9 371.2h.6M253.9 374.3h.6M260.3 373.7h.6M267.2 374.4h.6M274.6 381.0h.6M280.8 386.5h.6M287.7 382.4h.6M294.1 388.3h.6M300.3 392.1h.6M307.0 386.6h.6M314.5 390.5h.6M320.8 391.4h.6M328.5 395.1h.6M334.5 401.5h.6M341.3 397.6h.6M347.0 407.4h.6M354.6 412.4h.6M361.8 406.7h.6M367.2 413.7h.6M373.7 418.5h.6M382.2 414.7h.6M388.6 413.3h.6M394.8 423.7h.6M401.7 422.9h.6M407.9 429.2h.6M414.9 429.1h.6M422.3 433.1h.6M429.2 434.7h.6M436.8 440.2h.6M442.5 444.1h.6M449.1 445.2h.6M454.9 447.6h.6M462.6 446.0h.6M469.4 453.1h.6M475.7 454.3h.6M482.7 455.8h.6M488.3 455.9h.6M495.5 457.9h.6M502.7 462.7h.6M63.9 355.2h.6M70.8 355.0h.6M76.7 355.4h.6M84.9 355.5h.6M91.8 355.6h.6M97.1 355.7h.6M104.0 355.9h.6M111.5 356.6h.6M118.0 356.3h.6M124.4 357.4h.6M131.2 356.9h.6M137.4 357.3h.6M143.6 357.4h.6M152.6 359.1h.6M159.1 358.2h.6M164.3 360.9h.6M172.0 360.7h.6M178.6 363.4h.6M186.3 363.5h.6M193.4 365.7h.6M199.8 370.1h.6M205.3 372.5h.6M212.9 368.4h.6M218.6 371.5h.6M225.1 372.9h.6M233.7 374.2h.6M238.4 378.2h.6M246.9 376.4h.6M252.2 383.9h.6M258.7 379.7h.6M267.3 384.0h.6M271.4 382.3h.6M279.4 385.1h.6M286.4 387.1h.6M292.4 395.0h.6M298.7 396.9h.6M305.4 397.1h.6M314.3 397.1h.6M318.5 400.0h.6M325.5 403.7h.6M332.6 400.7h.6M339.2 406.7h.6M346.8 401.7h.6M352.5 408.2h.6M360.0 412.3h.6M366.5 416.3h.6M372.8 423.3h.6M380.1 418.8h.6M385.9 427.3h.6M393.1 428.2h.6M401.1 429.9h.6M407.6 434.3h.6M413.0 433.3h.6M419.3 439.2h.6M428.3 444.1h.6M434.4 442.4h.6M439.7 446.4h.6M448.1 450.4h.6M454.3 446.0h.6M461.5 452.8h.6M468.2 453.6h.6M474.1 454.2h.6M481.7 455.5h.6M487.2 455.9h.6M495.6 463.2h.6M501.5 462.7h.6M65.4 354.6h.6M71.3 355.4h.6M77.9 355.0h.6M83.9 355.3h.6M91.2 355.6h.6M96.9 355.2h.6M104.7 355.7h.6M112.2 355.8h.6M119.9 355.5h.6M125.6 356.1h.6M133.1 356.6h.6M137.9 357.0h.6M145.1 356.8h.6M152.3 357.2h.6M158.6 358.8h.6M166.1 361.0h.6M173.3 361.4h.6M178.9 360.9h.6M185.7 363.4h.6M192.6 362.8h.6M198.7 367.1h.6M206.8 364.4h.6M213.0 370.0h.6M220.2 372.3h.6M225.7 371.2h.6M233.8 372.8h.6M239.2 376.5h.6M246.2 371.2h.6M253.3 375.8h.6M260.6 373.9h.6M267.6 382.5h.6M273.3 380.1h.6M279.3 384.2h.6M288.1 381.4h.6M293.5 388.9h.6M299.4 395.9h.6M305.8 395.5h.6M313.0 400.1h.6M318.6 387.8h.6M327.0 391.4h.6M333.4 407.5h.6M341.6 407.7h.6M347.3 403.4h.6M353.3 412.6h.6M359.0 413.7h.6M365.9 417.2h.6M373.6 420.0h.6M380.8 424.6h.6M386.3 426.4h.6M394.0 428.0h.6M399.6 430.4h.6M408.8 434.2h.6M414.1 434.9h.6M420.3 436.5h.6M427.6 439.2h.6M433.7 442.6h.6M440.8 445.1h.6M448.2 446.9h.6M454.2 449.0h.6M460.5 453.6h.6M468.7 455.5h.6M474.9 454.8h.6M481.0 455.0h.6M489.5 463.5h.6M495.4 460.8h.6M502.8 464.8h.6M65.5 354.8h.6M70.0 355.4h.6M79.5 355.3h.6M86.2 355.0h.6M92.2 355.2h.6M98.0 355.0h.6M105.8 355.2h.6M112.6 356.0h.6M119.2 356.6h.6M125.4 357.7h.6M131.3 356.8h.6M137.9 356.8h.6M146.9 357.2h.6M152.2 356.7h.6M160.2 360.7h.6M165.5 361.5h.6M171.6 360.6h.6M180.0 362.6h.6M186.4 365.2h.6M193.7 364.5h.6M199.7 365.0h.6M205.3 366.2h.6M213.9 372.1h.6M219.2 370.9h.6M226.4 371.3h.6M233.2 376.5h.6M240.1 380.8h.6M247.4 374.7h.6M254.2 373.0h.6M259.9 383.2h.6M267.3 381.9h.6M274.4 387.5h.6M280.4 388.4h.6M286.6 383.0h.6M293.4 384.8h.6M301.1 397.3h.6M307.7 393.5h.6M314.1 399.0h.6M320.5 395.9h.6M326.1 403.0h.6M333.2 400.8h.6M339.9 402.2h.6M345.7 410.9h.6M354.1 412.3h.6M361.9 414.4h.6M367.6 420.8h.6M374.6 416.2h.6M381.7 426.6h.6M387.3 430.0h.6M395.5 429.9h.6M401.6 429.9h.6M407.9 431.3h.6M413.1 436.2h.6M422.4 435.5h.6M428.7 442.0h.6M435.0 443.1h.6M439.5 445.0h.6M448.7 448.6h.6M454.0 448.8h.6M461.1 452.1h.6M468.1 453.8h.6M475.2 452.9h.6M480.9 457.1h.6M489.1 459.2h.6M496.0 463.0h.6M501.8 464.3h.6M67.6 353.5h.6M74.2 353.7h.6M82.3 353.9h.6M89.5 353.7h.6M95.7 353.9h.6M101.5 354.4h.6M108.3 354.5h.6M115.7 354.3h.6M120.5 354.1h.6M128.7 354.1h.6M136.2 354.6h.6M140.9 354.4h.6M149.7 354.2h.6M155.7 354.6h.6M162.4 354.7h.6M169.0 355.1h.6M175.3 355.7h.6M181.9 355.6h.6M188.4 355.5h.6M195.0 356.2h.6M202.1 355.5h.6M209.6 355.5h.6M214.9 355.3h.6M222.9 356.2h.6M230.0 356.6h.6M235.9 357.2h.6M242.1 355.4h.6M249.4 356.6h.6M255.2 357.8h.6M261.5 358.3h.6M270.3 357.2h.6M275.1 359.0h.6M282.7 359.0h.6M289.2 361.6h.6M296.5 359.4h.6M303.7 371.0h.6M309.6 365.5h.6M316.5 374.8h.6M323.7 372.8h.6M330.2 377.4h.6M337.0 376.0h.6M344.1 375.7h.6M350.0 386.5h.6M358.4 383.6h.6M364.4 391.1h.6M370.7 392.4h.6M375.1 394.6h.6M383.1 396.5h.6M391.1 404.7h.6M395.7 403.5h.6M403.9 412.9h.6M411.0 409.5h.6M418.2 417.9h.6M424.6 412.6h.6M430.3 416.4h.6M437.6 427.1h.6M442.6 429.4h.6M450.8 427.8h.6M457.3 438.3h.6M464.4 436.6h.6M470.3 438.6h.6M476.6 442.0h.6M484.2 449.2h.6M491.6 449.3h.6M498.4 451.5h.6M503.9 450.5h.6M68.5 354.1h.6M74.7 354.4h.6M84.0 354.2h.6M89.5 354.1h.6M96.0 354.6h.6M102.4 354.4h.6M109.9 354.6h.6M115.8 355.1h.6M123.5 354.6h.6M130.7 354.7h.6M136.1 354.5h.6M142.8 354.9h.6M149.5 355.0h.6M156.3 355.3h.6M162.8 355.8h.6M168.8 355.6h.6M176.7 355.9h.6M183.6 358.8h.6M190.2 356.9h.6M196.1 358.3h.6M202.9 357.7h.6M209.6 357.6h.6M216.3 356.9h.6M223.7 358.8h.6M229.9 359.4h.6M237.3 361.7h.6M243.9 360.1h.6M250.8 366.2h.6M256.3 365.9h.6M263.4 359.1h.6M269.7 361.1h.6M278.3 364.4h.6M284.1 367.2h.6M290.8 371.2h.6M297.2 373.2h.6M304.2 373.9h.6M310.9 384.3h.6M317.5 374.3h.6M323.3 378.9h.6M330.5 380.6h.6M338.3 386.9h.6M345.1 390.4h.6M351.1 391.0h.6M357.7 396.3h.6M364.7 397.3h.6M371.3 405.7h.6M378.6 402.5h.6M383.4 404.4h.6M390.7 412.0h.6M399.1 414.3h.6M405.0 417.7h.6M413.3 419.5h.6M417.8 416.9h.6M426.0 423.8h.6M432.1 424.1h.6M439.9 432.6h.6M446.7 433.4h.6M451.9 435.6h.6M458.5 437.7h.6M465.4 442.6h.6M474.2 442.0h.6M479.0 441.0h.6M484.6 450.7h.6M491.5 452.9h.6M499.6 454.3h.6M506.0 458.6h.6M66.9 354.1h.6M74.6 354.0h.6M81.2 355.0h.6M87.7 355.2h.6M96.2 354.9h.6M100.9 354.7h.6M108.6 355.2h.6M113.9 355.1h.6M120.9 355.4h.6M128.0 355.1h.6M135.7 355.9h.6M141.3 355.7h.6M146.8 355.9h.6M152.9 356.5h.6M162.4 357.0h.6M167.8 358.4h.6M176.0 359.2h.6M181.4 358.9h.6M187.2 359.5h.6M194.2 362.0h.6M202.6 359.3h.6M207.6 363.0h.6M215.5 363.2h.6M222.5 360.8h.6M227.5 363.6h.6M236.2 371.1h.6M242.8 370.1h.6M249.1 365.6h.6M256.0 369.2h.6M262.6 370.6h.6M268.7 370.5h.6M276.1 371.3h.6M282.8 375.7h.6M289.9 377.9h.6M295.6 388.1h.6M303.1 391.8h.6M309.8 387.4h.6M315.9 387.6h.6M323.2 384.6h.6M329.3 390.2h.6M336.5 393.2h.6M343.2 399.7h.6M348.1 406.7h.6M356.6 401.6h.6M364.1 412.9h.6M370.0 411.0h.6M376.6 414.4h.6M383.9 415.7h.6M389.3 408.7h.6M396.2 418.4h.6M402.6 422.8h.6M409.4 427.9h.6M417.2 426.1h.6M424.0 430.5h.6M430.6 430.2h.6M437.6 436.8h.6M443.1 437.3h.6M450.2 444.0h.6M456.2 442.0h.6M463.2 443.9h.6M469.3 447.9h.6M477.8 452.9h.6M484.2 453.2h.6M490.1 454.4h.6M497.2 459.5h.6M503.2 460.9h.6M67.8 354.0h.6M76.1 354.4h.6M83.3 354.5h.6M90.1 353.9h.6M94.8 354.6h.6M102.4 354.7h.6M108.4 354.5h.6M115.4 355.0h.6M123.3 354.9h.6M129.1 356.4h.6M136.9 355.4h.6M141.6 355.6h.6M148.1 356.3h.6M156.0 355.6h.6M163.2 357.3h.6M170.6 357.0h.6M175.9 358.2h.6M183.4 356.6h.6M191.0 359.5h.6M195.1 357.5h.6M202.9 360.1h.6M209.3 361.4h.6M215.7 362.0h.6M222.7 364.4h.6M229.8 358.7h.6M238.9 368.9h.6M242.9 362.8h.6M250.3 364.8h.6M257.4 369.8h.6M265.4 374.9h.6M269.7 366.5h.6M277.0 371.3h.6M283.2 373.1h.6M291.2 381.6h.6M297.4 380.2h.6M304.0 390.1h.6M311.6 386.0h.6M317.8 382.1h.6M324.0 384.7h.6M330.9 388.2h.6M336.9 390.2h.6M344.3 390.4h.6M351.7 397.5h.6M356.4 402.5h.6M363.2 401.2h.6M371.3 411.0h.6M378.6 413.3h.6M384.5 414.1h.6M391.4 421.3h.6M398.2 422.7h.6M405.4 416.5h.6M410.6 424.3h.6M419.4 428.5h.6M425.2 424.3h.6M430.6 426.3h.6M438.9 435.2h.6M445.1 434.5h.6M453.3 440.6h.6M458.2 440.4h.6M464.2 446.6h.6M470.7 444.1h.6M478.5 447.9h.6M487.3 452.3h.6M492.5 454.0h.6M498.5 454.1h.6M504.1 460.8h.6M63.6 354.1h.6M71.3 354.1h.6M77.9 354.1h.6M84.7 354.3h.6M91.1 354.4h.6M99.0 354.4h.6M105.0 354.8h.6M111.6 354.6h.6M118.4 355.1h.6M125.1 354.8h.6M131.9 355.7h.6M138.2 355.2h.6M144.9 355.9h.6M152.3 355.9h.6M157.8 356.6h.6M163.6 358.4h.6M171.1 357.5h.6M178.9 357.4h.6M184.9 357.6h.6M192.0 358.3h.6M199.6 360.8h.6M205.8 364.0h.6M212.4 365.8h.6M219.4 362.2h.6M225.7 363.6h.6M232.1 368.1h.6M238.9 367.7h.6M246.1 359.6h.6M251.9 365.7h.6M259.0 368.3h.6M265.3 368.2h.6M272.3 372.1h.6M278.1 376.0h.6M284.7 369.7h.6M293.5 382.6h.6M298.6 380.6h.6M306.7 386.7h.6M313.4 392.6h.6M320.3 384.9h.6M326.0 380.6h.6M333.2 388.4h.6M339.4 391.6h.6M347.2 392.2h.6M353.4 396.1h.6M360.6 395.7h.6M366.8 404.1h.6M372.8 410.5h.6M379.4 410.1h.6M386.0 406.5h.6M393.6 413.0h.6M400.9 417.4h.6M406.6 414.5h.6M414.0 420.9h.6M421.1 421.3h.6M426.8 432.3h.6M434.7 433.6h.6M441.0 433.9h.6M447.1 430.0h.6M453.6 440.0h.6M460.9 439.2h.6M467.3 445.2h.6M474.8 449.0h.6M479.6 450.8h.6M488.5 451.4h.6M495.4 451.6h.6M500.2 457.5h.6M62.1 353.5h.6M70.7 354.3h.6M76.6 354.1h.6M82.8 354.3h.6M90.3 354.2h.6M97.3 354.4h.6M102.5 354.4h.6M110.0 354.7h.6M116.3 354.7h.6M123.4 354.7h.6M130.8 356.3h.6M137.0 355.1h.6M143.6 355.1h.6M151.7 356.0h.6M157.4 354.9h.6M164.0 356.7h.6M170.5 355.7h.6M177.3 355.9h.6M183.4 355.7h.6M190.0 358.8h.6M197.2 358.0h.6M204.5 356.8h.6M210.7 358.6h.6M216.6 361.9h.6M225.7 359.1h.6M231.0 362.1h.6M238.6 359.9h.6M244.5 362.5h.6M250.6 372.1h.6M257.2 366.2h.6M264.4 365.2h.6M270.0 373.8h.6M279.4 363.5h.6M284.4 372.3h.6M291.1 379.4h.6M297.3 370.5h.6M305.2 384.1h.6M311.9 392.2h.6M319.9 392.2h.6M325.1 382.4h.6M332.7 392.6h.6M339.1 389.8h.6M344.5 391.5h.6M352.6 403.4h.6M358.2 399.1h.6M366.0 402.6h.6M372.4 406.9h.6M378.8 404.8h.6M385.3 406.5h.6M393.3 414.2h.6M398.3 418.5h.6M405.6 420.1h.6M413.2 430.2h.6M419.2 429.4h.6M427.6 429.6h.6M431.5 432.3h.6M439.1 441.8h.6M445.9 443.7h.6M451.7 443.9h.6M460.4 442.2h.6M466.9 444.2h.6M471.7 447.1h.6M480.1 451.5h.6M485.7 453.0h.6M493.4 455.1h.6M499.7 452.7h.6M68.9 354.0h.6M73.4 353.7h.6M81.5 353.8h.6M89.2 354.1h.6M95.3 354.0h.6M101.1 354.1h.6M108.4 354.4h.6M114.9 354.3h.6M121.1 354.4h.6M127.9 354.8h.6M135.0 354.7h.6M141.2 354.5h.6M148.3 354.4h.6M155.1 354.6h.6M162.5 354.8h.6M169.1 355.0h.6M176.5 355.4h.6M182.4 358.8h.6M189.6 356.2h.6M195.7 355.6h.6M202.7 358.0h.6M208.3 358.5h.6M215.7 357.1h.6M222.5 358.3h.6M228.2 358.8h.6M234.9 358.6h.6M241.9 358.3h.6M250.0 364.5h.6M255.9 365.0h.6M262.0 361.1h.6M268.0 365.9h.6M278.3 363.8h.6M282.8 363.2h.6M289.4 371.6h.6M295.1 372.1h.6M303.7 376.0h.6M309.9 378.5h.6M316.5 382.7h.6M323.4 384.9h.6M330.1 382.1h.6M337.5 387.5h.6M345.4 392.8h.6M350.1 387.2h.6M356.8 396.0h.6M364.0 394.6h.6M370.9 403.0h.6M377.8 409.2h.6M384.2 409.6h.6M390.1 410.3h.6M398.0 414.5h.6M403.1 411.4h.6M410.4 422.6h.6M417.5 418.5h.6M425.2 418.4h.6M430.6 426.3h.6M437.3 429.2h.6M443.7 435.1h.6M450.1 435.4h.6M457.6 437.3h.6M463.9 440.0h.6M471.1 440.5h.6M478.3 441.7h.6M485.4 450.6h.6M491.0 454.5h.6M497.8 452.2h.6M504.6 458.2h.6M68.3 354.2h.6M74.7 354.4h.6M80.8 354.8h.6M88.3 354.9h.6M95.3 354.9h.6M101.5 354.8h.6M109.5 355.1h.6M114.7 355.4h.6M122.0 356.0h.6M129.2 356.6h.6M135.3 357.1h.6M143.1 355.4h.6M149.3 357.1h.6M155.7 357.7h.6M161.2 359.3h.6M168.7 357.9h.6M175.3 359.6h.6M182.3 362.3h.6M189.1 363.4h.6M195.7 364.1h.6M202.3 364.2h.6M209.0 362.2h.6M215.2 365.1h.6M222.2 361.6h.6M228.7 367.8h.6M236.1 365.8h.6M242.0 370.7h.6M251.0 373.3h.6M257.2 376.8h.6M263.2 379.5h.6M269.3 380.2h.6M276.7 382.4h.6M282.9 383.6h.6M290.3 390.8h.6M296.8 386.9h.6M303.3 388.7h.6M308.6 388.3h.6M316.0 393.8h.6M324.0 398.9h.6M329.8 403.0h.6M336.5 399.0h.6M344.7 405.7h.6M351.2 403.8h.6M356.9 410.6h.6M361.3 405.5h.6M370.5 416.3h.6M377.9 419.4h.6M382.9 412.0h.6M391.8 420.9h.6M397.4 420.4h.6M405.4 427.1h.6M411.3 430.0h.6M417.4 430.6h.6M423.6 434.2h.6M431.2 435.9h.6M437.4 439.6h.6M443.7 440.1h.6M451.7 446.0h.6M457.8 443.0h.6M465.8 450.3h.6M471.7 449.1h.6M478.0 451.7h.6M484.4 454.1h.6M492.7 457.0h.6M498.2 461.3h.6M504.7 460.5h.6M64.1 354.1h.6M72.7 354.1h.6M79.3 354.2h.6M87.2 354.5h.6M92.1 354.6h.6M98.6 354.7h.6M106.6 355.1h.6M112.3 355.3h.6M119.8 354.6h.6M126.4 355.0h.6M131.8 354.7h.6M138.9 354.9h.6M145.8 356.1h.6M154.3 355.7h.6M160.3 357.1h.6M167.0 358.1h.6M172.2 357.2h.6M180.2 356.6h.6M184.0 358.3h.6M193.3 358.5h.6M200.1 358.4h.6M207.8 363.2h.6M213.7 361.3h.6M219.4 359.6h.6M227.2 364.9h.6M232.8 359.0h.6M240.2 367.8h.6M246.9 364.7h.6M255.9 373.2h.6M260.0 369.9h.6M267.3 365.0h.6M274.0 370.9h.6M282.1 376.4h.6M286.5 374.5h.6M295.5 379.9h.6M301.4 385.0h.6M307.4 378.9h.6M314.0 384.9h.6M322.3 384.6h.6M326.1 390.7h.6M333.2 395.7h.6M339.8 393.3h.6M347.6 392.5h.6M354.5 398.0h.6M360.6 400.7h.6M368.6 408.4h.6M374.9 412.0h.6M381.8 414.7h.6M388.2 418.2h.6M394.8 415.3h.6M401.1 417.4h.6M409.4 418.8h.6M414.8 429.3h.6M423.0 429.8h.6M428.0 428.6h.6M435.1 438.2h.6M442.1 437.2h.6M448.0 439.3h.6M455.4 440.4h.6M461.2 445.2h.6M468.3 448.1h.6M477.3 450.8h.6M482.8 451.9h.6M488.5 453.7h.6M496.4 457.0h.6M503.3 459.8h.6M68.2 354.3h.6M76.2 354.6h.6M82.9 355.3h.6M89.0 355.1h.6M94.5 355.3h.6M102.0 355.3h.6M109.0 355.8h.6M115.7 355.6h.6M122.6 355.7h.6M129.5 356.1h.6M135.6 356.5h.6M143.5 356.4h.6M149.2 356.3h.6M156.7 359.8h.6M162.7 360.4h.6M170.3 358.5h.6M176.8 361.5h.6M183.1 358.5h.6M190.9 363.1h.6M197.0 366.9h.6M204.3 369.7h.6M209.2 368.5h.6M216.7 370.2h.6M222.7 370.9h.6M231.2 377.0h.6M237.2 372.4h.6M243.2 367.4h.6M251.3 380.3h.6M257.0 378.5h.6M263.7 379.6h.6M270.2 383.8h.6M278.3 385.8h.6M283.9 380.4h.6M291.4 388.3h.6M296.4 387.7h.6M304.1 391.4h.6M310.0 397.4h.6M318.3 396.9h.6M324.5 396.9h.6M330.5 401.7h.6M337.8 403.5h.6M345.1 406.6h.6M351.5 410.9h.6M357.3 411.7h.6M364.7 413.3h.6M372.3 417.6h.6M377.0 417.3h.6M383.5 427.7h.6M391.4 427.9h.6M397.3 422.6h.6M403.8 430.9h.6M411.8 437.1h.6M418.5 431.2h.6M426.1 438.3h.6M432.3 445.4h.6M439.1 444.6h.6M445.3 447.4h.6M453.3 446.7h.6M458.2 452.8h.6M465.1 452.8h.6M473.3 454.8h.6M479.2 453.8h.6M485.1 455.5h.6M492.0 457.7h.6M498.9 463.3h.6M504.9 462.6h.6M68.4 354.8h.6M75.6 354.8h.6M82.8 355.4h.6M88.7 355.3h.6M96.0 354.7h.6M100.9 355.0h.6M108.3 355.5h.6M115.9 355.9h.6M121.8 356.9h.6M128.5 356.6h.6M134.6 356.5h.6M141.4 356.3h.6M148.4 357.2h.6M155.9 357.4h.6M162.2 358.0h.6M167.6 360.3h.6M174.4 359.0h.6M182.9 360.4h.6M188.4 361.8h.6M194.9 358.6h.6M202.1 369.0h.6M208.7 368.3h.6M216.0 369.9h.6M222.7 366.4h.6M229.3 368.6h.6M235.9 373.3h.6M242.2 371.9h.6M249.0 373.7h.6M255.7 372.2h.6M263.1 372.3h.6M269.3 380.7h.6M275.8 380.3h.6M283.4 380.8h.6M289.3 380.1h.6M296.8 393.1h.6M303.9 387.5h.6M309.5 381.7h.6M316.4 394.3h.6M323.3 385.4h.6M330.1 401.5h.6M335.0 396.6h.6M343.4 401.8h.6M350.1 403.5h.6M358.0 405.9h.6M362.7 404.6h.6M371.2 414.0h.6M377.1 416.0h.6M383.7 414.1h.6M390.7 422.9h.6M397.3 424.6h.6M402.9 421.8h.6M411.0 428.0h.6M418.2 425.0h.6M423.5 423.0h.6M431.4 438.6h.6M437.9 438.8h.6M444.8 444.4h.6M451.3 444.2h.6M457.8 447.4h.6M465.5 449.5h.6M471.0 451.5h.6M477.0 453.3h.6M485.1 452.5h.6M490.1 456.3h.6M498.2 455.1h.6M504.8 461.9h.6M70.6 355.0h.6M76.6 355.1h.6M82.5 354.9h.6M90.2 354.9h.6M97.5 355.1h.6M101.9 355.6h.6M108.6 355.4h.6M116.3 355.3h.6M123.3 356.2h.6M128.8 355.5h.6M137.2 356.9h.6M143.6 356.3h.6M151.6 357.4h.6M156.8 358.2h.6M163.7 359.0h.6M170.8 359.3h.6M176.8 361.0h.6M182.8 361.8h.6M190.0 360.2h.6M196.2 362.6h.6M202.8 363.8h.6M210.2 363.7h.6M217.3 367.5h.6M224.3 371.8h.6M231.5 374.0h.6M236.9 369.7h.6M243.3 361.9h.6M251.6 376.8h.6M257.6 377.8h.6M264.2 376.7h.6M270.0 378.6h.6M277.2 378.7h.6M284.8 379.4h.6M290.2 387.7h.6M298.9 392.3h.6M304.0 391.3h.6M312.3 389.2h.6M316.5 388.2h.6M323.4 398.6h.6M331.3 401.2h.6M337.6 405.7h.6M344.3 403.9h.6M352.2 405.5h.6M358.5 408.2h.6M364.1 416.7h.6M372.4 421.2h.6M379.2 416.4h.6M385.8 421.1h.6M391.8 423.5h.6M398.2 429.0h.6M405.3 427.2h.6M412.5 435.1h.6M417.9 435.7h.6M424.3 437.8h.6M432.2 442.8h.6M439.1 440.8h.6M445.8 443.5h.6M451.9 450.6h.6M458.3 449.3h.6M466.2 450.0h.6M472.4 452.8h.6M479.7 453.7h.6M486.3 456.5h.6M491.7 458.6h.6M498.7 463.5h.6M505.7 464.3h.6M66.3 354.7h.6M72.8 355.1h.6M80.3 355.3h.6M86.4 355.4h.6M93.5 355.1h.6M100.2 355.4h.6M106.9 355.1h.6M113.5 356.6h.6M120.2 355.9h.6M126.7 357.0h.6M132.7 356.8h.6M140.8 357.1h.6M146.0 357.5h.6M154.1 359.4h.6M160.2 359.8h.6M168.2 360.6h.6M174.4 359.7h.6M180.3 362.5h.6M187.0 361.1h.6M194.4 361.9h.6M200.0 365.1h.6M208.4 366.6h.6M215.3 365.5h.6M221.3 366.3h.6M227.2 368.1h.6M234.9 371.8h.6M240.8 372.8h.6M246.5 380.7h.6M253.7 373.8h.6M262.2 379.0h.6M267.8 384.3h.6M274.4 384.8h.6M282.1 386.6h.6M288.4 392.5h.6M294.6 394.5h.6M302.0 395.7h.6M308.0 392.4h.6M314.5 398.4h.6M321.2 400.3h.6M329.5 398.9h.6M334.9 405.5h.6M343.3 406.7h.6M347.6 405.5h.6M354.9 410.1h.6M362.6 415.5h.6M367.2 417.2h.6M375.2 420.1h.6M382.4 417.8h.6M390.6 427.0h.6M395.8 428.3h.6M402.6 424.7h.6M409.5 435.5h.6M415.8 435.2h.6M422.1 439.6h.6M429.3 441.8h.6M435.6 442.8h.6M442.7 441.5h.6M448.3 447.4h.6M456.7 448.4h.6M462.8 451.0h.6M469.0 452.8h.6M476.3 454.2h.6M483.8 456.6h.6M488.4 458.8h.6M496.8 462.8h.6M502.7 462.5h.6M65.9 354.8h.6M73.9 354.2h.6M79.5 354.9h.6M86.9 354.6h.6M93.0 355.6h.6M100.0 354.9h.6M106.2 354.7h.6M113.7 354.8h.6M119.7 355.5h.6M126.6 355.3h.6M133.8 355.7h.6M140.0 356.5h.6M147.7 356.3h.6M153.5 357.1h.6M158.9 357.9h.6M168.2 357.8h.6M173.7 357.6h.6M181.3 359.1h.6M187.5 359.4h.6M194.2 362.5h.6M201.3 363.6h.6M207.7 363.7h.6M213.8 365.5h.6M221.3 365.2h.6M227.1 365.9h.6M234.9 371.3h.6M240.8 364.0h.6M247.8 372.5h.6M254.1 377.2h.6M262.0 372.3h.6M267.8 376.9h.6M274.3 378.3h.6M281.5 378.8h.6M287.9 384.3h.6M295.9 385.1h.6M301.0 386.1h.6M306.3 387.3h.6M315.0 387.5h.6M321.8 396.5h.6M328.8 395.9h.6M335.3 396.7h.6M341.7 400.3h.6M348.8 409.3h.6M355.1 402.8h.6M361.7 412.2h.6M367.8 406.9h.6M375.2 409.6h.6M381.4 421.5h.6M388.8 415.2h.6M396.4 423.2h.6M403.1 429.8h.6M408.8 420.7h.6M415.9 429.0h.6M422.1 432.5h.6M429.3 433.0h.6M435.9 439.0h.6M444.0 440.7h.6M449.1 441.3h.6M455.8 445.6h.6M462.4 445.6h.6M468.7 442.5h.6M476.7 450.8h.6M484.5 454.7h.6M489.2 454.8h.6M495.7 455.7h.6M502.5 457.9h.6M64.4 354.2h.6M69.5 354.4h.6M75.3 354.3h.6M82.9 354.6h.6M92.1 354.6h.6M97.5 354.8h.6M103.6 354.8h.6M110.1 354.7h.6M117.2 354.8h.6M123.5 355.6h.6M131.2 355.2h.6M137.5 355.9h.6M144.7 356.3h.6M150.5 356.3h.6M158.5 359.0h.6M164.2 356.6h.6M170.5 357.1h.6M176.8 357.2h.6M183.7 360.1h.6M191.3 359.5h.6M198.1 360.0h.6M203.9 363.6h.6M210.6 360.2h.6M219.1 363.3h.6M224.6 366.5h.6M231.6 359.9h.6M238.2 368.2h.6M243.6 370.8h.6M251.0 363.5h.6M257.1 375.7h.6M264.4 372.3h.6M271.2 370.8h.6M277.9 374.1h.6M284.7 373.8h.6M290.2 380.4h.6M298.6 385.9h.6M305.6 384.3h.6M312.0 382.9h.6M319.0 385.7h.6M326.3 390.0h.6M332.1 391.6h.6M338.7 391.5h.6M345.9 401.7h.6M352.4 390.2h.6M358.7 402.9h.6M366.9 410.5h.6M372.4 404.0h.6M379.9 416.3h.6M385.1 409.2h.6M392.2 417.1h.6M398.6 418.5h.6M405.5 416.7h.6M412.5 424.9h.6M419.0 427.6h.6M427.0 433.4h.6M432.7 434.2h.6M440.3 435.3h.6M446.0 440.6h.6M452.0 446.4h.6M461.3 445.2h.6M466.7 445.3h.6M473.6 447.8h.6M479.4 450.6h.6M486.8 451.8h.6M493.6 451.0h.6M500.0 455.1h.6M69.0 355.2h.6M75.6 355.2h.6M82.7 355.3h.6M89.4 354.6h.6M97.1 355.1h.6M103.0 355.1h.6M109.8 355.1h.6M115.6 355.6h.6M122.0 356.3h.6M130.3 356.0h.6M135.8 355.8h.6M143.3 357.2h.6M149.2 357.1h.6M155.7 358.6h.6M163.7 358.2h.6M170.1 358.8h.6M176.5 361.8h.6M184.4 361.8h.6M188.8 362.7h.6M197.3 364.3h.6M203.6 362.7h.6M209.8 365.8h.6M216.7 360.9h.6M223.1 371.4h.6M230.9 363.2h.6M236.6 373.0h.6M245.1 372.6h.6M250.6 378.2h.6M257.8 377.9h.6M263.6 378.0h.6M271.0 379.4h.6M278.2 382.7h.6M284.4 384.9h.6M290.3 386.8h.6M297.1 391.0h.6M304.2 394.8h.6M312.4 390.2h.6M317.7 399.3h.6M325.6 392.6h.6M331.1 402.0h.6M338.9 398.5h.6M345.5 409.1h.6M351.5 406.9h.6M358.1 411.3h.6M365.6 418.9h.6M373.0 417.9h.6M378.1 421.6h.6M385.8 414.9h.6M391.2 419.4h.6M397.6 424.5h.6M405.4 425.6h.6M412.9 429.3h.6M419.3 431.7h.6M425.3 431.5h.6M433.3 442.8h.6M437.9 442.9h.6M445.4 442.8h.6M452.1 448.4h.6M459.5 446.0h.6M465.7 454.7h.6M472.3 450.8h.6M479.5 455.2h.6M485.7 454.4h.6M493.0 459.5h.6M499.3 462.8h.6M505.4 463.4h.6M68.4 354.3h.6M76.3 354.2h.6M82.6 355.0h.6M88.9 354.9h.6M95.8 355.3h.6M102.9 354.9h.6M109.2 355.5h.6M116.1 356.5h.6M123.1 355.1h.6M129.6 356.8h.6M135.8 356.5h.6M143.5 356.6h.6M148.2 356.5h.6M156.3 358.7h.6M164.0 357.0h.6M171.2 360.2h.6M176.7 360.5h.6M183.7 362.5h.6M192.2 358.9h.6M198.3 358.6h.6M203.5 365.2h.6M210.0 362.4h.6M215.2 366.9h.6M224.2 368.5h.6M229.8 366.4h.6M237.2 366.2h.6M243.1 376.8h.6M250.0 375.6h.6M258.4 372.6h.6M264.4 380.6h.6M272.6 376.7h.6M277.9 384.4h.6M285.7 380.5h.6M291.2 387.5h.6M297.8 392.6h.6M304.0 389.1h.6M311.1 396.5h.6M318.4 393.4h.6M325.6 402.8h.6M331.4 399.7h.6M337.4 403.7h.6M344.4 402.6h.6M350.3 409.6h.6M358.1 421.9h.6M362.9 412.5h.6M369.9 415.8h.6M378.7 418.4h.6M385.2 419.4h.6M391.0 420.5h.6M398.4 430.0h.6M405.2 425.6h.6M412.4 437.4h.6M417.6 433.0h.6M425.1 435.7h.6M430.7 438.8h.6M437.9 440.5h.6M445.0 444.7h.6M452.5 446.9h.6M459.1 447.0h.6M465.6 451.2h.6M472.6 452.2h.6M479.2 456.2h.6M485.6 456.6h.6M492.1 456.4h.6M500.0 462.6h.6M506.2 463.8h.6M64.0 353.9h.6M70.6 354.1h.6M75.8 354.1h.6M82.7 354.7h.6M90.7 354.7h.6M97.1 354.6h.6M104.4 354.8h.6M109.3 354.8h.6M118.1 355.4h.6M123.9 354.7h.6M130.0 355.0h.6M136.8 355.4h.6M145.1 354.9h.6M152.2 355.4h.6M157.6 356.0h.6M164.1 355.4h.6M171.9 357.1h.6M178.9 356.2h.6M182.5 359.0h.6M191.5 358.3h.6M198.2 357.9h.6M204.7 358.2h.6M212.8 356.8h.6M217.2 356.7h.6M225.1 362.9h.6M231.1 361.2h.6M238.7 359.6h.6M245.0 361.2h.6M252.4 367.5h.6M258.1 367.5h.6M266.0 364.7h.6M271.7 363.8h.6M279.4 370.5h.6M284.4 369.1h.6M291.5 372.5h.6M298.8 374.0h.6M305.4 375.4h.6M310.7 385.8h.6M317.9 384.8h.6M324.6 381.3h.6M332.0 388.2h.6M339.3 390.8h.6M343.1 382.4h.6M352.3 391.1h.6M359.8 397.1h.6M366.0 401.5h.6M372.2 401.4h.6M380.2 406.3h.6M384.3 400.7h.6M392.9 412.7h.6M400.0 417.1h.6M406.2 410.5h.6M413.3 416.7h.6M420.9 427.2h.6M426.1 419.5h.6M433.3 425.3h.6M440.4 432.4h.6M446.2 426.7h.6M454.1 427.1h.6M461.4 438.1h.6M466.2 445.7h.6M474.1 438.3h.6M479.1 442.2h.6M487.0 450.4h.6M494.6 449.1h.6M500.3 450.5h.6M69.0 353.8h.6M76.4 354.2h.6M83.3 353.7h.6M89.0 354.1h.6M94.6 353.6h.6M102.5 354.1h.6M109.0 353.8h.6M116.6 354.0h.6M121.9 354.2h.6M129.7 354.6h.6M137.3 354.3h.6M143.0 355.0h.6M150.3 355.0h.6M155.5 354.9h.6M163.7 355.3h.6M169.0 355.5h.6M176.5 355.7h.6M182.7 355.5h.6M190.4 356.5h.6M197.0 356.6h.6M203.7 355.4h.6M210.4 356.1h.6M216.1 357.3h.6M224.3 359.5h.6M231.5 358.9h.6M237.1 358.2h.6M243.7 358.8h.6M250.4 361.3h.6M257.2 360.6h.6M263.9 363.9h.6M270.1 360.2h.6M277.9 365.0h.6M283.7 361.1h.6M290.4 363.7h.6M297.8 368.5h.6M304.4 376.5h.6M310.5 366.3h.6M317.5 379.6h.6M325.0 375.5h.6M329.2 380.4h.6M337.0 389.6h.6M344.0 384.4h.6M352.4 382.9h.6M358.5 398.3h.6M365.3 394.7h.6M372.1 399.3h.6M378.3 402.8h.6M385.4 400.3h.6M391.8 405.0h.6M398.7 406.6h.6M403.9 413.2h.6M411.9 413.9h.6M419.0 420.0h.6M424.8 423.6h.6M432.8 423.8h.6M438.8 429.9h.6M445.0 433.4h.6M451.4 429.9h.6M458.5 443.9h.6M464.0 445.7h.6M471.8 442.7h.6M480.4 450.0h.6M486.1 452.0h.6M492.5 449.6h.6M500.0 453.4h.6M505.7 458.8h.6M64.3 354.0h.6M71.3 354.0h.6M77.1 353.9h.6M84.6 354.0h.6M90.0 353.9h.6M96.4 353.9h.6M104.9 354.2h.6M111.0 353.9h.6M117.4 354.9h.6M122.2 354.1h.6M132.7 354.8h.6M137.4 354.8h.6M144.4 354.9h.6M150.6 354.4h.6M158.1 355.0h.6M164.5 355.3h.6M169.5 354.8h.6M177.0 355.8h.6M184.6 355.2h.6M191.9 355.1h.6M196.7 358.3h.6M204.6 356.3h.6M211.0 356.0h.6M216.3 356.6h.6M225.5 358.2h.6M230.8 356.0h.6M237.7 357.3h.6M244.8 358.6h.6M250.5 358.6h.6M258.9 361.0h.6M265.8 358.9h.6M271.5 364.9h.6M279.7 364.7h.6M286.2 368.8h.6M290.8 369.9h.6M298.4 373.1h.6M305.2 371.3h.6M312.1 376.5h.6M318.3 373.4h.6M324.8 380.5h.6M331.9 377.4h.6M339.1 388.6h.6M345.9 391.6h.6M353.2 387.3h.6M359.5 391.0h.6M366.4 394.9h.6M372.2 395.4h.6M378.1 400.5h.6M387.5 399.8h.6M391.6 404.8h.6M399.1 406.6h.6M406.6 413.6h.6M412.0 418.4h.6M419.4 420.7h.6M426.1 417.9h.6M433.3 427.3h.6M441.6 434.1h.6M446.6 427.7h.6M453.3 440.9h.6M460.5 441.4h.6M467.3 440.7h.6M474.3 442.1h.6M479.2 444.3h.6M486.5 450.6h.6M494.7 456.0h.6M500.1 449.6h.6M68.6 353.7h.6M75.4 353.7h.6M82.0 353.9h.6M88.6 353.5h.6M97.1 353.6h.6M102.7 353.9h.6M109.0 353.7h.6M115.7 353.9h.6M122.8 353.8h.6M130.1 354.4h.6M136.9 353.9h.6M141.7 354.7h.6M149.7 354.5h.6M157.3 354.2h.6M163.5 355.0h.6M170.9 354.8h.6M177.4 354.6h.6M185.0 355.3h.6M190.0 355.0h.6M197.6 355.3h.6M203.0 355.2h.6M210.3 356.8h.6M218.2 355.1h.6M224.7 356.7h.6M230.5 355.4h.6M237.8 355.9h.6M243.0 357.0h.6M250.0 356.2h.6M256.7 360.0h.6M263.0 359.3h.6M271.4 358.8h.6M276.3 358.2h.6M284.1 359.0h.6M291.9 361.1h.6M298.4 362.9h.6M303.9 364.9h.6M310.6 367.2h.6M318.2 369.9h.6M323.5 375.3h.6M331.5 373.3h.6M338.5 376.6h.6M346.3 383.6h.6M352.1 385.4h.6M358.0 380.5h.6M364.4 389.6h.6M371.4 394.7h.6M378.9 398.5h.6M385.0 396.4h.6M392.1 399.1h.6M398.1 412.5h.6M405.0 403.3h.6M411.9 403.9h.6M417.7 413.3h.6M425.7 416.3h.6M431.9 416.6h.6M439.0 426.4h.6M445.9 425.2h.6M452.7 432.9h.6M458.5 426.3h.6M467.7 437.7h.6M473.1 436.4h.6M479.1 439.1h.6M485.0 448.6h.6M493.5 449.1h.6M499.6 448.6h.6M506.0 450.0h.6M68.0 354.2h.6M73.9 354.6h.6M80.4 354.1h.6M87.8 355.1h.6M94.5 355.1h.6M100.6 355.2h.6M107.1 355.0h.6M116.6 354.8h.6M122.3 354.5h.6M127.6 355.5h.6M134.4 355.0h.6M142.1 356.0h.6M147.6 356.2h.6M154.9 355.7h.6M160.3 357.9h.6M168.3 357.4h.6M176.4 358.7h.6M182.3 359.5h.6M188.9 358.1h.6M196.4 360.0h.6M202.4 359.2h.6M209.1 363.5h.6M214.8 360.8h.6M220.8 367.9h.6M227.9 368.1h.6M235.7 363.5h.6M241.1 366.3h.6M249.7 368.3h.6M256.7 375.5h.6M261.4 373.2h.6M269.9 374.7h.6M275.6 384.2h.6M283.5 377.4h.6M288.7 379.6h.6M296.8 382.0h.6M302.3 386.2h.6M308.5 381.4h.6M314.9 395.2h.6M322.6 388.1h.6M329.1 388.5h.6M337.2 402.0h.6M342.0 405.0h.6M350.5 403.6h.6M357.0 403.4h.6M362.9 399.3h.6M370.0 414.8h.6M378.4 411.0h.6M382.8 417.9h.6M390.8 417.6h.6M397.5 424.8h.6M403.5 421.0h.6M409.1 427.1h.6M416.8 426.7h.6M423.7 430.2h.6M431.2 431.2h.6M436.8 440.5h.6M442.5 434.2h.6M449.6 444.8h.6M457.6 442.9h.6M463.2 446.8h.6M471.5 451.5h.6M478.3 448.6h.6M483.8 454.4h.6M490.1 453.4h.6M497.2 459.8h.6M504.1 462.0h.6M63.9 354.9h.6M71.7 354.4h.6M76.7 355.2h.6M83.1 355.1h.6M90.6 355.0h.6M97.4 354.9h.6M104.4 355.3h.6M109.9 355.4h.6M117.9 355.3h.6M123.6 356.1h.6M129.8 355.8h.6M137.0 356.6h.6M144.8 356.0h.6M150.6 357.2h.6M156.1 358.2h.6M164.6 359.4h.6M171.5 359.8h.6M177.5 361.3h.6M184.3 360.4h.6M191.3 360.1h.6M196.7 359.2h.6M204.7 365.4h.6M212.2 367.1h.6M218.7 367.5h.6M224.4 366.7h.6M231.3 370.5h.6M240.0 372.1h.6M243.8 367.9h.6M251.6 377.9h.6M257.9 374.3h.6M264.3 375.6h.6M271.2 379.1h.6M278.1 385.5h.6M286.2 379.3h.6M292.9 383.3h.6M299.7 384.4h.6M306.0 384.2h.6M311.4 382.1h.6M318.6 394.3h.6M327.1 391.9h.6M332.5 398.4h.6M337.8 404.3h.6M345.6 401.3h.6M351.1 403.1h.6M359.3 403.4h.6M366.8 409.7h.6M373.4 407.5h.6M379.4 408.1h.6M386.1 412.8h.6M392.8 418.7h.6M398.1 418.7h.6M406.0 423.1h.6M413.3 423.9h.6M419.4 426.6h.6M426.9 435.1h.6M433.4 438.1h.6M440.3 441.0h.6M445.6 441.8h.6M453.5 442.9h.6M459.7 439.4h.6M467.6 448.2h.6M472.7 451.9h.6M480.9 450.4h.6M486.8 451.5h.6M493.5 457.4h.6M500.7 459.6h.6" stroke="#0909bd" stroke-width="2.1" stroke-linecap="round" fill="none"/><path d="M58.5 171.6L60.7 171.8L63.0 172.1L65.2 172.2L67.5 172.3L69.7 172.3L71.9 172.1L74.2 171.9L76.4 171.6L78.7 171.2L80.9 170.8L83.1 170.3L85.4 169.8L87.6 169.3L89.9 168.9L92.1 168.5L94.3 168.0L96.6 167.7L98.8 167.3L101.1 167.0L103.3 166.7L105.5 166.5L107.8 166.3L110.0 166.1L112.3 165.9L114.5 165.7L116.7 165.6L119.0 165.4L121.2 165.3L123.5 165.1L125.7 165.0L127.9 164.8L130.2 164.6L132.4 164.5L134.7 164.2L136.9 164.0L139.1 163.7L141.4 163.4L143.6 163.0L145.9 162.6L148.1 162.1L150.3 161.5L152.6 160.9L154.8 160.2L157.1 159.5L159.3 158.7L161.5 157.8L163.8 157.0L166.0 156.1L168.3 155.2L170.5 154.3L172.7 153.3L175.0 152.3L177.2 151.4L179.5 150.4L181.7 149.4L183.9 148.4L186.2 147.3L188.4 146.3L190.7 145.2L192.9 144.1L195.1 143.0L197.4 141.8L199.6 140.7L201.9 139.5L204.1 138.4L206.3 137.3L208.6 136.2L210.8 135.1L213.1 134.1L215.3 133.1L217.5 132.2L219.8 131.3L222.0 130.4L224.3 129.5L226.5 128.6L228.7 127.8L231.0 127.0L233.2 126.2L235.5 125.4L237.7 124.6L239.9 123.9L242.2 123.2L244.4 122.5L246.7 121.9L248.9 121.3L251.1 120.7L253.4 120.1L255.6 119.6L257.9 119.2L260.1 118.7L262.3 118.4L264.6 118.0L266.8 117.7L269.1 117.5L271.3 117.3L273.5 117.1L275.8 117.0L278.0 116.9L280.3 116.8L282.5 116.8L284.7 116.8L287.0 116.8L289.2 116.9L291.5 117.0L293.7 117.1L295.9 117.2L298.2 117.3L300.4 117.5L302.7 117.6L304.9 117.8L307.1 117.9L309.4 118.1L311.6 118.2L313.9 118.4L316.1 118.5L318.3 118.6L320.6 118.7L322.8 118.8L325.1 118.9L327.3 118.9L329.5 118.9L331.8 118.9L334.0 118.8L336.3 118.7L338.5 118.6L340.7 118.4L343.0 118.2L345.2 118.0L347.5 117.7L349.7 117.4L351.9 117.0L354.2 116.6L356.4 116.2L358.7 115.7L360.9 115.2L363.1 114.6L365.4 114.0L367.6 113.4L369.9 112.7L372.1 112.0L374.3 111.3L376.6 110.6L378.8 109.8L381.1 109.1L383.3 108.3L385.5 107.6L387.8 106.9L390.0 106.2L392.3 105.5L394.5 104.9L396.7 104.3L399.0 103.7L401.2 103.2L403.5 102.8L405.7 102.3L407.9 101.9L410.2 101.6L412.4 101.2L414.7 100.9L416.9 100.6L419.1 100.4L421.4 100.1L423.6 99.9L425.9 99.7L428.1 99.5L430.3 99.3L432.6 99.2L434.8 99.1L437.1 99.0L439.3 98.9L441.5 98.9L443.8 98.8L446.0 98.8L448.3 98.8L450.5 98.8L452.7 98.8L455.0 98.8L457.2 98.8L459.5 98.8L461.7 98.8L463.9 98.7L466.2 98.6L468.4 98.5L470.7 98.4L472.9 98.3L475.1 98.1L477.4 98.0L479.6 97.8L481.9 97.6L484.1 97.5L486.3 97.3L488.6 97.1L490.8 96.9L493.1 96.8L495.3 96.6L497.5 96.4L499.8 96.2L502.0 96.0L504.3 95.8L506.5 95.7" stroke="#f21c1c" stroke-width="1.5" fill="none"/><path d="M58.5 264.1L60.7 263.0L63.0 262.0L65.2 261.0L67.5 260.1L69.7 259.3L71.9 258.6L74.2 258.0L76.4 257.5L78.7 257.1L80.9 256.7L83.1 256.4L85.4 256.2L87.6 255.9L89.9 255.7L92.1 255.5L94.3 255.3L96.6 255.1L98.8 254.9L101.1 254.7L103.3 254.5L105.5 254.3L107.8 254.1L110.0 253.9L112.3 253.7L114.5 253.5L116.7 253.2L119.0 253.0L121.2 252.7L123.5 252.4L125.7 252.0L127.9 251.7L130.2 251.3L132.4 250.9L134.7 250.5L136.9 250.0L139.1 249.6L141.4 249.1L143.6 248.7L145.9 248.2L148.1 247.7L150.3 247.3L152.6 246.8L154.8 246.3L157.1 245.9L159.3 245.4L161.5 245.0L163.8 244.5L166.0 244.0L168.3 243.6L170.5 243.1L172.7 242.7L175.0 242.3L177.2 241.8L179.5 241.4L181.7 241.0L183.9 240.6L186.2 240.3L188.4 239.9L190.7 239.6L192.9 239.4L195.1 239.2L197.4 239.1L199.6 239.0L201.9 239.0L204.1 239.1L206.3 239.2L208.6 239.4L210.8 239.6L213.1 239.9L215.3 240.2L217.5 240.5L219.8 240.9L222.0 241.2L224.3 241.6L226.5 242.0L228.7 242.4L231.0 242.8L233.2 243.3L235.5 243.7L237.7 244.2L239.9 244.7L242.2 245.2L244.4 245.7L246.7 246.2L248.9 246.8L251.1 247.4L253.4 247.9L255.6 248.6L257.9 249.2L260.1 249.9L262.3 250.6L264.6 251.3L266.8 252.0L269.1 252.8L271.3 253.6L273.5 254.3L275.8 255.1L278.0 255.9L280.3 256.6L282.5 257.3L284.7 258.0L287.0 258.6L289.2 259.2L291.5 259.8L293.7 260.3L295.9 260.7L298.2 261.1L300.4 261.4L302.7 261.7L304.9 262.0L307.1 262.2L309.4 262.4L311.6 262.6L313.9 262.8L316.1 262.9L318.3 263.0L320.6 263.2L322.8 263.3L325.1 263.4L327.3 263.5L329.5 263.6L331.8 263.6L334.0 263.7L336.3 263.8L338.5 263.8L340.7 263.9L343.0 263.9L345.2 264.0L347.5 264.0L349.7 264.1L351.9 264.1L354.2 264.1L356.4 264.2L358.7 264.2L360.9 264.2L363.1 264.2L365.4 264.2L367.6 264.2L369.9 264.3L372.1 264.2L374.3 264.2L376.6 264.2L378.8 264.2L381.1 264.2L383.3 264.2L385.5 264.2L387.8 264.2L390.0 264.1L392.3 264.1L394.5 264.1L396.7 264.1L399.0 264.1L401.2 264.1L403.5 264.1L405.7 264.2L407.9 264.2L410.2 264.2L412.4 264.3L414.7 264.4L416.9 264.5L419.1 264.6L421.4 264.7L423.6 264.8L425.9 265.0L428.1 265.1L430.3 265.3L432.6 265.5L434.8 265.6L437.1 265.8L439.3 266.0L441.5 266.1L443.8 266.3L446.0 266.5L448.3 266.6L450.5 266.8L452.7 266.9L455.0 267.1L457.2 267.2L459.5 267.4L461.7 267.5L463.9 267.6L466.2 267.8L468.4 267.9L470.7 268.0L472.9 268.1L475.1 268.2L477.4 268.3L479.6 268.4L481.9 268.5L484.1 268.6L486.3 268.7L488.6 268.8L490.8 268.9L493.1 269.0L495.3 269.1L497.5 269.1L499.8 269.2L502.0 269.3L504.3 269.4L506.5 269.4" stroke="#f21c1c" stroke-width="1.5" fill="none"/><path d="M58.5 354.0L60.7 354.0L63.0 354.0L65.2 354.1L67.5 354.1L69.7 354.1L71.9 354.1L74.2 354.2L76.4 354.2L78.7 354.2L80.9 354.2L83.1 354.3L85.4 354.3L87.6 354.3L89.9 354.4L92.1 354.4L94.3 354.4L96.6 354.5L98.8 354.5L101.1 354.6L103.3 354.6L105.5 354.7L107.8 354.8L110.0 354.8L112.3 354.9L114.5 355.0L116.7 355.1L119.0 355.1L121.2 355.2L123.5 355.3L125.7 355.4L127.9 355.5L130.2 355.6L132.4 355.7L134.7 355.8L136.9 355.9L139.1 355.9L141.4 356.0L143.6 356.1L145.9 356.2L148.1 356.3L150.3 356.3L152.6 356.4L154.8 356.5L157.1 356.6L159.3 356.6L161.5 356.7L163.8 356.8L166.0 356.9L168.3 357.0L170.5 357.0L172.7 357.1L175.0 357.2L177.2 357.4L179.5 357.5L181.7 357.6L183.9 357.7L186.2 357.9L188.4 358.1L190.7 358.2L192.9 358.4L195.1 358.6L197.4 358.8L199.6 359.1L201.9 359.3L204.1 359.6L206.3 359.9L208.6 360.2L210.8 360.5L213.1 360.9L215.3 361.3L217.5 361.7L219.8 362.1L222.0 362.5L224.3 363.0L226.5 363.5L228.7 364.0L231.0 364.5L233.2 365.0L235.5 365.5L237.7 366.1L239.9 366.6L242.2 367.1L244.4 367.6L246.7 368.2L248.9 368.7L251.1 369.3L253.4 369.8L255.6 370.4L257.9 371.0L260.1 371.7L262.3 372.3L264.6 373.0L266.8 373.7L269.1 374.4L271.3 375.2L273.5 375.9L275.8 376.7L278.0 377.4L280.3 378.2L282.5 379.0L284.7 379.7L287.0 380.5L289.2 381.3L291.5 382.0L293.7 382.8L295.9 383.6L298.2 384.4L300.4 385.1L302.7 385.9L304.9 386.7L307.1 387.5L309.4 388.2L311.6 389.0L313.9 389.8L316.1 390.5L318.3 391.3L320.6 392.0L322.8 392.8L325.1 393.5L327.3 394.2L329.5 395.0L331.8 395.7L334.0 396.4L336.3 397.1L338.5 397.8L340.7 398.6L343.0 399.3L345.2 400.0L347.5 400.8L349.7 401.5L351.9 402.3L354.2 403.1L356.4 403.9L358.7 404.7L360.9 405.5L363.1 406.3L365.4 407.2L367.6 408.0L369.9 408.9L372.1 409.7L374.3 410.5L376.6 411.4L378.8 412.2L381.1 413.1L383.3 413.9L385.5 414.8L387.8 415.6L390.0 416.5L392.3 417.4L394.5 418.2L396.7 419.1L399.0 420.0L401.2 420.9L403.5 421.7L405.7 422.6L407.9 423.5L410.2 424.4L412.4 425.3L414.7 426.3L416.9 427.2L419.1 428.1L421.4 429.1L423.6 430.0L425.9 431.0L428.1 431.9L430.3 432.9L432.6 433.9L434.8 434.8L437.1 435.8L439.3 436.7L441.5 437.7L443.8 438.6L446.0 439.6L448.3 440.5L450.5 441.4L452.7 442.3L455.0 443.3L457.2 444.2L459.5 445.1L461.7 446.0L463.9 446.9L466.2 447.8L468.4 448.7L470.7 449.6L472.9 450.6L475.1 451.5L477.4 452.4L479.6 453.3L481.9 454.2L484.1 455.1L486.3 456.0L488.6 456.9L490.8 457.8L493.1 458.7L495.3 459.7L497.5 460.6L499.8 461.5L502.0 462.4L504.3 463.3L506.5 464.2" stroke="#f21c1c" stroke-width="1.5" fill="none"/><line x1="222.95" y1="37.5" x2="222.95" y2="480.3" stroke="#ff2a2a" stroke-width="1.8" stroke-dasharray="5.4 6.53" stroke-dashoffset="3.93"/><line x1="291.00" y1="37.5" x2="291.00" y2="480.3" stroke="#ff2a2a" stroke-width="1.8" stroke-dasharray="5.4 6.53" stroke-dashoffset="3.93"/><line x1="434.90" y1="37.5" x2="434.90" y2="480.3" stroke="#ff2a2a" stroke-width="1.8" stroke-dasharray="5.4 6.53" stroke-dashoffset="3.93"/><path d="M58.5 37.5H506.5V173.4H58.5ZM58.5 37.5v3M58.5 173.4v3M80.9 37.5v1.6M80.9 173.4v1.6M103.3 37.5v3M103.3 173.4v3M125.7 37.5v1.6M125.7 173.4v1.6M148.1 37.5v3M148.1 173.4v3M170.5 37.5v1.6M170.5 173.4v1.6M192.9 37.5v3M192.9 173.4v3M215.3 37.5v1.6M215.3 173.4v1.6M237.7 37.5v3M237.7 173.4v3M260.1 37.5v1.6M260.1 173.4v1.6M282.5 37.5v3M282.5 173.4v3M304.9 37.5v1.6M304.9 173.4v1.6M327.3 37.5v3M327.3 173.4v3M349.7 37.5v1.6M349.7 173.4v1.6M372.1 37.5v3M372.1 173.4v3M394.5 37.5v1.6M394.5 173.4v1.6M416.9 37.5v3M416.9 173.4v3M439.3 37.5v1.6M439.3 173.4v1.6M461.7 37.5v3M461.7 173.4v3M484.1 37.5v1.6M484.1 173.4v1.6M506.5 37.5v3M506.5 173.4v3M58.5 189.3H506.5V326.6H58.5ZM58.5 189.3v3M58.5 326.6v3M80.9 189.3v1.6M80.9 326.6v1.6M103.3 189.3v3M103.3 326.6v3M125.7 189.3v1.6M125.7 326.6v1.6M148.1 189.3v3M148.1 326.6v3M170.5 189.3v1.6M170.5 326.6v1.6M192.9 189.3v3M192.9 326.6v3M215.3 189.3v1.6M215.3 326.6v1.6M237.7 189.3v3M237.7 326.6v3M260.1 189.3v1.6M260.1 326.6v1.6M282.5 189.3v3M282.5 326.6v3M304.9 189.3v1.6M304.9 326.6v1.6M327.3 189.3v3M327.3 326.6v3M349.7 189.3v1.6M349.7 326.6v1.6M372.1 189.3v3M372.1 326.6v3M394.5 189.3v1.6M394.5 326.6v1.6M416.9 189.3v3M416.9 326.6v3M439.3 189.3v1.6M439.3 326.6v1.6M461.7 189.3v3M461.7 326.6v3M484.1 189.3v1.6M484.1 326.6v1.6M506.5 189.3v3M506.5 326.6v3M58.5 344.7H506.5V480.3H58.5ZM58.5 344.7v3M58.5 480.3v3M80.9 344.7v1.6M80.9 480.3v1.6M103.3 344.7v3M103.3 480.3v3M125.7 344.7v1.6M125.7 480.3v1.6M148.1 344.7v3M148.1 480.3v3M170.5 344.7v1.6M170.5 480.3v1.6M192.9 344.7v3M192.9 480.3v3M215.3 344.7v1.6M215.3 480.3v1.6M237.7 344.7v3M237.7 480.3v3M260.1 344.7v1.6M260.1 480.3v1.6M282.5 344.7v3M282.5 480.3v3M304.9 344.7v1.6M304.9 480.3v1.6M327.3 344.7v3M327.3 480.3v3M349.7 344.7v1.6M349.7 480.3v1.6M372.1 344.7v3M372.1 480.3v3M394.5 344.7v1.6M394.5 480.3v1.6M416.9 344.7v3M416.9 480.3v3M439.3 344.7v1.6M439.3 480.3v1.6M461.7 344.7v3M461.7 480.3v3M484.1 344.7v1.6M484.1 480.3v1.6M506.5 344.7v3M506.5 480.3v3M55.0 173.4h7M503.0 173.4h7M55.0 161.3h7M503.0 161.3h7M55.0 149.2h7M503.0 149.2h7M55.0 137.1h7M503.0 137.1h7M55.0 125.0h7M503.0 125.0h7M55.0 112.9h7M503.0 112.9h7M55.0 100.8h7M503.0 100.8h7M55.0 88.7h7M503.0 88.7h7M55.0 76.6h7M503.0 76.6h7M55.0 64.5h7M503.0 64.5h7M55.0 52.4h7M503.0 52.4h7M55.0 40.3h7M503.0 40.3h7M57.0 167.3h3M505.0 167.3h3M57.0 155.2h3M505.0 155.2h3M57.0 143.2h3M505.0 143.2h3M57.0 131.1h3M505.0 131.1h3M57.0 119.0h3M505.0 119.0h3M57.0 106.9h3M505.0 106.9h3M57.0 94.8h3M505.0 94.8h3M57.0 82.7h3M505.0 82.7h3M57.0 70.6h3M505.0 70.6h3M57.0 58.5h3M505.0 58.5h3M57.0 46.4h3M505.0 46.4h3M55.0 326.6h7M503.0 326.6h7M55.0 307.5h7M503.0 307.5h7M55.0 288.5h7M503.0 288.5h7M55.0 269.4h7M503.0 269.4h7M55.0 250.4h7M503.0 250.4h7M55.0 231.3h7M503.0 231.3h7M55.0 212.3h7M503.0 212.3h7M55.0 193.2h7M503.0 193.2h7M57.0 317.1h3M505.0 317.1h3M57.0 298.0h3M505.0 298.0h3M57.0 279.0h3M505.0 279.0h3M57.0 259.9h3M505.0 259.9h3M57.0 240.9h3M505.0 240.9h3M57.0 221.8h3M505.0 221.8h3M57.0 202.7h3M505.0 202.7h3M55.0 472.4h7M503.0 472.4h7M55.0 457.3h7M503.0 457.3h7M55.0 442.3h7M503.0 442.3h7M55.0 427.2h7M503.0 427.2h7M55.0 412.2h7M503.0 412.2h7M55.0 397.1h7M503.0 397.1h7M55.0 382.1h7M503.0 382.1h7M55.0 367.0h7M503.0 367.0h7M55.0 352.0h7M503.0 352.0h7M57.0 464.9h3M505.0 464.9h3M57.0 449.8h3M505.0 449.8h3M57.0 434.8h3M505.0 434.8h3M57.0 419.7h3M505.0 419.7h3M57.0 404.7h3M505.0 404.7h3M57.0 389.6h3M505.0 389.6h3M57.0 374.6h3M505.0 374.6h3M57.0 359.5h3M505.0 359.5h3M57.0 344.5h3M505.0 344.5h3" stroke="#4d4d4d" stroke-width="0.9" fill="none"/><g font-family="'Liberation Sans', Arial, sans-serif" font-size="6.6" fill="#1c1c1c" stroke="#1c1c1c" stroke-width="0.16" style="text-rendering:geometricPrecision"><text transform="translate(52.0 175.6) scale(1.19 1)" text-anchor="end">0</text><text transform="translate(513.3 175.6) scale(1.19 1)" text-anchor="start">0</text><text transform="translate(52.0 163.5) scale(1.19 1)" text-anchor="end">2</text><text transform="translate(513.3 163.5) scale(1.19 1)" text-anchor="start">2</text><text transform="translate(52.0 151.4) scale(1.19 1)" text-anchor="end">4</text><text transform="translate(513.3 151.4) scale(1.19 1)" text-anchor="start">4</text><text transform="translate(52.0 139.3) scale(1.19 1)" text-anchor="end">6</text><text transform="translate(513.3 139.3) scale(1.19 1)" text-anchor="start">6</text><text transform="translate(52.0 127.2) scale(1.19 1)" text-anchor="end">8</text><text transform="translate(513.3 127.2) scale(1.19 1)" text-anchor="start">8</text><text transform="translate(52.0 115.1) scale(1.19 1)" text-anchor="end">10</text><text transform="translate(513.3 115.1) scale(1.19 1)" text-anchor="start">10</text><text transform="translate(52.0 103.0) scale(1.19 1)" text-anchor="end">12</text><text transform="translate(513.3 103.0) scale(1.19 1)" text-anchor="start">12</text><text transform="translate(52.0 90.9) scale(1.19 1)" text-anchor="end">14</text><text transform="translate(513.3 90.9) scale(1.19 1)" text-anchor="start">14</text><text transform="translate(52.0 78.8) scale(1.19 1)" text-anchor="end">16</text><text transform="translate(513.3 78.8) scale(1.19 1)" text-anchor="start">16</text><text transform="translate(52.0 66.7) scale(1.19 1)" text-anchor="end">18</text><text transform="translate(513.3 66.7) scale(1.19 1)" text-anchor="start">18</text><text transform="translate(52.0 54.6) scale(1.19 1)" text-anchor="end">20</text><text transform="translate(513.3 54.6) scale(1.19 1)" text-anchor="start">20</text><text transform="translate(52.0 42.5) scale(1.19 1)" text-anchor="end">22</text><text transform="translate(513.3 42.5) scale(1.19 1)" text-anchor="start">22</text><text transform="translate(52.0 328.8) scale(1.19 1)" text-anchor="end">0</text><text transform="translate(513.3 328.8) scale(1.19 1)" text-anchor="start">0</text><text transform="translate(52.0 309.7) scale(1.19 1)" text-anchor="end">50</text><text transform="translate(513.3 309.7) scale(1.19 1)" text-anchor="start">50</text><text transform="translate(52.0 290.7) scale(1.19 1)" text-anchor="end">100</text><text transform="translate(513.3 290.7) scale(1.19 1)" text-anchor="start">100</text><text transform="translate(52.0 271.6) scale(1.19 1)" text-anchor="end">150</text><text transform="translate(513.3 271.6) scale(1.19 1)" text-anchor="start">150</text><text transform="translate(52.0 252.6) scale(1.19 1)" text-anchor="end">200</text><text transform="translate(513.3 252.6) scale(1.19 1)" text-anchor="start">200</text><text transform="translate(52.0 233.5) scale(1.19 1)" text-anchor="end">250</text><text transform="translate(513.3 233.5) scale(1.19 1)" text-anchor="start">250</text><text transform="translate(52.0 214.5) scale(1.19 1)" text-anchor="end">300</text><text transform="translate(513.3 214.5) scale(1.19 1)" text-anchor="start">300</text><text transform="translate(52.0 195.4) scale(1.19 1)" text-anchor="end">350</text><text transform="translate(513.3 195.4) scale(1.19 1)" text-anchor="start">350</text><text transform="translate(52.0 474.6) scale(1.19 1)" text-anchor="end">34.92</text><text transform="translate(513.3 474.6) scale(1.19 1)" text-anchor="start">34.92</text><text transform="translate(52.0 459.5) scale(1.19 1)" text-anchor="end">34.94</text><text transform="translate(513.3 459.5) scale(1.19 1)" text-anchor="start">34.94</text><text transform="translate(52.0 444.5) scale(1.19 1)" text-anchor="end">34.96</text><text transform="translate(513.3 444.5) scale(1.19 1)" text-anchor="start">34.96</text><text transform="translate(52.0 429.4) scale(1.19 1)" text-anchor="end">34.98</text><text transform="translate(513.3 429.4) scale(1.19 1)" text-anchor="start">34.98</text><text transform="translate(52.0 414.4) scale(1.19 1)" text-anchor="end">35.00</text><text transform="translate(513.3 414.4) scale(1.19 1)" text-anchor="start">35.00</text><text transform="translate(52.0 399.3) scale(1.19 1)" text-anchor="end">35.02</text><text transform="translate(513.3 399.3) scale(1.19 1)" text-anchor="start">35.02</text><text transform="translate(52.0 384.3) scale(1.19 1)" text-anchor="end">35.04</text><text transform="translate(513.3 384.3) scale(1.19 1)" text-anchor="start">35.04</text><text transform="translate(52.0 369.2) scale(1.19 1)" text-anchor="end">35.06</text><text transform="translate(513.3 369.2) scale(1.19 1)" text-anchor="start">35.06</text><text transform="translate(52.0 354.2) scale(1.19 1)" text-anchor="end">35.08</text><text transform="translate(513.3 354.2) scale(1.19 1)" text-anchor="start">35.08</text><text transform="translate(59.0 33.2) scale(1.19 1)" text-anchor="middle">0</text><text transform="translate(103.8 33.2) scale(1.19 1)" text-anchor="middle">10</text><text transform="translate(148.6 33.2) scale(1.19 1)" text-anchor="middle">20</text><text transform="translate(193.4 33.2) scale(1.19 1)" text-anchor="middle">30</text><text transform="translate(238.2 33.2) scale(1.19 1)" text-anchor="middle">40</text><text transform="translate(283.0 33.2) scale(1.19 1)" text-anchor="middle">50</text><text transform="translate(327.8 33.2) scale(1.19 1)" text-anchor="middle">60</text><text transform="translate(372.6 33.2) scale(1.19 1)" text-anchor="middle">70</text><text transform="translate(417.4 33.2) scale(1.19 1)" text-anchor="middle">80</text><text transform="translate(462.2 33.2) scale(1.19 1)" text-anchor="middle">90</text><text transform="translate(507.0 33.2) scale(1.19 1)" text-anchor="middle">100</text><text transform="translate(59.0 182.9) scale(1.19 1)" text-anchor="middle">0</text><text transform="translate(103.8 182.9) scale(1.19 1)" text-anchor="middle">10</text><text transform="translate(148.6 182.9) scale(1.19 1)" text-anchor="middle">20</text><text transform="translate(193.4 182.9) scale(1.19 1)" text-anchor="middle">30</text><text transform="translate(238.2 182.9) scale(1.19 1)" text-anchor="middle">40</text><text transform="translate(283.0 182.9) scale(1.19 1)" text-anchor="middle">50</text><text transform="translate(327.8 182.9) scale(1.19 1)" text-anchor="middle">60</text><text transform="translate(372.6 182.9) scale(1.19 1)" text-anchor="middle">70</text><text transform="translate(417.4 182.9) scale(1.19 1)" text-anchor="middle">80</text><text transform="translate(462.2 182.9) scale(1.19 1)" text-anchor="middle">90</text><text transform="translate(507.0 182.9) scale(1.19 1)" text-anchor="middle">100</text><text transform="translate(59.0 340.3) scale(1.19 1)" text-anchor="middle">0</text><text transform="translate(103.8 340.3) scale(1.19 1)" text-anchor="middle">10</text><text transform="translate(148.6 340.3) scale(1.19 1)" text-anchor="middle">20</text><text transform="translate(193.4 340.3) scale(1.19 1)" text-anchor="middle">30</text><text transform="translate(238.2 340.3) scale(1.19 1)" text-anchor="middle">40</text><text transform="translate(283.0 340.3) scale(1.19 1)" text-anchor="middle">50</text><text transform="translate(327.8 340.3) scale(1.19 1)" text-anchor="middle">60</text><text transform="translate(372.6 340.3) scale(1.19 1)" text-anchor="middle">70</text><text transform="translate(417.4 340.3) scale(1.19 1)" text-anchor="middle">80</text><text transform="translate(462.2 340.3) scale(1.19 1)" text-anchor="middle">90</text><text transform="translate(507.0 340.3) scale(1.19 1)" text-anchor="middle">100</text><text transform="translate(59.0 490.3) scale(1.19 1)" text-anchor="middle">0</text><text transform="translate(103.8 490.3) scale(1.19 1)" text-anchor="middle">10</text><text transform="translate(148.6 490.3) scale(1.19 1)" text-anchor="middle">20</text><text transform="translate(193.4 490.3) scale(1.19 1)" text-anchor="middle">30</text><text transform="translate(238.2 490.3) scale(1.19 1)" text-anchor="middle">40</text><text transform="translate(283.0 490.3) scale(1.19 1)" text-anchor="middle">50</text><text transform="translate(327.8 490.3) scale(1.19 1)" text-anchor="middle">60</text><text transform="translate(372.6 490.3) scale(1.19 1)" text-anchor="middle">70</text><text transform="translate(417.4 490.3) scale(1.19 1)" text-anchor="middle">80</text><text transform="translate(462.2 490.3) scale(1.19 1)" text-anchor="middle">90</text><text transform="translate(507.0 490.3) scale(1.19 1)" text-anchor="middle">100</text></g><g font-family="'Liberation Sans', Arial, sans-serif" fill="#141414" stroke="#141414" stroke-width="0.15" style="text-rendering:geometricPrecision"><text x="136.6" y="20.3" text-anchor="middle" font-weight="bold" font-size="9" textLength="69.1" lengthAdjust="spacingAndGlyphs">Unberthing Phase</text><text x="255.6" y="20.3" text-anchor="middle" font-weight="bold" font-size="9" textLength="69.6" lengthAdjust="spacingAndGlyphs">Breakwater Phase</text><text x="367.1" y="20.3" text-anchor="middle" font-weight="bold" font-size="9" textLength="63.8" lengthAdjust="spacingAndGlyphs">Waterway Phase</text><text x="468.8" y="20.3" text-anchor="middle" font-weight="bold" font-size="9" textLength="63.8" lengthAdjust="spacingAndGlyphs">Departure Phase</text><text x="282.6" y="501.6" text-anchor="middle" font-size="8.8" textLength="87" lengthAdjust="spacingAndGlyphs">Scaled Time Series</text><text transform="translate(36.1 110.0) rotate(-90)" text-anchor="middle" font-size="10.5" textLength="86.6" lengthAdjust="spacingAndGlyphs">Speed over Ground (knots)</text><text transform="translate(31.6 262.9) rotate(-90)" text-anchor="middle" font-size="10.5" textLength="65.7" lengthAdjust="spacingAndGlyphs">Course over Ground</text><text transform="translate(24.6 417.1) rotate(-90)" text-anchor="middle" font-size="10.5" textLength="50.3" lengthAdjust="spacingAndGlyphs">Latitude (North)</text></g></svg></body></html>
